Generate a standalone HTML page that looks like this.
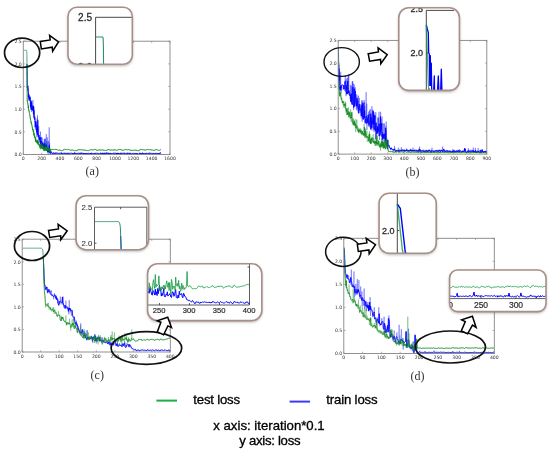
<!DOCTYPE html><html><head><meta charset="utf-8"><title>loss curves</title><style>html,body{margin:0;padding:0;background:#fff;width:550px;height:453px;overflow:hidden}svg{display:block}</style></head><body><svg width="550" height="453" viewBox="0 0 550 453"><defs><filter id="sh" x="-20%" y="-20%" width="140%" height="150%"><feDropShadow dx="0" dy="1.2" stdDeviation="1.7" flood-color="#000" flood-opacity="0.4"/></filter><clipPath id="clipa"><rect x="23.3" y="41.2" width="146.7" height="113.3"/></clipPath><clipPath id="clipb"><rect x="338.2" y="40.4" width="148.60000000000002" height="113.69999999999999"/></clipPath><clipPath id="clipc"><rect x="22.2" y="239.2" width="148.10000000000002" height="112.80000000000001"/></clipPath><clipPath id="clipd"><rect x="343.8" y="238.3" width="150.5" height="115.19999999999999"/></clipPath><clipPath id="ica"><rect x="68" y="7.3" width="64.3" height="57" rx="9"/></clipPath><clipPath id="icb"><rect x="398.8" y="7.7" width="60.6" height="82.7" rx="10"/></clipPath><clipPath id="icc"><rect x="76.1" y="195.7" width="72.4" height="54" rx="10"/></clipPath><clipPath id="icc2"><rect x="147.6" y="263.7" width="114.2" height="56.9" rx="10"/></clipPath><clipPath id="icd"><rect x="379.1" y="193.3" width="57.1" height="59.9" rx="10"/></clipPath><clipPath id="icd2"><rect x="449.6" y="270" width="96.4" height="41.6" rx="8"/></clipPath></defs><rect width="550" height="453" fill="#fff"/><g clip-path="url(#clipa)">
<polyline points="27,63.9 27.1,70.7 27.2,77.5 27.2,88 27.3,86.9 27.4,88.2 27.5,91.5 27.6,86.8 27.7,86.3 27.8,90.7 27.9,85.2 28,87.6 28.1,88.9 28.2,90.3 28.3,89.4 28.3,96.8 28.4,91.8 28.5,92.6 28.6,100.3 28.7,94.7 28.8,97.2 28.9,94.5 29,98.5 29.1,97.6 29.2,96.9 29.3,100.8 29.4,96.8 29.4,99.2 29.5,97.8 29.6,101.1 29.7,96.7 29.8,98.5 29.9,99.1 30,99.1 30.1,97.6 30.2,96.4 30.3,106.6 30.4,99.7 30.5,100.7 30.5,100.4 30.6,106.3 30.7,100 30.8,107.8 30.9,102.7 31,100.9 31.1,109.8 31.2,106.3 31.3,109.6 31.4,105.4 31.5,102 31.6,100.7 31.6,112.1 31.7,108.7 31.8,105.1 31.9,102.7 32,106.3 32.1,109.9 32.2,107 32.3,108.1 32.4,108.9 32.5,110.6 32.6,107.5 32.7,107.9 32.7,109.3 32.8,109.8 32.9,100 33,111 33.1,106.2 33.2,110.5 33.3,114.3 33.4,106.7 33.5,109.7 33.6,105.6 33.7,112.2 33.8,114.3 33.8,117.8 33.9,110.2 34,107.1 34.1,117.7 34.2,117.8 34.3,114.7 34.4,119.5 34.5,118.4 34.6,119.2 34.7,118.2 34.8,116.1 34.9,119.9 34.9,117.8 35,122.3 35.1,120.6 35.2,128.4 35.3,127 35.4,120.9 35.5,125.5 35.6,122.6 35.7,123.3 35.8,121.5 35.9,123.6 36,123.5 36,127.4 36.1,129.6 36.2,130.3 36.3,130.1 36.4,127.7 36.5,131.4 36.6,130.6 36.7,121.4 36.8,132.4 36.9,137.3 37,124.8 37.1,131.5 37.1,118.7 37.2,130.9 37.3,134.7 37.4,135.2 37.5,115.3 37.6,131.3 37.7,128.4 37.8,119.7 37.9,136.7 38,133.4 38.1,120.3 38.2,133.4 38.2,133.7 38.3,134.9 38.4,135.2 38.5,140.4 38.6,136.7 38.7,126.2 38.8,136.4 38.9,138.3 39,135.4 39.1,135 39.2,136.8 39.3,137 39.3,137.9 39.4,139.7 39.5,139 39.6,140.2 39.7,137.8 39.8,139.1 39.9,137.6 40,143.4 40.1,137.1 40.2,142.1 40.3,142.2 40.4,140.8 40.4,142.1 40.5,131.6 40.6,142.5 40.7,144.1 40.8,143.7 40.9,137.5 41,141.4 41.1,145.2 41.2,141.9 41.3,146.7 41.4,137 41.5,147 41.5,141.2 41.6,141.7 41.7,146 41.8,142.6 41.9,141.4 42,142.6 42.1,143.2 42.2,137.6 42.3,143.8 42.4,143.6 42.5,144.8 42.6,143.4 42.6,146.8 42.7,143.4 42.8,146.3 42.9,147.7 43,144.8 43.1,142.2 43.2,143.7 43.3,146.8 43.4,144.4 43.5,146.9 43.6,146.3 43.7,145.9 43.7,150.9 43.8,145.9 43.9,148.5 44,147.9 44.1,149.6 44.2,139.3 44.3,148.6 44.4,145.1 44.5,143.5 44.6,147 44.7,138.6 44.8,147.7 44.8,151.1 44.9,147 45,146.5 45.1,148.4 45.2,147 45.3,146.5 45.4,145.5 45.5,138.8 45.6,148.4 45.7,148.4 45.8,148.8 45.9,146.2 45.9,144.8 46,143.9 46.1,147 46.2,146.6 46.3,134.1 46.4,146.6 46.5,149.6 46.6,147.4 46.7,144.8 46.8,147.4 46.9,150.4 47,148 47,141.3 47.1,148.6 47.2,150.6 47.3,137.3 47.4,152.2 47.5,148.7 47.6,149.9 47.7,152.3 47.8,147.5 47.9,149.4 48,152.5 48.1,149 48.1,151.2 48.2,154.3 48.3,151.9 48.4,150 48.5,149.3 48.6,140.9 48.7,150.7 48.8,149.9 48.9,151.3 49,148.5 49.1,150.7 49.2,150.5 49.2,127.3 49.3,145.4 49.4,152.7 49.5,148.2 49.6,143.2 49.7,152 49.8,150.8 49.9,152.6 50,151.1 50.1,153.1 50.2,151.2 50.3,155.1 50.3,149.2 50.4,153 50.5,155.3 50.6,152.6 50.7,152.9 50.8,152.2 51,152.8 51.2,152.3 51.4,151.1 51.5,153.2 51.7,152.7 51.9,153 52.1,152.9 52.3,153.9 52.5,153.7 52.6,153.2 52.8,153.4 53,152.7 53.2,153.7 53.4,153.3 53.6,152.2 53.7,153.7 53.9,153.7 54.1,153.4 54.3,153.4 54.5,153 54.7,153.3 54.8,153.7 55,153.3 55.2,152.3 55.4,152.9 55.6,154.5 55.8,153.4 55.9,153.7 56.1,153.1 56.3,153.4 56.5,152.6 56.7,153 56.9,153 57,153.3 57.2,153.4 57.4,153.2 57.6,152.8 57.8,153.2 58,153.5 58.1,152.9 58.3,153.3 58.5,153.4 58.7,153.7 58.9,153.6 59.1,153.6 59.2,154.5 59.4,153 59.6,153.2 59.8,153.5 60,153 60.2,153.2 60.3,153.2 60.5,154.4 60.7,153.5 60.9,153.2 61.1,152.7 61.3,152.6 61.4,152.8 61.6,153.9 61.8,154.3 62,153.2 62.2,153.4 62.4,153 62.5,153.4 62.7,153.3 62.9,154 63.1,153.2 63.3,153.6 63.5,153.2 63.6,153.2 63.8,153.4 64,153.3 64.2,153.4 64.4,153.1 64.6,153.2 64.7,153.6 64.9,153.6 65.1,152.7 65.3,153.4 65.5,153 65.7,153.2 65.8,153.6 66,153.7 66.2,153.3 66.4,153.3 66.6,153.1 66.8,153.9 66.9,153.6 67.1,153.4 67.3,152.7 67.5,154.4 67.7,153.2 67.9,153.6 68,153.2 68.2,153.6 68.4,153.3 68.6,152.8 68.8,153.3 69,153.2 69.1,153.2 69.3,153.7 69.5,153.2 69.7,153.5 69.9,153.7 70.1,153.4 70.2,153.5 70.4,153.1 70.6,153.4 70.8,153.6 71,152.8 71.2,153 71.3,152.9 71.5,153.2 71.7,153.5 71.9,153.6 72.1,153.5 72.3,153 72.4,153.4 72.6,154 72.8,153.4 73,154 73.2,153.3 73.4,153.9 73.5,153.9 73.7,153.4 73.9,153.4 74.1,154.1 74.3,153.1 74.5,152.5 74.6,154 74.8,152.7 75,153.7 75.2,153.6 75.4,153.5 75.6,154 75.7,152.9 75.9,153.2 76.1,153.7 76.3,153.5 76.5,154 76.7,153.6 76.8,153 77,154.1 77.2,153.6 77.4,153.4 77.6,153 77.8,152.9 77.9,153.6 78.1,153.7 78.3,153.2 78.5,153.6 78.7,153.5 78.9,153 79,152.7 79.2,153.3 79.4,153.5 79.6,153.2 79.8,154.2 80,153.4 80.1,153.9 80.3,152.5 80.5,153.1 80.7,153.4 80.9,153.5 81.1,154.5 81.2,153.1 81.4,152.8 81.6,153.7 81.8,153.1 82,153.1 82.2,154.1 82.3,153 82.5,152.9 82.7,153.3 82.9,153.5 83.1,153.1 83.3,154.1 83.4,153.4 83.6,153 83.8,153.9 84,153 84.2,153.6 84.4,154.3 84.5,153.5 84.7,153.8 84.9,153.3 85.1,153.9 85.3,153 85.5,153.7 85.6,153.3 85.8,153.7 86,153.6 86.2,153 86.4,153.3 86.6,153.6 86.7,153.9 86.9,153 87.1,153.1 87.3,153.6 87.5,153.3 87.7,153.9 87.8,153.9 88,153.8 88.2,153.3 88.4,153.3 88.6,153.7 88.8,153.1 88.9,153.1 89.1,153.4 89.3,153 89.5,153.6 89.7,153.5 89.9,153.3 90,153.5 90.2,153.1 90.4,154 90.6,152.9 90.8,153.8 91,153.5 91.1,154 91.3,153.2 91.5,152.9 91.7,153 91.9,153.1 92.1,154.1 92.2,153.8 92.4,153.6 92.6,153.8 92.8,153 93,153.4 93.2,153.5 93.3,153.3 93.5,153.8 93.7,153.8 93.9,153.8 94.1,153.3 94.3,153.3 94.4,153.2 94.6,153 94.8,154 95,153.7 95.2,153.4 95.4,154 95.5,153.7 95.7,153 95.9,153 96.1,153 96.3,153.4 96.5,153.5 96.6,153 96.8,153.6 97,153.3 97.2,152.9 97.4,153.6 97.6,153.7 97.8,153.5 97.9,153.2 98.1,153.3 98.3,153.4 98.5,153.2 98.7,154.1 98.9,153.8 99,153.4 99.2,153.8 99.4,154 99.6,154 99.8,153.8 100,153.5 100.1,153.9 100.3,153.4 100.5,152.8 100.7,153.5 100.9,152.9 101.1,153.4 101.2,153.9 101.4,153.6 101.6,153.9 101.8,153.2 102,153.9 102.2,152.9 102.3,153.2 102.5,154.3 102.7,153.2 102.9,152.8 103.1,153.8 103.3,153.1 103.4,154.2 103.6,153.4 103.8,154.2 104,153.3 104.2,154.2 104.4,154.5 104.5,153.3 104.7,152.5 104.9,153.7 105.1,153.1 105.3,153.4 105.5,153.6 105.6,153.2 105.8,152.8 106,154 106.2,153.2 106.4,153.3 106.6,154.1 106.7,152.8 106.9,152.7 107.1,153.9 107.3,152.8 107.5,153.5 107.7,153.5 107.8,152.9 108,153.4 108.2,153.4 108.4,152.9 108.6,153 108.8,153.1 108.9,154.1 109.1,154.1 109.3,153 109.5,153.9 109.7,153.4 109.9,153.9 110,153.6 110.2,154 110.4,152.8 110.6,153.9 110.8,153.5 111,153.6 111.1,153 111.3,154.1 111.5,153.5 111.7,153.6 111.9,153.3 112.1,153.3 112.2,153.7 112.4,153.4 112.6,153.6 112.8,153.3 113,153.5 113.2,153.8 113.3,153.5 113.5,153.3 113.7,152.6 113.9,153.7 114.1,153.4 114.3,152.9 114.4,154.3 114.6,154.2 114.8,154 115,153.5 115.2,152.5 115.4,153.3 115.5,153 115.7,153.6 115.9,154.5 116.1,154.4 116.3,153.1 116.5,153.4 116.6,154 116.8,153 117,154.1 117.2,153 117.4,152.9 117.6,153.8 117.7,154 117.9,153.2 118.1,154 118.3,153.2 118.5,154 118.7,153.2 118.8,153.5 119,153.7 119.2,153.9 119.4,153.4 119.6,154.3 119.8,153.6 119.9,153.7 120.1,153.2 120.3,154 120.5,152.8 120.7,153.6 120.9,154 121,152.9 121.2,152.8 121.4,153.6 121.6,153.9 121.8,153.5 122,153.8 122.1,153.6 122.3,152.9 122.5,153.4 122.7,153.5 122.9,153.4 123.1,153.5 123.2,153.2 123.4,153.2 123.6,153.7 123.8,153.5 124,152.5 124.2,153.3 124.3,153.6 124.5,152.7 124.7,153.5 124.9,154 125.1,153.2 125.3,153.9 125.4,153.7 125.6,153.4 125.8,153.6 126,153.8 126.2,153.7 126.4,153.8 126.5,153 126.7,153.8 126.9,153.8 127.1,152.7 127.3,153.7 127.5,152.9 127.6,153 127.8,153.6 128,154.1 128.2,153.3 128.4,153.3 128.6,153.1 128.7,153.5 128.9,153 129.1,153 129.3,154 129.5,152.9 129.7,153.5 129.8,153.8 130,153.7 130.2,152.8 130.4,153.1 130.6,154.3 130.8,153.5 130.9,153.6 131.1,153.6 131.3,153.7 131.5,154.1 131.7,153.2 131.9,153.9 132,153.7 132.2,153.8 132.4,153.8 132.6,153.2 132.8,153.4 133,153.8 133.1,153.9 133.3,153.7 133.5,153.1 133.7,153.5 133.9,153.4 134.1,153.7 134.2,153.6 134.4,153.4 134.6,154.3 134.8,152.9 135,153.9 135.2,153.8 135.3,153 135.5,153.4 135.7,153.5 135.9,153.8 136.1,154.2 136.3,153.5 136.4,153.1 136.6,153.9 136.8,153 137,154 137.2,153.8 137.4,153.3 137.5,153.5 137.7,153.3 137.9,153.8 138.1,154 138.3,154.3 138.5,154 138.6,154 138.8,154.1 139,153.4 139.2,153.8 139.4,154.4 139.6,152.5 139.7,153.9 139.9,154.1 140.1,153 140.3,153.1 140.5,154 140.7,154.2 140.8,154 141,153.1 141.2,153.7 141.4,153.9 141.6,153.6 141.8,153.1 141.9,154.1 142.1,153.7 142.3,154.1 142.5,152.7 142.7,152.8 142.9,153.2 143,153.6 143.2,153.3 143.4,154.4 143.6,153.4 143.8,154.1 144,154.1 144.1,153.8 144.3,153.7 144.5,153.3 144.7,153.3 144.9,153.5 145.1,153.9 145.2,153.3 145.4,153.6 145.6,153.1 145.8,153.9 146,154.7 146.2,153.8 146.3,152.7 146.5,153.4 146.7,153.6 146.9,153.2 147.1,153.4 147.3,153.4 147.4,153.8 147.6,153.5 147.8,153.5 148,153.8 148.2,154 148.4,153.5 148.5,153.2 148.7,153.3 148.9,153.4 149.1,153.4 149.3,152.5 149.5,153.5 149.6,153.1 149.8,152.8 150,153.5 150.2,153.5 150.4,153.1 150.6,152.9 150.7,153.4 150.9,153.4 151.1,153.5 151.3,154.1 151.5,153.1 151.7,153.7 151.8,154.3 152,153.6 152.2,154.3 152.4,154 152.6,153.6 152.8,154 152.9,153.1 153.1,154.2 153.3,153.5 153.5,153.3 153.7,153 153.9,153.2 154,153.5 154.2,153.5 154.4,153.6 154.6,153.1 154.8,153.8 155,153.4 155.1,153.6 155.3,153.5 155.5,153.7 155.7,152.7 155.9,153.8 156.1,153.5 156.2,153.5 156.4,153.3 156.6,153.4 156.8,153.4 157,153.2 157.2,154.2 157.3,153.6 157.5,154.1 157.7,153.5 157.9,154.1 158.1,154 158.3,153.6 158.4,153 158.6,153.3 158.8,153.5 159,153 159.2,154 159.4,154.4 159.5,153.8 159.7,153.7 159.9,153.1 160.1,152.7 160.3,154.1 160.5,152.6 160.6,152.9 160.8,153.2" fill="none" stroke="#0000ff" stroke-width="0.6400000000000001" stroke-linejoin="round" stroke-opacity="0.5"/>
<polyline points="27,63.9 27.1,70.7 27.2,77.5 27.2,86.9 27.3,88 27.4,88.2 27.5,88.2 27.6,86.8 27.7,86.8 27.8,86.3 27.9,87.6 28,87.6 28.1,88.9 28.2,89.4 28.3,90.3 28.3,91.8 28.4,92.6 28.5,92.6 28.6,94.7 28.7,97.2 28.8,94.7 28.9,97.2 29,97.6 29.1,97.6 29.2,97.6 29.3,96.9 29.4,99.2 29.4,97.8 29.5,99.2 29.6,97.8 29.7,98.5 29.8,98.5 29.9,99.1 30,99.1 30.1,97.6 30.2,97.6 30.3,99.7 30.4,100.7 30.5,100.4 30.5,100.7 30.6,100.4 30.7,106.3 30.8,102.7 30.9,102.7 31,102.7 31.1,106.3 31.2,109.6 31.3,106.3 31.4,105.4 31.5,102 31.6,102 31.6,108.7 31.7,108.7 31.8,105.1 31.9,105.1 32,106.3 32.1,107 32.2,108.1 32.3,108.1 32.4,108.9 32.5,108.9 32.6,107.9 32.7,107.9 32.7,109.3 32.8,109.3 32.9,109.8 33,106.2 33.1,110.5 33.2,110.5 33.3,110.5 33.4,109.7 33.5,106.7 33.6,109.7 33.7,112.2 33.8,114.3 33.8,114.3 33.9,110.2 34,110.2 34.1,117.7 34.2,117.7 34.3,117.8 34.4,118.4 34.5,119.2 34.6,118.4 34.7,118.2 34.8,118.2 34.9,117.8 34.9,119.9 35,120.6 35.1,122.3 35.2,127 35.3,127 35.4,125.5 35.5,122.6 35.6,123.3 35.7,122.6 35.8,123.3 35.9,123.5 36,123.6 36,127.4 36.1,129.6 36.2,130.1 36.3,130.1 36.4,130.1 36.5,130.6 36.6,130.6 36.7,130.6 36.8,132.4 36.9,132.4 37,131.5 37.1,124.8 37.1,130.9 37.2,130.9 37.3,134.7 37.4,134.7 37.5,131.3 37.6,128.4 37.7,128.4 37.8,128.4 37.9,133.4 38,133.4 38.1,133.4 38.2,133.4 38.2,133.7 38.3,134.9 38.4,135.2 38.5,136.7 38.6,136.7 38.7,136.4 38.8,136.4 38.9,136.4 39,135.4 39.1,135.4 39.2,136.8 39.3,137 39.3,137.9 39.4,139 39.5,139.7 39.6,139 39.7,139.1 39.8,137.8 39.9,139.1 40,137.6 40.1,142.1 40.2,142.1 40.3,142.1 40.4,142.1 40.4,140.8 40.5,142.1 40.6,142.5 40.7,143.7 40.8,143.7 40.9,141.4 41,141.4 41.1,141.9 41.2,145.2 41.3,141.9 41.4,146.7 41.5,141.2 41.5,141.7 41.6,141.7 41.7,142.6 41.8,142.6 41.9,142.6 42,142.6 42.1,142.6 42.2,143.2 42.3,143.6 42.4,143.8 42.5,143.6 42.6,144.8 42.6,143.4 42.7,146.3 42.8,146.3 42.9,146.3 43,144.8 43.1,143.7 43.2,143.7 43.3,144.4 43.4,146.8 43.5,146.3 43.6,146.3 43.7,146.3 43.7,145.9 43.8,148.5 43.9,147.9 44,148.5 44.1,147.9 44.2,148.6 44.3,145.1 44.4,145.1 44.5,145.1 44.6,143.5 44.7,147 44.8,147.7 44.8,147.7 44.9,147 45,147 45.1,147 45.2,147 45.3,146.5 45.4,145.5 45.5,145.5 45.6,148.4 45.7,148.4 45.8,148.4 45.9,146.2 45.9,144.8 46,144.8 46.1,146.6 46.2,146.6 46.3,146.6 46.4,146.6 46.5,147.4 46.6,147.4 46.7,147.4 46.8,147.4 46.9,148 47,148 47,148 47.1,148.6 47.2,148.6 47.3,150.6 47.4,148.7 47.5,149.9 47.6,149.9 47.7,149.9 47.8,149.4 47.9,149.4 48,149.4 48.1,151.2 48.1,151.2 48.2,151.9 48.3,151.9 48.4,150 48.5,149.3 48.6,149.3 48.7,149.9 48.8,150.7 48.9,149.9 49,150.7 49.1,150.5 49.2,150.5 49.2,145.4 49.3,145.4 49.4,148.2 49.5,148.2 49.6,148.2 49.7,150.8 49.8,152 49.9,151.1 50,152.6 50.1,151.2 50.2,153.1 50.3,151.2 50.3,153 50.4,153 50.5,153 50.6,152.9 50.7,152.6 50.8,152.8 51,152.3 51.2,152.3 51.4,152.3 51.5,152.7 51.7,153 51.9,152.9 52.1,153 52.3,153.7 52.5,153.7 52.6,153.4 52.8,153.2 53,153.4 53.2,153.3 53.4,153.3 53.6,153.3 53.7,153.7 53.9,153.7 54.1,153.4 54.3,153.4 54.5,153.3 54.7,153.3 54.8,153.3 55,153.3 55.2,152.9 55.4,152.9 55.6,153.4 55.8,153.7 55.9,153.4 56.1,153.4 56.3,153.1 56.5,153 56.7,153 56.9,153 57,153.3 57.2,153.3 57.4,153.2 57.6,153.2 57.8,153.2 58,153.2 58.1,153.3 58.3,153.3 58.5,153.4 58.7,153.6 58.9,153.6 59.1,153.6 59.2,153.6 59.4,153.2 59.6,153.2 59.8,153.2 60,153.2 60.2,153.2 60.3,153.2 60.5,153.5 60.7,153.5 60.9,153.2 61.1,152.7 61.3,152.7 61.4,152.8 61.6,153.9 61.8,153.9 62,153.4 62.2,153.2 62.4,153.4 62.5,153.3 62.7,153.4 62.9,153.3 63.1,153.6 63.3,153.2 63.5,153.2 63.6,153.2 63.8,153.3 64,153.4 64.2,153.3 64.4,153.2 64.6,153.2 64.7,153.6 64.9,153.6 65.1,153.4 65.3,153 65.5,153.2 65.7,153.2 65.8,153.6 66,153.6 66.2,153.3 66.4,153.3 66.6,153.3 66.8,153.6 66.9,153.6 67.1,153.4 67.3,153.4 67.5,153.2 67.7,153.6 67.9,153.2 68,153.6 68.2,153.3 68.4,153.3 68.6,153.3 68.8,153.2 69,153.2 69.1,153.2 69.3,153.2 69.5,153.5 69.7,153.5 69.9,153.5 70.1,153.5 70.2,153.4 70.4,153.4 70.6,153.4 70.8,153.4 71,153 71.2,152.9 71.3,153 71.5,153.2 71.7,153.5 71.9,153.5 72.1,153.5 72.3,153.4 72.4,153.4 72.6,153.4 72.8,154 73,153.4 73.2,153.9 73.4,153.9 73.5,153.9 73.7,153.4 73.9,153.4 74.1,153.4 74.3,153.1 74.5,153.1 74.6,152.7 74.8,153.7 75,153.6 75.2,153.6 75.4,153.6 75.6,153.5 75.7,153.2 75.9,153.2 76.1,153.5 76.3,153.7 76.5,153.6 76.7,153.6 76.8,153.6 77,153.6 77.2,153.6 77.4,153.4 77.6,153 77.8,153 77.9,153.6 78.1,153.6 78.3,153.6 78.5,153.5 78.7,153.5 78.9,153 79,153 79.2,153.3 79.4,153.3 79.6,153.5 79.8,153.4 80,153.9 80.1,153.4 80.3,153.1 80.5,153.1 80.7,153.4 80.9,153.5 81.1,153.5 81.2,153.1 81.4,153.1 81.6,153.1 81.8,153.1 82,153.1 82.2,153.1 82.3,153 82.5,153 82.7,153.3 82.9,153.3 83.1,153.5 83.3,153.4 83.4,153.4 83.6,153.4 83.8,153 84,153.6 84.2,153.6 84.4,153.6 84.5,153.8 84.7,153.5 84.9,153.8 85.1,153.3 85.3,153.7 85.5,153.3 85.6,153.7 85.8,153.6 86,153.6 86.2,153.3 86.4,153.3 86.6,153.6 86.7,153.6 86.9,153.1 87.1,153.1 87.3,153.3 87.5,153.6 87.7,153.9 87.8,153.9 88,153.8 88.2,153.3 88.4,153.3 88.6,153.3 88.8,153.1 88.9,153.1 89.1,153.1 89.3,153.4 89.5,153.5 89.7,153.5 89.9,153.5 90,153.3 90.2,153.5 90.4,153.1 90.6,153.8 90.8,153.5 91,153.8 91.1,153.5 91.3,153.2 91.5,153 91.7,153 91.9,153.1 92.1,153.8 92.2,153.8 92.4,153.8 92.6,153.6 92.8,153.4 93,153.4 93.2,153.4 93.3,153.5 93.5,153.8 93.7,153.8 93.9,153.8 94.1,153.3 94.3,153.3 94.4,153.2 94.6,153.2 94.8,153.7 95,153.7 95.2,153.7 95.4,153.7 95.5,153.7 95.7,153 95.9,153 96.1,153 96.3,153.4 96.5,153.4 96.6,153.5 96.8,153.3 97,153.3 97.2,153.3 97.4,153.6 97.6,153.6 97.8,153.5 97.9,153.3 98.1,153.3 98.3,153.3 98.5,153.4 98.7,153.8 98.9,153.8 99,153.8 99.2,153.8 99.4,154 99.6,154 99.8,153.8 100,153.8 100.1,153.5 100.3,153.4 100.5,153.4 100.7,152.9 100.9,153.4 101.1,153.4 101.2,153.6 101.4,153.9 101.6,153.6 101.8,153.9 102,153.2 102.2,153.2 102.3,153.2 102.5,153.2 102.7,153.2 102.9,153.2 103.1,153.1 103.3,153.8 103.4,153.4 103.6,154.2 103.8,153.4 104,154.2 104.2,154.2 104.4,154.2 104.5,153.3 104.7,153.3 104.9,153.1 105.1,153.4 105.3,153.4 105.5,153.4 105.6,153.2 105.8,153.2 106,153.2 106.2,153.3 106.4,153.3 106.6,153.3 106.7,152.8 106.9,152.8 107.1,152.8 107.3,153.5 107.5,153.5 107.7,153.5 107.8,153.4 108,153.4 108.2,153.4 108.4,153 108.6,153 108.8,153.1 108.9,154.1 109.1,154.1 109.3,153.9 109.5,153.4 109.7,153.9 109.9,153.6 110,153.9 110.2,153.6 110.4,153.9 110.6,153.5 110.8,153.6 111,153.5 111.1,153.6 111.3,153.5 111.5,153.6 111.7,153.5 111.9,153.3 112.1,153.3 112.2,153.4 112.4,153.6 112.6,153.4 112.8,153.5 113,153.5 113.2,153.5 113.3,153.5 113.5,153.3 113.7,153.3 113.9,153.4 114.1,153.4 114.3,153.4 114.4,154.2 114.6,154.2 114.8,154 115,153.5 115.2,153.3 115.4,153 115.5,153.3 115.7,153.6 115.9,154.4 116.1,154.4 116.3,153.4 116.5,153.4 116.6,153.4 116.8,154 117,153 117.2,153 117.4,153 117.6,153.8 117.7,153.8 117.9,154 118.1,153.2 118.3,154 118.5,153.2 118.7,153.5 118.8,153.5 119,153.7 119.2,153.7 119.4,153.9 119.6,153.6 119.8,153.7 119.9,153.6 120.1,153.7 120.3,153.2 120.5,153.6 120.7,153.6 120.9,153.6 121,152.9 121.2,152.9 121.4,153.6 121.6,153.6 121.8,153.8 122,153.6 122.1,153.6 122.3,153.4 122.5,153.4 122.7,153.4 122.9,153.5 123.1,153.4 123.2,153.2 123.4,153.2 123.6,153.5 123.8,153.5 124,153.3 124.2,153.3 124.3,153.3 124.5,153.5 124.7,153.5 124.9,153.5 125.1,153.9 125.3,153.7 125.4,153.7 125.6,153.6 125.8,153.6 126,153.7 126.2,153.8 126.4,153.7 126.5,153.8 126.7,153.8 126.9,153.8 127.1,153.7 127.3,152.9 127.5,153 127.6,153 127.8,153.6 128,153.6 128.2,153.3 128.4,153.3 128.6,153.3 128.7,153.1 128.9,153 129.1,153 129.3,153 129.5,153.5 129.7,153.5 129.8,153.7 130,153.7 130.2,153.1 130.4,153.1 130.6,153.5 130.8,153.6 130.9,153.6 131.1,153.6 131.3,153.7 131.5,153.7 131.7,153.9 131.9,153.7 132,153.8 132.2,153.8 132.4,153.8 132.6,153.4 132.8,153.4 133,153.8 133.1,153.8 133.3,153.7 133.5,153.5 133.7,153.4 133.9,153.5 134.1,153.6 134.2,153.6 134.4,153.6 134.6,153.4 134.8,153.9 135,153.8 135.2,153.8 135.3,153.4 135.5,153.4 135.7,153.5 135.9,153.8 136.1,153.8 136.3,153.5 136.4,153.5 136.6,153.1 136.8,153.9 137,153.8 137.2,153.8 137.4,153.5 137.5,153.3 137.7,153.5 137.9,153.8 138.1,154 138.3,154 138.5,154 138.6,154 138.8,154 139,153.8 139.2,153.8 139.4,153.8 139.6,153.9 139.7,153.9 139.9,153.9 140.1,153.1 140.3,153.1 140.5,154 140.7,154 140.8,154 141,153.7 141.2,153.7 141.4,153.7 141.6,153.6 141.8,153.6 141.9,153.7 142.1,154.1 142.3,153.7 142.5,152.8 142.7,152.8 142.9,153.2 143,153.3 143.2,153.6 143.4,153.4 143.6,154.1 143.8,154.1 144,154.1 144.1,153.8 144.3,153.7 144.5,153.3 144.7,153.3 144.9,153.5 145.1,153.5 145.2,153.6 145.4,153.3 145.6,153.6 145.8,153.9 146,153.9 146.2,153.8 146.3,153.4 146.5,153.4 146.7,153.4 146.9,153.4 147.1,153.4 147.3,153.4 147.4,153.5 147.6,153.5 147.8,153.5 148,153.8 148.2,153.8 148.4,153.5 148.5,153.3 148.7,153.3 148.9,153.4 149.1,153.4 149.3,153.4 149.5,153.1 149.6,153.1 149.8,153.1 150,153.5 150.2,153.5 150.4,153.1 150.6,153.1 150.7,153.4 150.9,153.4 151.1,153.5 151.3,153.5 151.5,153.7 151.7,153.7 151.8,153.7 152,154.3 152.2,154 152.4,154 152.6,154 152.8,153.6 152.9,154 153.1,153.5 153.3,153.5 153.5,153.3 153.7,153.2 153.9,153.2 154,153.5 154.2,153.5 154.4,153.5 154.6,153.6 154.8,153.4 155,153.6 155.1,153.5 155.3,153.6 155.5,153.5 155.7,153.7 155.9,153.5 156.1,153.5 156.2,153.5 156.4,153.4 156.6,153.4 156.8,153.4 157,153.4 157.2,153.6 157.3,154.1 157.5,153.6 157.7,154.1 157.9,154 158.1,154 158.3,153.6 158.4,153.3 158.6,153.3 158.8,153.3 159,153.5 159.2,154 159.4,154 159.5,153.8 159.7,153.7 159.9,153.1 160.1,153.1 160.3,152.7 160.5,152.9 160.6,152.9 160.8,153.2" fill="none" stroke="#0000ff" stroke-width="0.8" stroke-linejoin="round" />
<polyline points="27,63.9 27.1,75.9 27.2,88 27.2,100 27.3,101.9 27.4,99.9 27.5,101.9 27.6,103.4 27.7,102.8 27.8,104.6 27.9,103.6 28,104.7 28.1,105.6 28.2,105 28.3,107.8 28.3,105.9 28.4,109.9 28.5,106.3 28.6,108.5 28.7,109.6 28.8,110.8 28.9,109.8 29,111.1 29.1,111.7 29.2,110.8 29.3,113 29.4,113.3 29.4,113.1 29.5,112.9 29.6,114.8 29.7,114.9 29.8,115.6 29.9,115.3 30,115 30.1,118.3 30.2,117.9 30.3,118.3 30.4,118.1 30.5,117.6 30.5,119.8 30.6,120.1 30.7,119.4 30.8,122.5 30.9,122.3 31,122.4 31.1,122.2 31.2,122.3 31.3,123.6 31.4,121.3 31.5,124.5 31.6,124.3 31.6,123.2 31.7,124 31.8,125.2 31.9,125.2 32,125 32.1,126.4 32.2,126 32.3,128.1 32.4,127.4 32.5,129.7 32.6,129.2 32.7,129.9 32.7,127.5 32.8,129.9 32.9,129.4 33,131.2 33.1,130.7 33.2,131.2 33.3,132.2 33.4,130.6 33.5,133.8 33.6,131.4 33.7,129.4 33.8,133.7 33.8,133.1 33.9,135.2 34,133.7 34.1,136 34.2,133.6 34.3,135.2 34.4,137.1 34.5,136.8 34.6,137.4 34.7,136.2 34.8,135.2 34.9,137 34.9,138.2 35,138.1 35.1,137.3 35.2,140.6 35.3,137.4 35.4,137.9 35.5,141.5 35.6,137.6 35.7,141.2 35.8,139.9 35.9,138.6 36,142 36,142.4 36.1,141.7 36.2,141.8 36.3,140.8 36.4,141.4 36.5,141.5 36.6,141.7 36.7,141.4 36.8,142.4 36.9,141.1 37,141.7 37.1,143 37.1,139.8 37.2,143.6 37.3,139.9 37.4,143.2 37.5,142.1 37.6,142.1 37.7,141.8 37.8,141.3 37.9,144.1 38,139.9 38.1,142.9 38.2,144.5 38.2,145.2 38.3,141.1 38.4,142 38.5,144.1 38.6,143.3 38.7,142.8 38.8,144.4 38.9,145.1 39,144.8 39.1,144 39.2,145 39.3,144.7 39.3,144.5 39.4,147.4 39.5,146.4 39.6,144.2 39.7,145.4 39.8,145.5 39.9,145.7 40,144.7 40.1,146.1 40.2,148.3 40.3,145.9 40.4,149.8 40.4,146.8 40.5,144.6 40.6,145.3 40.7,147.1 40.8,146.7 40.9,146.6 41,145.7 41.1,147.8 41.2,148 41.3,147.8 41.4,142.4 41.5,146.9 41.5,147.8 41.6,143 41.7,148.7 41.8,147.6 41.9,148.4 42,148.9 42.1,146.4 42.2,148.2 42.3,149.1 42.4,148 42.5,149.3 42.6,147.5 42.6,147.3 42.7,147.2 42.8,144.3 42.9,148.7 43,146.4 43.1,148.8 43.2,147.1 43.3,144.9 43.4,150.2 43.5,147.2 43.6,147.8 43.7,147.7 43.7,146.7 43.8,148.2 43.9,148.6 44,148.1 44.1,149.2 44.2,148.2 44.3,151.1 44.4,146.8 44.5,149.5 44.6,148.3 44.7,148.5 44.8,148.8 44.8,148.8 44.9,148.9 45,150.9 45.1,149.6 45.2,141.9 45.3,150.2 45.4,150.3 45.5,146.6 45.6,147.7 45.7,147.3 45.8,149.2 45.9,148.8 45.9,148.3 46,148.5 46.1,149.3 46.2,150.9 46.3,150.1 46.4,151 46.5,147.5 46.6,147.6 46.7,149.6 46.8,149 46.9,142.9 47,148.8 47,149.4 47.1,151.2 47.2,147.4 47.3,150.3 47.4,150 47.5,150.4 47.6,150.2 47.7,149.5 47.8,147.3 47.9,147.6 48,149.2 48.1,150.4 48.1,148.2 48.2,151 48.3,149.5 48.4,148.8 48.5,151.2 48.6,149.5 48.7,149.5 48.8,150.6 48.9,149.9 49,148.6 49.1,149.4 49.2,150.2 49.2,150 49.3,149.2 49.4,148.3 49.5,148.9 49.6,149 49.7,148 49.8,151.6 49.9,151.5 50,152.4 50.1,148.9 50.2,152.5 50.3,149.9 50.3,149 50.4,151.5 50.5,150.7 50.6,150.2 50.7,149.1 50.8,149.9 51,149.6 51.2,149.5 51.4,149.6 51.5,149.6 51.7,149.3 51.9,149.5 52.1,149.5 52.3,149.5 52.5,149.3 52.6,149.5 52.8,149.3 53,149.4 53.2,149.3 53.4,149.7 53.6,149.5 53.7,149.5 53.9,149.5 54.1,149.4 54.3,149.5 54.5,149.4 54.7,149.1 54.8,149.3 55,149.6 55.2,149.6 55.4,149.2 55.6,149.4 55.8,149.3 55.9,149.4 56.1,149.2 56.3,149.3 56.5,149.8 56.7,149.6 56.9,149.8 57,150 57.2,149.7 57.4,150 57.6,149.9 57.8,149.6 58,149.9 58.1,150 58.3,150.3 58.5,150.5 58.7,150 58.9,150.3 59.1,150.2 59.2,150.3 59.4,150.2 59.6,149.7 59.8,150.2 60,150.2 60.2,150.1 60.3,150.1 60.5,150.4 60.7,150.5 60.9,150.4 61.1,150.4 61.3,150.6 61.4,150.7 61.6,150.8 61.8,150.7 62,150.7 62.2,151 62.4,150.8 62.5,150.5 62.7,150.5 62.9,150.6 63.1,150.3 63.3,150 63.5,149.7 63.6,150 63.8,149.4 64,149.5 64.2,149.2 64.4,149.1 64.6,149.3 64.7,149.3 64.9,149.2 65.1,149 65.3,149.3 65.5,149.5 65.7,149.5 65.8,149.3 66,149.2 66.2,149.6 66.4,149.6 66.6,149.6 66.8,149.6 66.9,149.7 67.1,149.6 67.3,149.5 67.5,149.5 67.7,149.5 67.9,149.7 68,149.6 68.2,149.6 68.4,149.3 68.6,149.3 68.8,149.5 69,149.3 69.1,149.7 69.3,149.8 69.5,150 69.7,149.8 69.9,150.1 70.1,150.1 70.2,150.1 70.4,150.3 70.6,150.6 70.8,150.4 71,150.4 71.2,150.3 71.3,150.2 71.5,150.3 71.7,150.2 71.9,149.8 72.1,149.8 72.3,150 72.4,150.2 72.6,150.1 72.8,150 73,150 73.2,149.8 73.4,150.4 73.5,150.4 73.7,150.6 73.9,150.6 74.1,150.7 74.3,150.8 74.5,150.5 74.6,150.6 74.8,150.4 75,150.6 75.2,150.5 75.4,150.4 75.6,150.8 75.7,150.7 75.9,150.3 76.1,150.5 76.3,150.9 76.5,150.7 76.7,150.8 76.8,150.7 77,150.3 77.2,150.6 77.4,150 77.6,150.3 77.8,150.3 77.9,149.8 78.1,149.8 78.3,149.6 78.5,149.5 78.7,149.6 78.9,149.5 79,150.1 79.2,149.9 79.4,149.7 79.6,149.8 79.8,149.8 80,150 80.1,149.7 80.3,149.6 80.5,149.8 80.7,149.8 80.9,149.8 81.1,149.7 81.2,149.8 81.4,149.9 81.6,149.8 81.8,149.8 82,150.2 82.2,149.9 82.3,149.9 82.5,149.9 82.7,150.1 82.9,149.9 83.1,149.9 83.3,150.1 83.4,149.9 83.6,149.9 83.8,149.9 84,150.2 84.2,150.2 84.4,150 84.5,150.2 84.7,149.6 84.9,150.2 85.1,150.2 85.3,150 85.5,150.2 85.6,150.6 85.8,150.2 86,150.4 86.2,150.3 86.4,150.6 86.6,150.5 86.7,150.4 86.9,150.4 87.1,150.6 87.3,150.6 87.5,150.7 87.7,150.5 87.8,150.6 88,150.8 88.2,150.5 88.4,150.7 88.6,150.5 88.8,150.7 88.9,150.4 89.1,150.4 89.3,150.3 89.5,150.1 89.7,150 89.9,150 90,149.9 90.2,150 90.4,149.7 90.6,150.1 90.8,150.1 91,149.7 91.1,149.7 91.3,149.4 91.5,149.6 91.7,149.6 91.9,149.9 92.1,149.9 92.2,149.8 92.4,149.9 92.6,150 92.8,150 93,150.2 93.2,150.1 93.3,150.2 93.5,149.8 93.7,149.8 93.9,149.8 94.1,149.5 94.3,149.6 94.4,149.2 94.6,149.1 94.8,149.3 95,149.5 95.2,149.7 95.4,149.2 95.5,149.5 95.7,149.9 95.9,149.6 96.1,150.2 96.3,150.1 96.5,150.2 96.6,150.3 96.8,150.5 97,149.9 97.2,150.4 97.4,150.3 97.6,150.3 97.8,150.5 97.9,150.3 98.1,150.1 98.3,149.9 98.5,150.1 98.7,149.9 98.9,150 99,149.8 99.2,150.3 99.4,149.8 99.6,150 99.8,150 100,150.4 100.1,150.1 100.3,149.9 100.5,149.6 100.7,150.2 100.9,150.2 101.1,150 101.2,150 101.4,150.1 101.6,150.1 101.8,150.1 102,149.9 102.2,149.9 102.3,149.7 102.5,149.9 102.7,150 102.9,150.1 103.1,150 103.3,150.4 103.4,149.8 103.6,150.2 103.8,150 104,150.4 104.2,150.1 104.4,150.2 104.5,150.3 104.7,150.4 104.9,150.5 105.1,150 105.3,150.1 105.5,150.3 105.6,150.3 105.8,150.5 106,150.7 106.2,150.6 106.4,150.4 106.6,150.3 106.7,150.4 106.9,149.9 107.1,149.9 107.3,149.9 107.5,150.2 107.7,149.8 107.8,149.7 108,149.9 108.2,150 108.4,149.2 108.6,149.5 108.8,149.7 108.9,149.4 109.1,149.5 109.3,149.7 109.5,149.9 109.7,149.8 109.9,149.8 110,150 110.2,150.1 110.4,150 110.6,150.6 110.8,150.1 111,150.1 111.1,150 111.3,150 111.5,149.9 111.7,149.9 111.9,149.9 112.1,150 112.2,149.9 112.4,150.1 112.6,149.8 112.8,150.3 113,150 113.2,150 113.3,150.3 113.5,150.1 113.7,149.7 113.9,149.9 114.1,150 114.3,150.3 114.4,149.7 114.6,149.7 114.8,149.6 115,149.4 115.2,149.8 115.4,149.9 115.5,150.1 115.7,150.1 115.9,150.1 116.1,150.1 116.3,150.1 116.5,150.4 116.6,150.4 116.8,150 117,150.4 117.2,150.1 117.4,149.8 117.6,149.9 117.7,149.9 117.9,149.7 118.1,149.8 118.3,149.8 118.5,149.7 118.7,149.4 118.8,149.4 119,149.2 119.2,149.5 119.4,149.5 119.6,149.5 119.8,149.3 119.9,149.5 120.1,149.2 120.3,149.3 120.5,149.5 120.7,150 120.9,149.8 121,149.3 121.2,149.7 121.4,149.7 121.6,149.9 121.8,149.9 122,150.4 122.1,150.5 122.3,150.5 122.5,150.2 122.7,150.1 122.9,150.2 123.1,150.3 123.2,150.5 123.4,150.1 123.6,150.2 123.8,150.1 124,150 124.2,150 124.3,150 124.5,149.9 124.7,149.9 124.9,149.6 125.1,149.6 125.3,149.4 125.4,149.9 125.6,149.3 125.8,149.6 126,149.7 126.2,149.8 126.4,149.8 126.5,150 126.7,149.6 126.9,149.8 127.1,149.6 127.3,149.6 127.5,149.8 127.6,149.7 127.8,149.7 128,149.5 128.2,149.6 128.4,149.6 128.6,149.6 128.7,149.7 128.9,149.4 129.1,150 129.3,149.7 129.5,149.7 129.7,150.2 129.8,149.9 130,150.1 130.2,150 130.4,150.5 130.6,150.2 130.8,150.5 130.9,150.3 131.1,150 131.3,150.3 131.5,150.6 131.7,150.4 131.9,150.4 132,150 132.2,150.3 132.4,150.4 132.6,150 132.8,150.1 133,150.1 133.1,150.4 133.3,150 133.5,150.3 133.7,150.6 133.9,150.4 134.1,150.4 134.2,150.2 134.4,150 134.6,150.3 134.8,150.3 135,149.7 135.2,150.1 135.3,150.2 135.5,150.1 135.7,150.4 135.9,150.1 136.1,150 136.3,150.3 136.4,150 136.6,150.3 136.8,150.2 137,150.4 137.2,150.5 137.4,150.6 137.5,150.4 137.7,150.6 137.9,150.6 138.1,150.9 138.3,150.9 138.5,150.9 138.6,150.7 138.8,150.7 139,150.9 139.2,150.6 139.4,150.2 139.6,150.4 139.7,149.8 139.9,149.9 140.1,149.6 140.3,149.8 140.5,149.3 140.7,149.7 140.8,149.3 141,149.4 141.2,149.7 141.4,149.6 141.6,149.2 141.8,149.4 141.9,149.3 142.1,149.6 142.3,150.2 142.5,149.7 142.7,149.9 142.9,149.9 143,149.9 143.2,149.9 143.4,149.9 143.6,149.5 143.8,149.7 144,149.9 144.1,149.9 144.3,149.8 144.5,149.9 144.7,150 144.9,150.3 145.1,150.2 145.2,150.3 145.4,150.4 145.6,149.9 145.8,150.1 146,150.1 146.2,150.1 146.3,149.7 146.5,149.4 146.7,149.6 146.9,149.5 147.1,149.8 147.3,149.5 147.4,149.5 147.6,149.3 147.8,149.5 148,149.7 148.2,149.6 148.4,149.7 148.5,149.4 148.7,149.5 148.9,149.6 149.1,149.7 149.3,149.6 149.5,149.9 149.6,150 149.8,150.2 150,149.7 150.2,149.8 150.4,149.8 150.6,149.9 150.7,149.6 150.9,150.1 151.1,149.7 151.3,150 151.5,150 151.7,150.1 151.8,149.9 152,150 152.2,149.9 152.4,150.1 152.6,150.3 152.8,150 152.9,149.9 153.1,150.1 153.3,150.3 153.5,150.2 153.7,150.7 153.9,150.4 154,150.2 154.2,150.2 154.4,150.4 154.6,150.1 154.8,150.2 155,149.9 155.1,150.2 155.3,150 155.5,149.7 155.7,149.6 155.9,149.5 156.1,149.6 156.2,149.6 156.4,149.4 156.6,149.4 156.8,149.9 157,149.7 157.2,149.7 157.3,149.8 157.5,149.7 157.7,150.2 157.9,150 158.1,150.5 158.3,150.4 158.4,150.4 158.6,150.4 158.8,150.4 159,150.4 159.2,150.3 159.4,150.3 159.5,150.5 159.7,150.4 159.9,150.2 160.1,149.9 160.3,149.8 160.5,149.5 160.6,150 160.8,150.1" fill="none" stroke="#108c20" stroke-width="0.6400000000000001" stroke-linejoin="round" stroke-opacity="0.5"/>
<polyline points="27,63.9 27.1,75.9 27.2,88 27.2,100 27.3,100 27.4,101.9 27.5,101.9 27.6,102.8 27.7,103.4 27.8,103.6 27.9,104.6 28,104.7 28.1,105 28.2,105.6 28.3,105.9 28.3,107.8 28.4,106.3 28.5,108.5 28.6,108.5 28.7,109.6 28.8,109.8 28.9,110.8 29,111.1 29.1,111.1 29.2,111.7 29.3,113 29.4,113.1 29.4,113.1 29.5,113.1 29.6,114.8 29.7,114.9 29.8,115.3 29.9,115.3 30,115.3 30.1,117.9 30.2,118.3 30.3,118.1 30.4,118.1 30.5,118.1 30.5,119.8 30.6,119.8 30.7,120.1 30.8,122.3 30.9,122.4 31,122.3 31.1,122.3 31.2,122.3 31.3,122.3 31.4,123.6 31.5,124.3 31.6,124.3 31.6,124 31.7,124 31.8,125.2 31.9,125.2 32,125.2 32.1,126 32.2,126.4 32.3,127.4 32.4,128.1 32.5,129.2 32.6,129.7 32.7,129.2 32.7,129.9 32.8,129.4 32.9,129.9 33,130.7 33.1,131.2 33.2,131.2 33.3,131.2 33.4,132.2 33.5,131.4 33.6,131.4 33.7,131.4 33.8,133.1 33.8,133.7 33.9,133.7 34,135.2 34.1,133.7 34.2,135.2 34.3,135.2 34.4,136.8 34.5,137.1 34.6,136.8 34.7,136.2 34.8,136.2 34.9,137 34.9,138.1 35,138.1 35.1,138.1 35.2,137.4 35.3,137.9 35.4,137.9 35.5,137.9 35.6,141.2 35.7,139.9 35.8,139.9 35.9,139.9 36,142 36,142 36.1,141.8 36.2,141.7 36.3,141.4 36.4,141.4 36.5,141.5 36.6,141.5 36.7,141.7 36.8,141.4 36.9,141.7 37,141.7 37.1,141.7 37.1,143 37.2,139.9 37.3,143.2 37.4,142.1 37.5,142.1 37.6,142.1 37.7,141.8 37.8,141.8 37.9,141.3 38,142.9 38.1,142.9 38.2,144.5 38.2,144.5 38.3,142 38.4,142 38.5,143.3 38.6,143.3 38.7,143.3 38.8,144.4 38.9,144.8 39,144.8 39.1,144.8 39.2,144.7 39.3,144.7 39.3,144.7 39.4,146.4 39.5,146.4 39.6,145.4 39.7,145.4 39.8,145.5 39.9,145.5 40,145.7 40.1,146.1 40.2,146.1 40.3,148.3 40.4,146.8 40.4,146.8 40.5,145.3 40.6,145.3 40.7,146.7 40.8,146.7 40.9,146.6 41,146.6 41.1,147.8 41.2,147.8 41.3,147.8 41.4,146.9 41.5,146.9 41.5,146.9 41.6,147.8 41.7,147.6 41.8,148.4 41.9,148.4 42,148.4 42.1,148.2 42.2,148.2 42.3,148.2 42.4,149.1 42.5,148 42.6,147.5 42.6,147.3 42.7,147.2 42.8,147.2 42.9,146.4 43,148.7 43.1,147.1 43.2,147.1 43.3,147.1 43.4,147.2 43.5,147.8 43.6,147.7 43.7,147.7 43.7,147.7 43.8,148.2 43.9,148.2 44,148.6 44.1,148.2 44.2,149.2 44.3,148.2 44.4,149.5 44.5,148.3 44.6,148.5 44.7,148.5 44.8,148.8 44.8,148.8 44.9,148.9 45,149.6 45.1,149.6 45.2,149.6 45.3,150.2 45.4,150.2 45.5,147.7 45.6,147.3 45.7,147.7 45.8,148.8 45.9,148.8 45.9,148.5 46,148.5 46.1,149.3 46.2,150.1 46.3,150.9 46.4,150.1 46.5,147.6 46.6,147.6 46.7,149 46.8,149 46.9,148.8 47,148.8 47,149.4 47.1,149.4 47.2,150.3 47.3,150 47.4,150.3 47.5,150.2 47.6,150.2 47.7,149.5 47.8,147.6 47.9,147.6 48,149.2 48.1,149.2 48.1,150.4 48.2,149.5 48.3,149.5 48.4,149.5 48.5,149.5 48.6,149.5 48.7,149.5 48.8,149.9 48.9,149.9 49,149.4 49.1,149.4 49.2,150 49.2,150 49.3,149.2 49.4,148.9 49.5,148.9 49.6,148.9 49.7,149 49.8,151.5 49.9,151.6 50,151.5 50.1,152.4 50.2,149.9 50.3,149.9 50.3,149.9 50.4,150.7 50.5,150.7 50.6,150.2 50.7,149.9 50.8,149.6 51,149.6 51.2,149.6 51.4,149.6 51.5,149.6 51.7,149.5 51.9,149.5 52.1,149.5 52.3,149.5 52.5,149.5 52.6,149.3 52.8,149.4 53,149.3 53.2,149.4 53.4,149.5 53.6,149.5 53.7,149.5 53.9,149.5 54.1,149.5 54.3,149.4 54.5,149.4 54.7,149.3 54.8,149.3 55,149.6 55.2,149.6 55.4,149.4 55.6,149.3 55.8,149.4 55.9,149.3 56.1,149.3 56.3,149.3 56.5,149.6 56.7,149.8 56.9,149.8 57,149.8 57.2,150 57.4,149.9 57.6,149.9 57.8,149.9 58,149.9 58.1,150 58.3,150.3 58.5,150.3 58.7,150.3 58.9,150.2 59.1,150.3 59.2,150.2 59.4,150.2 59.6,150.2 59.8,150.2 60,150.2 60.2,150.1 60.3,150.1 60.5,150.4 60.7,150.4 60.9,150.4 61.1,150.4 61.3,150.6 61.4,150.7 61.6,150.7 61.8,150.7 62,150.7 62.2,150.8 62.4,150.8 62.5,150.5 62.7,150.5 62.9,150.5 63.1,150.3 63.3,150 63.5,150 63.6,149.7 63.8,149.5 64,149.4 64.2,149.2 64.4,149.2 64.6,149.3 64.7,149.3 64.9,149.2 65.1,149.2 65.3,149.3 65.5,149.5 65.7,149.5 65.8,149.3 66,149.3 66.2,149.6 66.4,149.6 66.6,149.6 66.8,149.6 66.9,149.6 67.1,149.6 67.3,149.5 67.5,149.5 67.7,149.5 67.9,149.6 68,149.6 68.2,149.6 68.4,149.3 68.6,149.3 68.8,149.3 69,149.5 69.1,149.7 69.3,149.8 69.5,149.8 69.7,150 69.9,150.1 70.1,150.1 70.2,150.1 70.4,150.3 70.6,150.4 70.8,150.4 71,150.4 71.2,150.3 71.3,150.3 71.5,150.2 71.7,150.2 71.9,149.8 72.1,149.8 72.3,150 72.4,150.1 72.6,150.1 72.8,150 73,150 73.2,150 73.4,150.4 73.5,150.4 73.7,150.6 73.9,150.6 74.1,150.7 74.3,150.7 74.5,150.6 74.6,150.5 74.8,150.6 75,150.5 75.2,150.5 75.4,150.5 75.6,150.7 75.7,150.7 75.9,150.5 76.1,150.5 76.3,150.7 76.5,150.8 76.7,150.7 76.8,150.7 77,150.6 77.2,150.3 77.4,150.3 77.6,150.3 77.8,150.3 77.9,149.8 78.1,149.8 78.3,149.6 78.5,149.6 78.7,149.5 78.9,149.6 79,149.9 79.2,149.9 79.4,149.8 79.6,149.8 79.8,149.8 80,149.8 80.1,149.7 80.3,149.7 80.5,149.8 80.7,149.8 80.9,149.8 81.1,149.8 81.2,149.8 81.4,149.8 81.6,149.8 81.8,149.8 82,149.9 82.2,149.9 82.3,149.9 82.5,149.9 82.7,149.9 82.9,149.9 83.1,149.9 83.3,149.9 83.4,149.9 83.6,149.9 83.8,149.9 84,150.2 84.2,150.2 84.4,150.2 84.5,150 84.7,150.2 84.9,150.2 85.1,150.2 85.3,150.2 85.5,150.2 85.6,150.2 85.8,150.4 86,150.3 86.2,150.4 86.4,150.5 86.6,150.5 86.7,150.4 86.9,150.4 87.1,150.6 87.3,150.6 87.5,150.6 87.7,150.6 87.8,150.6 88,150.6 88.2,150.7 88.4,150.5 88.6,150.7 88.8,150.5 88.9,150.4 89.1,150.4 89.3,150.3 89.5,150.1 89.7,150 89.9,150 90,150 90.2,149.9 90.4,150 90.6,150.1 90.8,150.1 91,149.7 91.1,149.7 91.3,149.6 91.5,149.6 91.7,149.6 91.9,149.9 92.1,149.9 92.2,149.9 92.4,149.9 92.6,150 92.8,150 93,150.1 93.2,150.2 93.3,150.1 93.5,149.8 93.7,149.8 93.9,149.8 94.1,149.6 94.3,149.5 94.4,149.2 94.6,149.2 94.8,149.3 95,149.5 95.2,149.5 95.4,149.5 95.5,149.5 95.7,149.6 95.9,149.9 96.1,150.1 96.3,150.2 96.5,150.2 96.6,150.3 96.8,150.3 97,150.4 97.2,150.3 97.4,150.3 97.6,150.3 97.8,150.3 97.9,150.3 98.1,150.1 98.3,150.1 98.5,149.9 98.7,150 98.9,149.9 99,150 99.2,149.8 99.4,150 99.6,150 99.8,150 100,150.1 100.1,150.1 100.3,149.9 100.5,149.9 100.7,150.2 100.9,150.2 101.1,150 101.2,150 101.4,150.1 101.6,150.1 101.8,150.1 102,149.9 102.2,149.9 102.3,149.9 102.5,149.9 102.7,150 102.9,150 103.1,150.1 103.3,150 103.4,150.2 103.6,150 103.8,150.2 104,150.1 104.2,150.2 104.4,150.2 104.5,150.3 104.7,150.4 104.9,150.4 105.1,150.1 105.3,150.1 105.5,150.3 105.6,150.3 105.8,150.5 106,150.6 106.2,150.6 106.4,150.4 106.6,150.4 106.7,150.3 106.9,149.9 107.1,149.9 107.3,149.9 107.5,149.9 107.7,149.8 107.8,149.8 108,149.9 108.2,149.9 108.4,149.5 108.6,149.5 108.8,149.5 108.9,149.5 109.1,149.5 109.3,149.7 109.5,149.8 109.7,149.8 109.9,149.8 110,150 110.2,150 110.4,150.1 110.6,150.1 110.8,150.1 111,150.1 111.1,150 111.3,150 111.5,149.9 111.7,149.9 111.9,149.9 112.1,149.9 112.2,150 112.4,149.9 112.6,150.1 112.8,150 113,150 113.2,150 113.3,150.1 113.5,150.1 113.7,149.9 113.9,149.9 114.1,150 114.3,150 114.4,149.7 114.6,149.7 114.8,149.6 115,149.6 115.2,149.8 115.4,149.9 115.5,150.1 115.7,150.1 115.9,150.1 116.1,150.1 116.3,150.1 116.5,150.4 116.6,150.4 116.8,150.4 117,150.1 117.2,150.1 117.4,149.9 117.6,149.9 117.7,149.9 117.9,149.8 118.1,149.8 118.3,149.8 118.5,149.7 118.7,149.4 118.8,149.4 119,149.4 119.2,149.5 119.4,149.5 119.6,149.5 119.8,149.5 119.9,149.3 120.1,149.3 120.3,149.3 120.5,149.5 120.7,149.8 120.9,149.8 121,149.7 121.2,149.7 121.4,149.7 121.6,149.9 121.8,149.9 122,150.4 122.1,150.5 122.3,150.5 122.5,150.2 122.7,150.2 122.9,150.2 123.1,150.3 123.2,150.3 123.4,150.2 123.6,150.1 123.8,150.1 124,150 124.2,150 124.3,150 124.5,149.9 124.7,149.9 124.9,149.6 125.1,149.6 125.3,149.6 125.4,149.4 125.6,149.6 125.8,149.6 126,149.7 126.2,149.8 126.4,149.8 126.5,149.8 126.7,149.8 126.9,149.6 127.1,149.6 127.3,149.6 127.5,149.7 127.6,149.7 127.8,149.7 128,149.6 128.2,149.6 128.4,149.6 128.6,149.6 128.7,149.6 128.9,149.7 129.1,149.7 129.3,149.7 129.5,149.7 129.7,149.9 129.8,150.1 130,150 130.2,150.1 130.4,150.2 130.6,150.5 130.8,150.3 130.9,150.3 131.1,150.3 131.3,150.3 131.5,150.4 131.7,150.4 131.9,150.4 132,150.3 132.2,150.3 132.4,150.3 132.6,150.1 132.8,150.1 133,150.1 133.1,150.1 133.3,150.3 133.5,150.3 133.7,150.4 133.9,150.4 134.1,150.4 134.2,150.2 134.4,150.2 134.6,150.3 134.8,150.3 135,150.1 135.2,150.1 135.3,150.1 135.5,150.2 135.7,150.1 135.9,150.1 136.1,150.1 136.3,150 136.4,150.3 136.6,150.2 136.8,150.3 137,150.4 137.2,150.5 137.4,150.5 137.5,150.6 137.7,150.6 137.9,150.6 138.1,150.9 138.3,150.9 138.5,150.9 138.6,150.7 138.8,150.7 139,150.7 139.2,150.6 139.4,150.4 139.6,150.2 139.7,149.9 139.9,149.8 140.1,149.8 140.3,149.6 140.5,149.7 140.7,149.3 140.8,149.4 141,149.4 141.2,149.6 141.4,149.6 141.6,149.4 141.8,149.3 141.9,149.4 142.1,149.6 142.3,149.7 142.5,149.9 142.7,149.9 142.9,149.9 143,149.9 143.2,149.9 143.4,149.9 143.6,149.7 143.8,149.7 144,149.9 144.1,149.9 144.3,149.9 144.5,149.9 144.7,150 144.9,150.2 145.1,150.3 145.2,150.3 145.4,150.3 145.6,150.1 145.8,150.1 146,150.1 146.2,150.1 146.3,149.7 146.5,149.6 146.7,149.5 146.9,149.6 147.1,149.5 147.3,149.5 147.4,149.5 147.6,149.5 147.8,149.5 148,149.6 148.2,149.7 148.4,149.6 148.5,149.5 148.7,149.5 148.9,149.6 149.1,149.6 149.3,149.7 149.5,149.9 149.6,150 149.8,150 150,149.8 150.2,149.8 150.4,149.8 150.6,149.8 150.7,149.9 150.9,149.7 151.1,150 151.3,150 151.5,150 151.7,150 151.8,150 152,149.9 152.2,150 152.4,150.1 152.6,150.1 152.8,150 152.9,150 153.1,150.1 153.3,150.2 153.5,150.3 153.7,150.4 153.9,150.4 154,150.2 154.2,150.2 154.4,150.2 154.6,150.2 154.8,150.1 155,150.2 155.1,150 155.3,150 155.5,149.7 155.7,149.6 155.9,149.6 156.1,149.6 156.2,149.6 156.4,149.4 156.6,149.4 156.8,149.7 157,149.7 157.2,149.7 157.3,149.7 157.5,149.8 157.7,150 157.9,150.2 158.1,150.4 158.3,150.4 158.4,150.4 158.6,150.4 158.8,150.4 159,150.4 159.2,150.3 159.4,150.3 159.5,150.4 159.7,150.4 159.9,150.2 160.1,149.9 160.3,149.8 160.5,149.8 160.6,150 160.8,150.1" fill="none" stroke="#108c20" stroke-width="0.8" stroke-linejoin="round" stroke-opacity="0.85"/>
<polyline points="23.3,50.3 23.4,50.3 23.5,50.3 23.6,50.3 23.7,50.3 23.8,50.3 23.9,50.3 23.9,50.3 24,50.3 24.1,50.3 24.2,50.3 24.3,50.3 24.4,50.3 24.5,50.3 24.6,50.3 24.7,50.3 24.8,50.3 24.9,50.3 25,50.3 25,50.3 25.1,50.3 25.2,50.3 25.3,50.3 25.4,50.3 25.5,50.3 25.6,50.3 25.7,50.3 25.8,50.3 25.9,50.3 26,50.3 26.1,50.3 26.1,50.3 26.2,50.3 26.3,50.3 26.4,50.3 26.5,50.3 26.6,50.3 26.7,50.7 26.8,51.2 26.9,54.8 27,63.9" fill="none" stroke="#2f8f6a" stroke-width="0.8" stroke-linejoin="round" />
</g>
<rect x="23.3" y="41.2" width="146.7" height="113.3" fill="none" stroke="#858585" stroke-width="0.9"/>
<path d="M23.3 154.5h1.8M170 154.5h-1.8M23.3 131.8h1.8M170 131.8h-1.8M23.3 109.2h1.8M170 109.2h-1.8M23.3 86.5h1.8M170 86.5h-1.8M23.3 63.9h1.8M170 63.9h-1.8M23.3 41.2h1.8M170 41.2h-1.8M23.3 154.5v-1.8M23.3 41.2v1.8M41.6 154.5v-1.8M41.6 41.2v1.8M60 154.5v-1.8M60 41.2v1.8M78.3 154.5v-1.8M78.3 41.2v1.8M96.6 154.5v-1.8M96.6 41.2v1.8M115 154.5v-1.8M115 41.2v1.8M133.3 154.5v-1.8M133.3 41.2v1.8M151.7 154.5v-1.8M151.7 41.2v1.8M170 154.5v-1.8M170 41.2v1.8" stroke="#858585" stroke-width="0.6" fill="none"/>
<g font-family="DejaVu Sans, sans-serif" font-size="4.6" fill="#333">
<text x="21.8" y="156.2" text-anchor="end">0.0</text>
<text x="21.8" y="133.5" text-anchor="end">0.5</text>
<text x="21.8" y="110.9" text-anchor="end">1.0</text>
<text x="21.8" y="88.2" text-anchor="end">1.5</text>
<text x="21.8" y="65.6" text-anchor="end">2.0</text>
<text x="21.8" y="42.9" text-anchor="end">2.5</text>
<text x="23.3" y="160.1" text-anchor="middle">0</text>
<text x="41.6" y="160.1" text-anchor="middle">200</text>
<text x="60" y="160.1" text-anchor="middle">400</text>
<text x="78.3" y="160.1" text-anchor="middle">600</text>
<text x="96.6" y="160.1" text-anchor="middle">800</text>
<text x="115" y="160.1" text-anchor="middle">1000</text>
<text x="133.3" y="160.1" text-anchor="middle">1200</text>
<text x="151.7" y="160.1" text-anchor="middle">1400</text>
<text x="170" y="160.1" text-anchor="middle">1600</text>
</g>
<g clip-path="url(#clipb)">
<polyline points="338.2,48.1 338.3,49 338.4,50.4 338.4,51.3 338.5,52.2 338.6,63.1 338.7,63.6 338.8,80.4 338.9,64.5 338.9,80.4 339,68.6 339.1,85.9 339.2,88.2 339.4,88.2 339.5,75.4 339.6,89.5 339.7,90.4 339.9,88.2 340,85.9 340.2,75.4 340.3,88.2 340.5,90.4 340.7,71.8 340.8,90.4 341,85.9 341.2,88.2 341.3,92.7 341.5,85.5 341.7,85 341.8,85 342,85 342.2,85 342.3,85 342.5,85 342.7,85 342.8,85 343,85.2 343.2,89.8 343.3,85 343.5,85.3 343.6,86.6 343.8,89.3 344,87.3 344.1,88.9 344.3,85 344.5,85.5 344.6,90.9 344.8,82.3 345,84.3 345.1,80.9 345.3,74.9 345.5,92.1 345.6,87.9 345.8,88.1 346,96.2 346.1,89.7 346.3,78.7 346.5,85.6 346.6,94.1 346.8,84.4 347,94.3 347.1,91.6 347.3,93.8 347.4,77.8 347.6,85.3 347.8,81 347.9,89.1 348.1,88.6 348.3,76.4 348.4,94.7 348.6,92.9 348.8,73.9 348.9,90.5 349.1,92.6 349.3,93.2 349.4,91.1 349.6,95.7 349.8,95.3 349.9,94.1 350.1,95 350.3,99.1 350.4,84.9 350.6,101.4 350.7,101.4 350.9,102.1 351.1,93.7 351.2,99.2 351.4,85.7 351.6,102.9 351.7,97.2 351.9,103.3 352.1,104.5 352.2,81.3 352.4,104.9 352.6,88.3 352.7,81 352.9,100.5 353.1,87.3 353.2,83.3 353.4,95.9 353.6,107.6 353.7,110 353.9,103.9 354.1,104.6 354.2,84.4 354.4,88.8 354.5,98.9 354.7,106.8 354.9,106.2 355,103.8 355.2,87.2 355.4,91.1 355.5,97.6 355.7,103.3 355.9,94 356,98.8 356.2,104.3 356.4,109.5 356.5,102.5 356.7,106.2 356.9,94.6 357,97.8 357.2,110.6 357.4,98.9 357.5,103 357.7,108.6 357.8,105.9 358,100.5 358.2,112.7 358.3,107.4 358.5,95.7 358.7,113.2 358.8,113.4 359,109.8 359.2,104 359.3,97.9 359.5,108 359.7,108.3 359.8,110.3 360,106.5 360.2,110.3 360.3,110.5 360.5,104.3 360.7,110.7 360.8,112.9 361,108.4 361.2,117.7 361.3,115.8 361.5,111.7 361.6,100.3 361.8,105.4 362,115.8 362.1,121.8 362.3,103.4 362.5,100.6 362.6,119.4 362.8,111.8 363,117.1 363.1,116.2 363.3,119.2 363.5,119.7 363.6,104 363.8,104.4 364,102.5 364.1,99.9 364.3,118.4 364.5,110.5 364.6,117.9 364.8,105.8 364.9,116.7 365.1,122.8 365.3,123.8 365.4,119.1 365.6,119.6 365.8,122.3 365.9,116.3 366.1,92.2 366.3,116.7 366.4,124.2 366.6,117.1 366.8,103.6 366.9,130.1 367.1,123.2 367.3,116.9 367.4,118.9 367.6,122.1 367.8,122.7 367.9,122.2 368.1,115 368.3,113.9 368.4,124.5 368.6,119.8 368.7,111.5 368.9,126.8 369.1,125.4 369.2,123.2 369.4,121.7 369.6,110.5 369.7,122.4 369.9,127.4 370.1,122.3 370.2,108.9 370.4,113.8 370.6,124.8 370.7,130.1 370.9,129.1 371.1,117.5 371.2,127.3 371.4,113.6 371.6,128.1 371.7,121.7 371.9,106.2 372,130.4 372.2,124.1 372.4,123.8 372.5,110.1 372.7,128 372.9,120.6 373,109.7 373.2,124.6 373.4,111.4 373.5,123.9 373.7,114.8 373.9,129 374,132.2 374.2,112.5 374.4,129.6 374.5,118.8 374.7,114.9 374.9,125 375,115.5 375.2,131 375.4,126 375.5,139.1 375.7,130.5 375.8,112.1 376,140.4 376.2,122.7 376.3,127.3 376.5,132.5 376.7,135.9 376.8,133.2 377,133.9 377.2,129.2 377.3,126.5 377.5,133.3 377.7,117.4 377.8,132.6 378,127.4 378.2,131.3 378.3,130.3 378.5,117.8 378.7,130.3 378.8,135.9 379,111.9 379.1,123.9 379.3,135.8 379.5,139.9 379.6,123.5 379.8,135.2 380,135.3 380.1,135.4 380.3,116.7 380.5,133.3 380.6,111.7 380.8,131.2 381,129.8 381.1,119 381.3,136.6 381.5,126.7 381.6,123.3 381.8,137 382,116.4 382.1,131.7 382.3,139.4 382.4,143.3 382.6,132 382.8,136.7 382.9,134.2 383.1,139.7 383.3,123.4 383.4,134.6 383.6,138.2 383.8,139.2 383.9,137.6 384.1,134.3 384.3,139.4 384.4,123.4 384.6,133.8 384.8,139 384.9,138.7 385.1,138.8 385.3,144.6 385.4,128 385.6,141.2 385.8,126.1 385.9,130.7 386.1,142.9 386.2,121.6 386.4,144.3 386.6,145.4 386.7,145.6 386.9,142 387.1,140.1 387.2,145.6 387.4,149.5 387.6,139.9 387.7,148.4 387.9,140 388.1,145 388.2,145.7 388.4,145.8 388.6,145.3 388.7,145.3 388.9,146.2 389.1,145.7 389.2,145.2 389.4,146.8 389.5,147.7 389.7,147.8 389.9,148.2 390,148 390.2,148.2 390.4,148.8 390.5,147.9 390.7,150.1 390.9,149.3 391,147.3 391.2,148 391.4,148.5 391.5,148.6 391.7,147.8 391.9,148.7 392,149.1 392.2,150 392.4,149.4 392.5,149.9 392.7,150 392.9,150.1 393,149.7 393.2,150 393.3,149.3 393.5,150.8 393.7,150.2 393.8,149 394,150.3 394.2,149.6 394.3,149.7 394.5,145.9 394.7,150 394.8,148.8 395,150.6 395.2,150.7 395.3,151.5 395.5,150.8 395.7,151.3 395.8,151.5 396,150.4 396.2,150.5 396.3,150.9 396.5,151.1 396.6,150.1 396.8,150.7 397,150.8 397.1,150.5 397.3,150.8 397.5,150.3 397.6,150.2 397.8,150.3 398,150.9 398.1,150.9 398.3,147.7 398.5,150.6 398.6,150.6 398.8,152.1 399,152.2 399.1,150.3 399.3,150.3 399.5,149.6 399.6,150.1 399.8,150.4 400,150.5 400.1,151.5 400.3,150 400.4,150.9 400.6,150.2 400.8,150.4 400.9,150.4 401.1,150 401.3,147.2 401.4,150.8 401.6,151.1 401.8,150.8 401.9,149.5 402.1,150.8 402.3,149.8 402.4,150.1 402.6,150.1 402.8,150.1 402.9,151.2 403.1,150.4 403.3,149.6 403.4,151 403.6,150.6 403.7,151 403.9,150.4 404.1,151.3 404.2,149.6 404.4,150.9 404.6,151.6 404.7,149.5 404.9,150 405.1,150.3 405.2,150.3 405.4,150.9 405.6,150.8 405.7,150.2 405.9,150 406.1,150 406.2,150.5 406.4,150.9 406.6,148.5 406.7,149.9 406.9,149.7 407.1,150.9 407.2,151 407.4,149.9 407.5,150.2 407.7,150.2 407.9,151.5 408,150.9 408.2,151 408.4,150.5 408.5,151.7 408.7,149.9 408.9,150.5 409,150.4 409.2,151.4 409.4,150.7 409.5,149.8 409.7,151.7 409.9,150.5 410,150.2 410.2,151.1 410.4,148.8 410.5,150.9 410.7,149.9 410.8,150.4 411,150.6 411.2,149.4 411.3,150.2 411.5,149.9 411.7,151.5 411.8,151.1 412,150.2 412.2,150.1 412.3,150.8 412.5,150.2 412.7,151.4 412.8,150.6 413,147.6 413.2,150.5 413.3,151.1 413.5,151.2 413.7,150.7 413.8,149.6 414,151.4 414.2,151.1 414.3,150.1 414.5,151 414.6,149.6 414.8,150.6 415,150.7 415.1,150.5 415.3,149.7 415.5,150.4 415.6,150.4 415.8,150.6 416,151.8 416.1,151.3 416.3,149.8 416.5,150.3 416.6,150.5 416.8,150.4 417,151.1 417.1,150.6 417.3,151.4 417.5,150.6 417.6,151.3 417.8,150.9 417.9,150.5 418.1,151 418.3,150.4 418.4,150.5 418.6,148.7 418.8,150 418.9,151.8 419.1,151.8 419.3,150.4 419.4,150.2 419.6,146.5 419.8,150.4 419.9,149 420.1,151.4 420.3,150.4 420.4,150.4 420.6,151.5 420.8,151.4 420.9,150.9 421.1,150.7 421.3,152.7 421.4,150.8 421.6,150.7 421.7,151 421.9,150.7 422.1,150.6 422.2,151.5 422.4,150.6 422.6,150.8 422.7,151.5 422.9,150.7 423.1,149.9 423.2,151.8 423.4,151.9 423.6,151.9 423.7,149.6 423.9,151.1 424.1,150.9 424.2,151.4 424.4,151.5 424.6,152.2 424.7,150.8 424.9,150.7 425,152.2 425.2,151.6 425.4,151.4 425.5,150.9 425.7,150.8 425.9,150.2 426,150.1 426.2,150.3 426.4,150.1 426.5,151.7 426.7,151.3 426.9,150.2 427,150.8 427.2,150.9 427.4,152.2 427.5,152.1 427.7,150.5 427.9,150.7 428,151.1 428.2,151.2 428.4,152.1 428.5,150.7 428.7,150.3 428.8,149.9 429,150.9 429.2,151.1 429.3,149.6 429.5,150.2 429.7,149.9 429.8,151.4 430,150.8 430.2,150.9 430.3,151.4 430.5,152.6 430.7,151.2 430.8,150.6 431,151.9 431.2,151.5 431.3,153.1 431.5,150.2 431.7,150.7 431.8,151 432,147.7 432.1,151.4 432.3,151.1 432.5,151.2 432.6,151.2 432.8,151.1 433,151 433.1,150 433.3,152 433.5,150.9 433.6,151.4 433.8,151.8 434,152.6 434.1,150.7 434.3,151.7 434.5,151.5 434.6,150.8 434.8,151.8 435,151.1 435.1,151.1 435.3,150.6 435.5,150.4 435.6,151.6 435.8,150.5 435.9,151.1 436.1,151 436.3,150.7 436.4,150.6 436.6,151.9 436.8,150.9 436.9,150.3 437.1,151.3 437.3,149.8 437.4,151.4 437.6,151 437.8,151.4 437.9,151.5 438.1,151.8 438.3,151.5 438.4,151.2 438.6,151.6 438.8,149.8 438.9,150.2 439.1,152.1 439.2,150.6 439.4,151 439.6,151 439.7,149.6 439.9,150.4 440.1,150.9 440.2,151 440.4,152.5 440.6,150.7 440.7,151.6 440.9,151 441.1,149.9 441.2,150.5 441.4,149.9 441.6,150.5 441.7,150.4 441.9,151.3 442.1,150.9 442.2,150.7 442.4,152.1 442.6,146.6 442.7,151.6 442.9,152 443,150.1 443.2,149.8 443.4,149.6 443.5,149.9 443.7,149.2 443.9,148.6 444,152.5 444.2,151.6 444.4,149.9 444.5,150.8 444.7,150.7 444.9,150.4 445,150.8 445.2,151.4 445.4,152.2 445.5,150.9 445.7,151.9 445.9,151.3 446,150.1 446.2,150.9 446.3,151.2 446.5,151.2 446.7,150.8 446.8,150.6 447,152.1 447.2,151.1 447.3,150.2 447.5,150.8 447.7,151.7 447.8,151.7 448,152.6 448.2,151.8 448.3,150.2 448.5,151.3 448.7,151.8 448.8,151.6 449,151.3 449.2,151.3 449.3,151.5 449.5,151.8 449.6,150.9 449.8,150.3 450,151.6 450.1,151.6 450.3,150.5 450.5,152.2 450.6,151.7 450.8,151.5 451,151.2 451.1,151.5 451.3,151.9 451.5,151.1 451.6,152.1 451.8,152.4 452,152.6 452.1,150.8 452.3,152.4 452.5,151 452.6,150.9 452.8,150.8 453,148.9 453.1,151.7 453.3,151.3 453.4,151.7 453.6,152.2 453.8,150.5 453.9,151.9 454.1,150.2 454.3,151 454.4,151.6 454.6,151.1 454.8,150.6 454.9,152.2 455.1,151.9 455.3,152 455.4,151.3 455.6,151.1 455.8,150.9 455.9,151.8 456.1,151.7 456.3,150.6 456.4,150.7 456.6,151.3 456.7,152.2 456.9,151 457.1,151.2 457.2,151.2 457.4,150.3 457.6,150.9 457.7,152 457.9,152 458.1,150.5 458.2,151.3 458.4,150.8 458.6,150.7 458.7,152 458.9,151.2 459.1,150.4 459.2,149.1 459.4,152.1 459.6,151.6 459.7,151.7 459.9,151.3 460.1,150.7 460.2,150.1 460.4,151.2 460.5,151.7 460.7,151.3 460.9,151.4 461,151.7 461.2,151.4 461.4,151.4 461.5,152.1 461.7,151 461.9,151.6 462,152 462.2,151.1 462.4,151.7 462.5,150.3 462.7,151.1 462.9,151.4 463,151.9 463.2,151.7 463.4,150.9 463.5,151.9 463.7,150.9 463.8,151.4 464,151.3 464.2,150.9 464.3,151.2 464.5,148.4 464.7,148.2 464.8,152 465,149.2 465.2,151.4 465.3,148.4 465.5,151.2 465.7,151.6 465.8,151.3 466,151.2 466.2,152.3 466.3,153.3 466.5,152.1 466.7,152.4 466.8,151.9 467,152.3 467.2,152 467.3,151.2 467.5,151.4 467.6,151.5 467.8,150.4 468,151.3 468.1,151.7 468.3,148.3 468.5,152.2 468.6,152.5 468.8,150.7 469,149.8 469.1,151.1 469.3,151.1 469.5,150.9 469.6,151.8 469.8,151.6 470,152.2 470.1,151.4 470.3,151.4 470.5,151.8 470.6,151.1 470.8,149.6 470.9,152.3 471.1,151 471.3,150.9 471.4,150.8 471.6,152 471.8,150.8 471.9,151.1 472.1,151.6 472.3,151.7 472.4,151.4 472.6,150.9 472.8,151 472.9,150.1 473.1,151.8 473.3,147.6 473.4,151.8 473.6,151 473.8,151.5 473.9,151.9 474.1,152.4 474.3,152 474.4,151.4 474.6,150.6 474.7,151.1 474.9,152.3 475.1,151.9 475.2,151.5 475.4,147.9 475.6,151.5 475.7,150.4 475.9,151.5 476.1,152.1 476.2,152.8 476.4,151.8 476.6,152.7 476.7,151.7 476.9,151.4 477.1,152.5 477.2,151.8 477.4,151.9 477.6,150.5 477.7,151.4 477.9,152.9 478,151.4 478.2,148.1 478.4,151.9 478.5,152 478.7,151.4 478.9,151.3 479,151.5 479.2,152.4 479.4,151.9 479.5,152.8 479.7,152.7 479.9,152.1 480,152.4 480.2,149.9 480.4,150.2 480.5,151.5 480.7,152.4 480.9,153.2 481,152.3 481.2,152.7 481.4,153.2 481.5,149.3 481.7,152.1 481.8,151.6 482,149.9 482.2,151.7 482.3,150 482.5,149.4 482.7,152 482.8,152.4 483,152 483.2,151.1 483.3,152 483.5,152.7 483.7,151.4 483.8,152.5 484,151.9 484.2,151.6 484.3,151.6 484.5,151.1 484.7,152 484.8,151.3 485,151.6 485.1,151.4 485.3,153 485.5,151.1 485.6,150.7 485.8,152.6 486,151.3 486.1,152.1 486.3,150.7 486.5,151.7 486.6,152.5 486.8,151.7" fill="none" stroke="#0000ff" stroke-width="0.6400000000000001" stroke-linejoin="round" stroke-opacity="0.5"/>
<polyline points="338.2,48.1 338.3,49 338.4,50.4 338.4,51.3 338.5,52.2 338.6,63.1 338.7,63.6 338.8,64.5 338.9,80.4 338.9,68.6 339,80.4 339.1,85.9 339.2,88.2 339.4,88.2 339.5,88.2 339.6,89.5 339.7,89.5 339.9,88.2 340,85.9 340.2,85.9 340.3,88.2 340.5,88.2 340.7,90.4 340.8,85.9 341,88.2 341.2,88.2 341.3,88.2 341.5,85.5 341.7,85 341.8,85 342,85 342.2,85 342.3,85 342.5,85 342.7,85 342.8,85 343,85.2 343.2,85.2 343.3,85.3 343.5,85.3 343.6,86.6 343.8,87.3 344,88.9 344.1,87.3 344.3,85.5 344.5,85.5 344.6,85.5 344.8,84.3 345,82.3 345.1,80.9 345.3,80.9 345.5,87.9 345.6,88.1 345.8,88.1 346,89.7 346.1,89.7 346.3,85.6 346.5,85.6 346.6,85.6 346.8,94.1 347,91.6 347.1,93.8 347.3,91.6 347.4,85.3 347.6,81 347.8,85.3 347.9,88.6 348.1,88.6 348.3,88.6 348.4,92.9 348.6,92.9 348.8,90.5 348.9,90.5 349.1,92.6 349.3,92.6 349.4,93.2 349.6,95.3 349.8,95.3 349.9,95 350.1,95 350.3,95 350.4,99.1 350.6,101.4 350.7,101.4 350.9,101.4 351.1,99.2 351.2,93.7 351.4,99.2 351.6,97.2 351.7,102.9 351.9,103.3 352.1,103.3 352.2,104.5 352.4,88.3 352.6,88.3 352.7,88.3 352.9,87.3 353.1,87.3 353.2,87.3 353.4,95.9 353.6,107.6 353.7,107.6 353.9,104.6 354.1,103.9 354.2,88.8 354.4,88.8 354.5,98.9 354.7,106.2 354.9,106.2 355,103.8 355.2,91.1 355.4,91.1 355.5,97.6 355.7,97.6 355.9,98.8 356,98.8 356.2,104.3 356.4,104.3 356.5,106.2 356.7,102.5 356.9,97.8 357,97.8 357.2,98.9 357.4,103 357.5,103 357.7,105.9 357.8,105.9 358,105.9 358.2,107.4 358.3,107.4 358.5,107.4 358.7,113.2 358.8,113.2 359,109.8 359.2,104 359.3,104 359.5,108 359.7,108.3 359.8,108.3 360,110.3 360.2,110.3 360.3,110.3 360.5,110.5 360.7,110.7 360.8,110.7 361,112.9 361.2,115.8 361.3,115.8 361.5,111.7 361.6,105.4 361.8,105.4 362,115.8 362.1,115.8 362.3,103.4 362.5,103.4 362.6,111.8 362.8,117.1 363,116.2 363.1,117.1 363.3,119.2 363.5,119.2 363.6,104.4 363.8,104 364,102.5 364.1,102.5 364.3,110.5 364.5,117.9 364.6,110.5 364.8,116.7 364.9,116.7 365.1,122.8 365.3,122.8 365.4,119.6 365.6,119.6 365.8,119.6 365.9,116.3 366.1,116.3 366.3,116.7 366.4,117.1 366.6,117.1 366.8,117.1 366.9,123.2 367.1,123.2 367.3,118.9 367.4,118.9 367.6,122.1 367.8,122.2 367.9,122.2 368.1,115 368.3,115 368.4,119.8 368.6,119.8 368.7,119.8 368.9,125.4 369.1,125.4 369.2,123.2 369.4,121.7 369.6,121.7 369.7,122.4 369.9,122.4 370.1,122.3 370.2,113.8 370.4,113.8 370.6,124.8 370.7,129.1 370.9,129.1 371.1,127.3 371.2,117.5 371.4,127.3 371.6,121.7 371.7,121.7 371.9,121.7 372,124.1 372.2,124.1 372.4,123.8 372.5,123.8 372.7,120.6 372.9,120.6 373,120.6 373.2,111.4 373.4,123.9 373.5,114.8 373.7,123.9 373.9,129 374,129 374.2,129.6 374.4,118.8 374.5,118.8 374.7,118.8 374.9,115.5 375,125 375.2,126 375.4,131 375.5,130.5 375.7,130.5 375.8,130.5 376,122.7 376.2,127.3 376.3,127.3 376.5,132.5 376.7,133.2 376.8,133.9 377,133.2 377.2,129.2 377.3,129.2 377.5,126.5 377.7,132.6 377.8,127.4 378,131.3 378.2,130.3 378.3,130.3 378.5,130.3 378.7,130.3 378.8,130.3 379,123.9 379.1,123.9 379.3,135.8 379.5,135.8 379.6,135.2 379.8,135.2 380,135.3 380.1,135.3 380.3,133.3 380.5,116.7 380.6,131.2 380.8,129.8 381,129.8 381.1,129.8 381.3,126.7 381.5,126.7 381.6,126.7 381.8,123.3 382,131.7 382.1,131.7 382.3,139.4 382.4,139.4 382.6,136.7 382.8,134.2 382.9,136.7 383.1,134.2 383.3,134.6 383.4,134.6 383.6,138.2 383.8,138.2 383.9,137.6 384.1,137.6 384.3,134.3 384.4,133.8 384.6,133.8 384.8,138.7 384.9,138.8 385.1,138.8 385.3,138.8 385.4,141.2 385.6,128 385.8,130.7 385.9,130.7 386.1,130.7 386.2,142.9 386.4,144.3 386.6,145.4 386.7,145.4 386.9,142 387.1,142 387.2,145.6 387.4,145.6 387.6,148.4 387.7,140 387.9,145 388.1,145 388.2,145.7 388.4,145.7 388.6,145.3 388.7,145.3 388.9,145.7 389.1,145.7 389.2,145.7 389.4,146.8 389.5,147.7 389.7,147.8 389.9,148 390,148.2 390.2,148.2 390.4,148.2 390.5,148.8 390.7,149.3 390.9,149.3 391,148 391.2,148 391.4,148.5 391.5,148.5 391.7,148.6 391.9,148.7 392,149.1 392.2,149.4 392.4,149.9 392.5,149.9 392.7,150 392.9,150 393,150 393.2,149.7 393.3,150 393.5,150.2 393.7,150.2 393.8,150.2 394,149.6 394.2,149.7 394.3,149.6 394.5,149.7 394.7,148.8 394.8,150 395,150.6 395.2,150.7 395.3,150.8 395.5,151.3 395.7,151.3 395.8,151.3 396,150.5 396.2,150.5 396.3,150.9 396.5,150.9 396.6,150.7 396.8,150.7 397,150.7 397.1,150.8 397.3,150.5 397.5,150.3 397.6,150.3 397.8,150.3 398,150.9 398.1,150.9 398.3,150.6 398.5,150.6 398.6,150.6 398.8,152.1 399,152.1 399.1,150.3 399.3,150.3 399.5,150.1 399.6,150.1 399.8,150.4 400,150.5 400.1,150.5 400.3,150.9 400.4,150.2 400.6,150.4 400.8,150.4 400.9,150.4 401.1,150 401.3,150 401.4,150.8 401.6,150.8 401.8,150.8 401.9,150.8 402.1,149.8 402.3,150.1 402.4,150.1 402.6,150.1 402.8,150.1 402.9,150.4 403.1,150.4 403.3,150.4 403.4,150.6 403.6,151 403.7,150.6 403.9,151 404.1,150.4 404.2,150.9 404.4,150.9 404.6,150.9 404.7,150 404.9,150 405.1,150.3 405.2,150.3 405.4,150.8 405.6,150.8 405.7,150.2 405.9,150 406.1,150 406.2,150.5 406.4,150.5 406.6,149.9 406.7,149.7 406.9,149.9 407.1,150.9 407.2,150.9 407.4,150.2 407.5,150.2 407.7,150.2 407.9,150.9 408,151 408.2,150.9 408.4,151 408.5,150.5 408.7,150.5 408.9,150.4 409,150.5 409.2,150.7 409.4,150.7 409.5,150.7 409.7,150.5 409.9,150.5 410,150.5 410.2,150.2 410.4,150.9 410.5,149.9 410.7,150.4 410.8,150.4 411,150.4 411.2,150.2 411.3,149.9 411.5,150.2 411.7,151.1 411.8,151.1 412,150.2 412.2,150.2 412.3,150.2 412.5,150.8 412.7,150.6 412.8,150.6 413,150.5 413.2,150.5 413.3,151.1 413.5,151.1 413.7,150.7 413.8,150.7 414,151.1 414.2,151.1 414.3,151 414.5,150.1 414.6,150.6 414.8,150.6 415,150.6 415.1,150.5 415.3,150.4 415.5,150.4 415.6,150.4 415.8,150.6 416,151.3 416.1,151.3 416.3,150.3 416.5,150.3 416.6,150.4 416.8,150.5 417,150.6 417.1,151.1 417.3,150.6 417.5,151.3 417.6,150.9 417.8,150.9 417.9,150.9 418.1,150.5 418.3,150.5 418.4,150.4 418.6,150 418.8,150 418.9,151.8 419.1,151.8 419.3,150.4 419.4,150.2 419.6,150.2 419.8,149 419.9,150.4 420.1,150.4 420.3,150.4 420.4,150.4 420.6,151.4 420.8,151.4 420.9,150.9 421.1,150.9 421.3,150.8 421.4,150.8 421.6,150.8 421.7,150.7 421.9,150.7 422.1,150.7 422.2,150.6 422.4,150.8 422.6,150.8 422.7,150.8 422.9,150.7 423.1,150.7 423.2,151.8 423.4,151.9 423.6,151.9 423.7,151.1 423.9,150.9 424.1,151.1 424.2,151.4 424.4,151.5 424.6,151.5 424.7,150.8 424.9,150.8 425,151.6 425.2,151.6 425.4,151.4 425.5,150.9 425.7,150.8 425.9,150.2 426,150.2 426.2,150.1 426.4,150.3 426.5,151.3 426.7,151.3 426.9,150.8 427,150.8 427.2,150.9 427.4,152.1 427.5,152.1 427.7,150.7 427.9,150.7 428,151.1 428.2,151.2 428.4,151.2 428.5,150.7 428.7,150.3 428.8,150.3 429,150.9 429.2,150.9 429.3,150.2 429.5,149.9 429.7,150.2 429.8,150.8 430,150.9 430.2,150.9 430.3,151.4 430.5,151.4 430.7,151.2 430.8,151.2 431,151.5 431.2,151.9 431.3,151.5 431.5,150.7 431.7,150.7 431.8,150.7 432,151 432.1,151.1 432.3,151.2 432.5,151.2 432.6,151.2 432.8,151.1 433,151 433.1,151 433.3,150.9 433.5,151.4 433.6,151.4 433.8,151.8 434,151.8 434.1,151.7 434.3,151.5 434.5,151.5 434.6,151.5 434.8,151.1 435,151.1 435.1,151.1 435.3,150.6 435.5,150.6 435.6,150.5 435.8,151.1 435.9,151 436.1,151 436.3,150.7 436.4,150.7 436.6,150.9 436.8,150.9 436.9,150.9 437.1,150.3 437.3,151.3 437.4,151 437.6,151.4 437.8,151.4 437.9,151.5 438.1,151.5 438.3,151.5 438.4,151.5 438.6,151.2 438.8,150.2 438.9,150.2 439.1,150.6 439.2,151 439.4,151 439.6,151 439.7,150.4 439.9,150.4 440.1,150.9 440.2,151 440.4,151 440.6,151.6 440.7,151 440.9,151 441.1,150.5 441.2,149.9 441.4,150.5 441.6,150.4 441.7,150.5 441.9,150.9 442.1,150.9 442.2,150.9 442.4,150.7 442.6,151.6 442.7,151.6 442.9,151.6 443,150.1 443.2,149.8 443.4,149.8 443.5,149.6 443.7,149.2 443.9,149.2 444,151.6 444.2,151.6 444.4,150.8 444.5,150.7 444.7,150.7 444.9,150.7 445,150.8 445.2,151.4 445.4,151.4 445.5,151.9 445.7,151.3 445.9,151.3 446,150.9 446.2,150.9 446.3,151.2 446.5,151.2 446.7,150.8 446.8,150.8 447,151.1 447.2,151.1 447.3,150.8 447.5,150.8 447.7,151.7 447.8,151.7 448,151.8 448.2,151.8 448.3,151.3 448.5,151.3 448.7,151.6 448.8,151.6 449,151.3 449.2,151.3 449.3,151.5 449.5,151.5 449.6,150.9 449.8,150.9 450,151.6 450.1,151.6 450.3,151.6 450.5,151.7 450.6,151.7 450.8,151.5 451,151.5 451.1,151.5 451.3,151.5 451.5,151.9 451.6,152.1 451.8,152.4 452,152.4 452.1,152.4 452.3,151 452.5,151 452.6,150.9 452.8,150.8 453,150.8 453.1,151.3 453.3,151.7 453.4,151.7 453.6,151.7 453.8,151.9 453.9,150.5 454.1,151 454.3,151 454.4,151.1 454.6,151.1 454.8,151.1 454.9,151.9 455.1,152 455.3,151.9 455.4,151.3 455.6,151.1 455.8,151.1 455.9,151.7 456.1,151.7 456.3,150.7 456.4,150.7 456.6,151.3 456.7,151.3 456.9,151.2 457.1,151.2 457.2,151.2 457.4,150.9 457.6,150.9 457.7,152 457.9,152 458.1,151.3 458.2,150.8 458.4,150.8 458.6,150.8 458.7,151.2 458.9,151.2 459.1,150.4 459.2,150.4 459.4,151.6 459.6,151.7 459.7,151.6 459.9,151.3 460.1,150.7 460.2,150.7 460.4,151.2 460.5,151.3 460.7,151.4 460.9,151.4 461,151.4 461.2,151.4 461.4,151.4 461.5,151.4 461.7,151.6 461.9,151.6 462,151.6 462.2,151.7 462.4,151.1 462.5,151.1 462.7,151.1 462.9,151.4 463,151.7 463.2,151.7 463.4,151.7 463.5,150.9 463.7,151.4 463.8,151.3 464,151.3 464.2,151.2 464.3,150.9 464.5,148.4 464.7,148.4 464.8,149.2 465,151.4 465.2,149.2 465.3,151.2 465.5,151.2 465.7,151.3 465.8,151.3 466,151.3 466.2,152.3 466.3,152.3 466.5,152.4 466.7,152.1 466.8,152.3 467,152 467.2,152 467.3,151.4 467.5,151.4 467.6,151.4 467.8,151.3 468,151.3 468.1,151.3 468.3,151.7 468.5,152.2 468.6,152.2 468.8,150.7 469,150.7 469.1,151.1 469.3,151.1 469.5,151.1 469.6,151.6 469.8,151.8 470,151.6 470.1,151.4 470.3,151.4 470.5,151.4 470.6,151.1 470.8,151.1 470.9,151 471.1,151 471.3,150.9 471.4,150.9 471.6,150.8 471.8,151.1 471.9,151.1 472.1,151.6 472.3,151.6 472.4,151.4 472.6,151 472.8,150.9 472.9,151 473.1,150.1 473.3,151.8 473.4,151 473.6,151.5 473.8,151.5 473.9,151.9 474.1,152 474.3,152 474.4,151.4 474.6,151.1 474.7,151.1 474.9,151.9 475.1,151.9 475.2,151.5 475.4,151.5 475.6,150.4 475.7,151.5 475.9,151.5 476.1,152.1 476.2,152.1 476.4,152.7 476.6,151.8 476.7,151.7 476.9,151.7 477.1,151.8 477.2,151.9 477.4,151.8 477.6,151.4 477.7,151.4 477.9,151.4 478,151.4 478.2,151.4 478.4,151.9 478.5,151.9 478.7,151.4 478.9,151.4 479,151.5 479.2,151.9 479.4,152.4 479.5,152.7 479.7,152.7 479.9,152.4 480,152.1 480.2,150.2 480.4,150.2 480.5,151.5 480.7,152.4 480.9,152.4 481,152.7 481.2,152.7 481.4,152.7 481.5,152.1 481.7,151.6 481.8,151.6 482,151.6 482.2,150 482.3,150 482.5,150 482.7,152 482.8,152 483,152 483.2,152 483.3,152 483.5,152 483.7,152.5 483.8,151.9 484,151.9 484.2,151.6 484.3,151.6 484.5,151.6 484.7,151.3 484.8,151.6 485,151.4 485.1,151.6 485.3,151.4 485.5,151.1 485.6,151.1 485.8,151.3 486,152.1 486.1,151.3 486.3,151.7 486.5,151.7 486.6,151.7 486.8,151.7" fill="none" stroke="#0000ff" stroke-width="0.8" stroke-linejoin="round" />
<polyline points="338.2,48.1 338.3,55.9 338.4,63.6 338.4,71.4 338.5,79.1 338.6,82.6 338.7,82.1 338.8,88.6 338.9,84 338.9,87.7 339,89.5 339.1,87.4 339.2,91.1 339.4,90.4 339.5,95.5 339.6,92.6 339.7,93.1 339.9,96.1 340,96.8 340.2,91.9 340.3,91.6 340.5,94.6 340.7,92.7 340.8,93.7 341,98.1 341.2,98.4 341.3,99.8 341.5,98 341.7,97.5 341.8,100.8 342,101.3 342.2,101.1 342.3,102.8 342.5,100.9 342.7,103.4 342.8,100.8 343,103 343.2,101.6 343.3,104.3 343.5,107.4 343.6,105.2 343.8,105 344,104 344.1,104.4 344.3,104.5 344.5,104.6 344.6,105.7 344.8,103.6 345,107.7 345.1,101.3 345.3,108.3 345.5,108.6 345.6,108.5 345.8,102.7 346,112.7 346.1,111.1 346.3,111 346.5,110 346.6,111.3 346.8,108.2 347,115 347.1,108.4 347.3,114.9 347.4,114.1 347.6,111.8 347.8,113 347.9,113.5 348.1,113.6 348.3,113.2 348.4,111.5 348.6,107.4 348.8,117.4 348.9,116.6 349.1,112.5 349.3,111.7 349.4,114 349.6,114 349.8,115.8 349.9,112.5 350.1,118.1 350.3,117.9 350.4,119.1 350.6,109.3 350.7,117.1 350.9,117.3 351.1,113.5 351.2,121.9 351.4,117.1 351.6,117.9 351.7,112.4 351.9,111.8 352.1,119.1 352.2,121.3 352.4,123 352.6,121.8 352.7,118.6 352.9,121.9 353.1,124.6 353.2,122.7 353.4,124.5 353.6,118.4 353.7,123.3 353.9,124.9 354.1,126.2 354.2,120.8 354.4,120.7 354.5,124.2 354.7,121.7 354.9,126 355,125.4 355.2,123 355.4,125.3 355.5,124.5 355.7,132.1 355.9,118.9 356,127.9 356.2,127.6 356.4,127 356.5,129.5 356.7,127 356.9,119.9 357,125.6 357.2,127.3 357.4,127 357.5,128.6 357.7,130 357.8,130.9 358,130.7 358.2,132 358.3,131.7 358.5,127.8 358.7,129.8 358.8,133.2 359,132.4 359.2,129.9 359.3,128.9 359.5,130.6 359.7,131.5 359.8,130.6 360,129.5 360.2,128.2 360.3,133.4 360.5,132.2 360.7,131.5 360.8,130.6 361,133.3 361.2,129.7 361.3,130.6 361.5,134 361.6,133.7 361.8,135.3 362,133.7 362.1,133.1 362.3,130.9 362.5,131.1 362.6,133.7 362.8,135 363,132.9 363.1,133.6 363.3,135.5 363.5,133.2 363.6,135.1 363.8,134.3 364,136.1 364.1,123.8 364.3,132.9 364.5,127 364.6,137.3 364.8,134.5 364.9,131.3 365.1,138.2 365.3,135.8 365.4,130.4 365.6,128.3 365.8,137.1 365.9,135.2 366.1,132.8 366.3,137.6 366.4,137.7 366.6,137.4 366.8,136.9 366.9,130.9 367.1,136.6 367.3,141.9 367.4,136.6 367.6,136.8 367.8,136.4 367.9,137.3 368.1,138.2 368.3,137 368.4,139.6 368.6,141.8 368.7,139.1 368.9,140.8 369.1,134.5 369.2,139.1 369.4,131.3 369.6,141.8 369.7,133.8 369.9,138.5 370.1,143 370.2,140.9 370.4,143.7 370.6,139 370.7,143.5 370.9,140.4 371.1,143.8 371.2,136.6 371.4,138.3 371.6,140.3 371.7,142.7 371.9,137.9 372,138.9 372.2,139.4 372.4,138.5 372.5,137.3 372.7,140.8 372.9,141.9 373,142.8 373.2,134.1 373.4,142.1 373.5,142.8 373.7,141.2 373.9,137.9 374,143.7 374.2,143.1 374.4,143 374.5,144.4 374.7,140.3 374.9,142.9 375,141.4 375.2,146 375.4,141.7 375.5,143.2 375.7,146 375.8,140.9 376,141.3 376.2,142.9 376.3,142.5 376.5,145.5 376.7,135.3 376.8,144.2 377,135.8 377.2,142.7 377.3,143 377.5,145.6 377.7,143.7 377.8,144 378,142 378.2,146 378.3,142.6 378.5,139.9 378.7,144.7 378.8,141 379,143.3 379.1,146.2 379.3,144.6 379.5,146.8 379.6,147.8 379.8,146.5 380,146.6 380.1,142.2 380.3,144.1 380.5,150.7 380.6,146.1 380.8,147.2 381,143.1 381.1,145.5 381.3,145.8 381.5,137.8 381.6,147.5 381.8,141.4 382,146.2 382.1,141.9 382.3,146.2 382.4,145 382.6,148 382.8,143.8 382.9,145.5 383.1,142.2 383.3,145.4 383.4,140.2 383.6,148.7 383.8,144.4 383.9,148.3 384.1,144.6 384.3,142.8 384.4,147.7 384.6,147.8 384.8,138.7 384.9,143.9 385.1,140.2 385.3,143.2 385.4,149.3 385.6,148.9 385.8,148.8 385.9,145.6 386.1,148.1 386.2,140.1 386.4,140.4 386.6,145.2 386.7,146.8 386.9,146 387.1,145.4 387.2,147.5 387.4,145.5 387.6,138.7 387.7,147.9 387.9,145.6 388.1,149.9 388.2,150.2 388.4,150.9 388.6,150.9 388.7,151.6 388.9,151.9 389.1,151.9 389.2,151.7 389.4,151.5 389.5,151.8 389.7,151.6 389.9,152 390,151.8 390.2,151.7 390.4,151.8 390.5,151.7 390.7,151.6 390.9,151.8 391,151.6 391.2,152 391.4,151.7 391.5,152 391.7,151.9 391.9,151.7 392,151.5 392.2,151.9 392.4,151.8 392.5,151.5 392.7,152.1 392.9,151.6 393,152.2 393.2,152.4 393.3,151.8 393.5,151.9 393.7,152 393.8,152.5 394,151.8 394.2,152 394.3,152.2 394.5,151.9 394.7,152.2 394.8,152.1 395,152.1 395.2,151.6 395.3,151.9 395.5,151.5 395.7,152.1 395.8,152.2 396,151.4 396.2,152.3 396.3,151.6 396.5,152.2 396.6,151.7 396.8,152.1 397,151.5 397.1,151.4 397.3,151.6 397.5,151.8 397.6,152 397.8,151.7 398,151.3 398.1,152 398.3,152.2 398.5,151.4 398.6,152 398.8,151.7 399,151.8 399.1,151.8 399.3,152 399.5,151.9 399.6,152.4 399.8,152.1 400,152.1 400.1,151.6 400.3,152 400.4,151.9 400.6,152.4 400.8,151.9 400.9,151.5 401.1,151.9 401.3,151.7 401.4,152 401.6,152.1 401.8,151.7 401.9,152 402.1,152.2 402.3,152 402.4,152 402.6,151.6 402.8,151.7 402.9,152.3 403.1,151.8 403.3,152.3 403.4,151.9 403.6,151.8 403.7,152.1 403.9,152.1 404.1,151.7 404.2,152 404.4,152.3 404.6,151.5 404.7,151.7 404.9,151.8 405.1,151.9 405.2,151.7 405.4,151.9 405.6,151.7 405.7,151.9 405.9,152.1 406.1,151.7 406.2,151.9 406.4,152.2 406.6,152.1 406.7,152.6 406.9,152.4 407.1,152.4 407.2,151.8 407.4,151.8 407.5,151.7 407.7,151.9 407.9,151.5 408,152.1 408.2,152.2 408.4,152.2 408.5,151.9 408.7,152.2 408.9,152.2 409,152.1 409.2,152 409.4,152.4 409.5,152 409.7,152 409.9,151.6 410,152 410.2,152.4 410.4,151.9 410.5,152 410.7,152.4 410.8,152.9 411,151.8 411.2,152.1 411.3,152.2 411.5,152.1 411.7,151.7 411.8,151.6 412,152.2 412.2,151.6 412.3,152.1 412.5,152 412.7,152.1 412.8,152.1 413,152.1 413.2,152.2 413.3,152 413.5,152.3 413.7,151.9 413.8,152.2 414,151.9 414.2,152.1 414.3,152.5 414.5,151.7 414.6,152 414.8,152.1 415,152.2 415.1,151.6 415.3,152.1 415.5,151.8 415.6,152 415.8,152.4 416,151.9 416.1,152.5 416.3,152 416.5,152 416.6,152 416.8,152.3 417,151.7 417.1,151.6 417.3,152.3 417.5,152.2 417.6,151.6 417.8,152.2 417.9,151.8 418.1,152.4 418.3,152.3 418.4,152 418.6,152 418.8,152.5 418.9,152.4 419.1,152 419.3,151.8 419.4,152 419.6,152 419.8,152 419.9,152.4 420.1,152 420.3,151.9 420.4,152 420.6,152.4 420.8,152.4 420.9,151.8 421.1,152.5 421.3,152.4 421.4,151.7 421.6,152.4 421.7,152.3 421.9,152 422.1,151.9 422.2,152.2 422.4,152.5 422.6,152.3 422.7,152.1 422.9,152.4 423.1,152.4 423.2,151.8 423.4,152 423.6,151.9 423.7,151.9 423.9,152.4 424.1,152 424.2,151.8 424.4,152 424.6,152.5 424.7,152.6 424.9,152.4 425,152 425.2,152.2 425.4,152.1 425.5,152.5 425.7,151.9 425.9,152.4 426,151.9 426.2,152.2 426.4,153 426.5,152.2 426.7,152.4 426.9,152.4 427,152.2 427.2,151.9 427.4,152 427.5,151.8 427.7,152.2 427.9,152.7 428,152.3 428.2,152.4 428.4,152.4 428.5,151.5 428.7,152 428.8,152.5 429,151.9 429.2,152.3 429.3,152.6 429.5,151.9 429.7,152.3 429.8,152.2 430,151.6 430.2,152.5 430.3,151.9 430.5,152.3 430.7,152.5 430.8,152.3 431,152.2 431.2,152.2 431.3,152.6 431.5,152 431.7,152.5 431.8,152.1 432,152.2 432.1,152.4 432.3,152.1 432.5,152.4 432.6,152.5 432.8,152.6 433,152.7 433.1,152.4 433.3,152.8 433.5,152.3 433.6,152.4 433.8,151.8 434,152.6 434.1,151.9 434.3,152.2 434.5,152.2 434.6,152.4 434.8,152.5 435,152.3 435.1,152.3 435.3,152.1 435.5,152.4 435.6,151.8 435.8,151.8 435.9,152.9 436.1,152.2 436.3,152.3 436.4,152.5 436.6,153 436.8,152.7 436.9,152.3 437.1,152.1 437.3,152.2 437.4,152.1 437.6,152.3 437.8,152 437.9,152.2 438.1,152 438.3,152.3 438.4,152.5 438.6,152.7 438.8,151.9 438.9,152.5 439.1,152.6 439.2,152.9 439.4,152.1 439.6,152.7 439.7,152.3 439.9,152.2 440.1,151.9 440.2,152.5 440.4,152.8 440.6,152.1 440.7,152.2 440.9,152.5 441.1,152.3 441.2,151.8 441.4,152.3 441.6,152.5 441.7,152.3 441.9,152.2 442.1,152.2 442.2,152.2 442.4,152.2 442.6,152.6 442.7,152.2 442.9,152 443,152.1 443.2,152.3 443.4,152.4 443.5,152.3 443.7,152.3 443.9,152.8 444,152.4 444.2,152 444.4,152.4 444.5,152.5 444.7,152.2 444.9,152.3 445,152.5 445.2,152.3 445.4,151.9 445.5,151.8 445.7,152.3 445.9,152.4 446,152 446.2,152.2 446.3,152.2 446.5,152.4 446.7,152.7 446.8,152.8 447,152.4 447.2,152.7 447.3,152.1 447.5,152.1 447.7,152 447.8,152.3 448,151.8 448.2,152 448.3,152.3 448.5,152.2 448.7,152.5 448.8,153.2 449,152.1 449.2,152.2 449.3,151.9 449.5,152.2 449.6,152.4 449.8,152.5 450,152.5 450.1,152.3 450.3,152.9 450.5,152.7 450.6,152.2 450.8,152.9 451,152.8 451.1,152.6 451.3,152.5 451.5,152.4 451.6,152.2 451.8,152.3 452,152.2 452.1,152.6 452.3,152.4 452.5,152.6 452.6,152.4 452.8,152.3 453,152.3 453.1,152.9 453.3,152.7 453.4,151.9 453.6,153 453.8,152.4 453.9,152.7 454.1,152.5 454.3,152.6 454.4,152.4 454.6,152.7 454.8,152.1 454.9,151.8 455.1,153.1 455.3,152.7 455.4,152.9 455.6,152.4 455.8,152.1 455.9,152.1 456.1,152.1 456.3,152.4 456.4,152.6 456.6,152.1 456.7,152.6 456.9,152.7 457.1,152.4 457.2,152.8 457.4,152.5 457.6,152.7 457.7,152.4 457.9,152.2 458.1,152.6 458.2,152.3 458.4,152.2 458.6,152.7 458.7,152.5 458.9,152.6 459.1,152 459.2,152.6 459.4,152.4 459.6,152.9 459.7,152.7 459.9,152.3 460.1,152.6 460.2,152.3 460.4,152.5 460.5,151.8 460.7,152.6 460.9,152.2 461,152.7 461.2,152.6 461.4,152.9 461.5,151.8 461.7,153.1 461.9,152.5 462,152.6 462.2,152.3 462.4,152.6 462.5,152 462.7,152.2 462.9,152.4 463,152.4 463.2,152.2 463.4,152.4 463.5,152.1 463.7,152.3 463.8,152.5 464,152.4 464.2,152.4 464.3,152.2 464.5,152.6 464.7,152.5 464.8,152.9 465,152.3 465.2,152.4 465.3,152.7 465.5,152 465.7,152.5 465.8,152.8 466,152.2 466.2,152.6 466.3,153.4 466.5,152.4 466.7,152.5 466.8,152.5 467,152.6 467.2,152.7 467.3,152.5 467.5,153 467.6,152.6 467.8,152.3 468,152.3 468.1,152.7 468.3,152 468.5,152.5 468.6,152.7 468.8,152.5 469,152.7 469.1,152.3 469.3,152.8 469.5,152.7 469.6,152.9 469.8,152.8 470,152.6 470.1,152 470.3,152.5 470.5,152.2 470.6,152.5 470.8,152.3 470.9,152.8 471.1,152.9 471.3,152.1 471.4,152.5 471.6,153 471.8,152.4 471.9,152.6 472.1,152.6 472.3,152.4 472.4,152.9 472.6,152.2 472.8,152.5 472.9,152.7 473.1,153 473.3,152.1 473.4,152.7 473.6,153 473.8,152.6 473.9,152.5 474.1,152.4 474.3,152.2 474.4,152.4 474.6,152.6 474.7,152 474.9,152.1 475.1,152.9 475.2,152.3 475.4,152.8 475.6,152.2 475.7,152.9 475.9,152.5 476.1,152.2 476.2,152.5 476.4,152.3 476.6,152.8 476.7,153 476.9,152.9 477.1,152.5 477.2,152.8 477.4,152.2 477.6,152.7 477.7,152.3 477.9,152.5 478,152.9 478.2,152.6 478.4,152.5 478.5,152.5 478.7,152.7 478.9,152.3 479,152.4 479.2,152.4 479.4,152.9 479.5,153.2 479.7,152.5 479.9,152.9 480,152.8 480.2,152.7 480.4,152.6 480.5,153.1 480.7,152.7 480.9,152.3 481,153.1 481.2,152.7 481.4,152.3 481.5,152.4 481.7,152.5 481.8,152.6 482,153.1 482.2,152.6 482.3,152.9 482.5,152.6 482.7,152.9 482.8,153 483,152.7 483.2,152.4 483.3,152.8 483.5,152.6 483.7,152.5 483.8,152.5 484,153 484.2,152.8 484.3,152.6 484.5,152.7 484.7,152.2 484.8,152.5 485,152.9 485.1,152.5 485.3,152.4 485.5,152.5 485.6,152.6 485.8,153.1 486,152.7 486.1,152.5 486.3,152.8 486.5,152.8 486.6,152.6 486.8,152.9" fill="none" stroke="#108c20" stroke-width="0.6400000000000001" stroke-linejoin="round" stroke-opacity="0.5"/>
<polyline points="338.2,48.1 338.3,55.9 338.4,63.6 338.4,71.4 338.5,79.1 338.6,82.1 338.7,82.6 338.8,84 338.9,87.7 338.9,87.7 339,87.7 339.1,89.5 339.2,90.4 339.4,91.1 339.5,92.6 339.6,93.1 339.7,93.1 339.9,96.1 340,96.1 340.2,91.9 340.3,91.9 340.5,92.7 340.7,93.7 340.8,93.7 341,98.1 341.2,98.4 341.3,98.4 341.5,98 341.7,98 341.8,100.8 342,101.1 342.2,101.3 342.3,101.1 342.5,102.8 342.7,100.9 342.8,103 343,101.6 343.2,103 343.3,104.3 343.5,105.2 343.6,105.2 343.8,105 344,104.4 344.1,104.4 344.3,104.5 344.5,104.6 344.6,104.6 344.8,105.7 345,103.6 345.1,107.7 345.3,108.3 345.5,108.5 345.6,108.5 345.8,108.5 346,111.1 346.1,111.1 346.3,111 346.5,111 346.6,110 346.8,111.3 347,108.4 347.1,114.9 347.3,114.1 347.4,114.1 347.6,113 347.8,113 347.9,113.5 348.1,113.5 348.3,113.2 348.4,111.5 348.6,111.5 348.8,116.6 348.9,116.6 349.1,112.5 349.3,112.5 349.4,114 349.6,114 349.8,114 349.9,115.8 350.1,117.9 350.3,118.1 350.4,117.9 350.6,117.1 350.7,117.1 350.9,117.1 351.1,117.3 351.2,117.1 351.4,117.9 351.6,117.1 351.7,112.4 351.9,112.4 352.1,119.1 352.2,121.3 352.4,121.8 352.6,121.8 352.7,121.8 352.9,121.9 353.1,122.7 353.2,124.5 353.4,122.7 353.6,123.3 353.7,123.3 353.9,124.9 354.1,124.9 354.2,120.8 354.4,120.8 354.5,121.7 354.7,124.2 354.9,125.4 355,125.4 355.2,125.3 355.4,124.5 355.5,125.3 355.7,124.5 355.9,127.9 356,127.6 356.2,127.6 356.4,127.6 356.5,127 356.7,127 356.9,125.6 357,125.6 357.2,127 357.4,127.3 357.5,128.6 357.7,130 357.8,130.7 358,130.9 358.2,131.7 358.3,131.7 358.5,129.8 358.7,129.8 358.8,132.4 359,132.4 359.2,129.9 359.3,129.9 359.5,130.6 359.7,130.6 359.8,130.6 360,129.5 360.2,129.5 360.3,132.2 360.5,132.2 360.7,131.5 360.8,131.5 361,130.6 361.2,130.6 361.3,130.6 361.5,133.7 361.6,134 361.8,133.7 362,133.7 362.1,133.1 362.3,131.1 362.5,131.1 362.6,133.7 362.8,133.7 363,133.6 363.1,133.6 363.3,133.6 363.5,135.1 363.6,134.3 363.8,135.1 364,134.3 364.1,132.9 364.3,127 364.5,132.9 364.6,134.5 364.8,134.5 364.9,134.5 365.1,135.8 365.3,135.8 365.4,130.4 365.6,130.4 365.8,135.2 365.9,135.2 366.1,135.2 366.3,137.6 366.4,137.6 366.6,137.4 366.8,136.9 366.9,136.6 367.1,136.6 367.3,136.6 367.4,136.8 367.6,136.6 367.8,136.8 367.9,137.3 368.1,137.3 368.3,138.2 368.4,139.6 368.6,139.6 368.7,140.8 368.9,139.1 369.1,139.1 369.2,134.5 369.4,139.1 369.6,133.8 369.7,138.5 369.9,138.5 370.1,140.9 370.2,143 370.4,140.9 370.6,143.5 370.7,140.4 370.9,143.5 371.1,140.4 371.2,138.3 371.4,138.3 371.6,140.3 371.7,140.3 371.9,138.9 372,138.9 372.2,138.9 372.4,138.5 372.5,138.5 372.7,140.8 372.9,141.9 373,141.9 373.2,142.1 373.4,142.1 373.5,142.1 373.7,141.2 373.9,141.2 374,143.1 374.2,143.1 374.4,143.1 374.5,143 374.7,142.9 374.9,141.4 375,142.9 375.2,141.7 375.4,143.2 375.5,143.2 375.7,143.2 375.8,141.3 376,141.3 376.2,142.5 376.3,142.9 376.5,142.5 376.7,144.2 376.8,135.8 377,142.7 377.2,142.7 377.3,143 377.5,143.7 377.7,144 377.8,143.7 378,144 378.2,142.6 378.3,142.6 378.5,142.6 378.7,141 378.8,143.3 379,143.3 379.1,144.6 379.3,146.2 379.5,146.8 379.6,146.8 379.8,146.6 380,146.5 380.1,144.1 380.3,144.1 380.5,146.1 380.6,147.2 380.8,146.1 381,145.5 381.1,145.5 381.3,145.5 381.5,145.8 381.6,141.4 381.8,146.2 382,141.9 382.1,146.2 382.3,145 382.4,146.2 382.6,145 382.8,145.5 382.9,143.8 383.1,145.4 383.3,142.2 383.4,145.4 383.6,144.4 383.8,148.3 383.9,144.6 384.1,144.6 384.3,144.6 384.4,147.7 384.6,147.7 384.8,143.9 384.9,140.2 385.1,143.2 385.3,143.2 385.4,148.9 385.6,148.9 385.8,148.8 385.9,148.1 386.1,145.6 386.2,140.4 386.4,140.4 386.6,145.2 386.7,146 386.9,146 387.1,146 387.2,145.5 387.4,145.5 387.6,145.5 387.7,145.6 387.9,147.9 388.1,149.9 388.2,150.2 388.4,150.9 388.6,150.9 388.7,151.6 388.9,151.9 389.1,151.9 389.2,151.7 389.4,151.7 389.5,151.6 389.7,151.8 389.9,151.8 390,151.8 390.2,151.8 390.4,151.7 390.5,151.7 390.7,151.7 390.9,151.6 391,151.8 391.2,151.7 391.4,152 391.5,151.9 391.7,151.9 391.9,151.7 392,151.7 392.2,151.8 392.4,151.8 392.5,151.8 392.7,151.6 392.9,152.1 393,152.2 393.2,152.2 393.3,151.9 393.5,151.9 393.7,152 393.8,152 394,152 394.2,152 394.3,152 394.5,152.2 394.7,152.1 394.8,152.1 395,152.1 395.2,151.9 395.3,151.6 395.5,151.9 395.7,152.1 395.8,152.1 396,152.2 396.2,151.6 396.3,152.2 396.5,151.7 396.6,152.1 396.8,151.7 397,151.5 397.1,151.5 397.3,151.6 397.5,151.8 397.6,151.8 397.8,151.7 398,151.7 398.1,152 398.3,152 398.5,152 398.6,151.7 398.8,151.8 399,151.8 399.1,151.8 399.3,151.9 399.5,152 399.6,152.1 399.8,152.1 400,152.1 400.1,152 400.3,151.9 400.4,152 400.6,151.9 400.8,151.9 400.9,151.9 401.1,151.7 401.3,151.9 401.4,152 401.6,152 401.8,152 401.9,152 402.1,152 402.3,152 402.4,152 402.6,151.7 402.8,151.7 402.9,151.8 403.1,152.3 403.3,151.9 403.4,151.9 403.6,151.9 403.7,152.1 403.9,152.1 404.1,152 404.2,152 404.4,152 404.6,151.7 404.7,151.7 404.9,151.8 405.1,151.8 405.2,151.9 405.4,151.7 405.6,151.9 405.7,151.9 405.9,151.9 406.1,151.9 406.2,151.9 406.4,152.1 406.6,152.2 406.7,152.4 406.9,152.4 407.1,152.4 407.2,151.8 407.4,151.8 407.5,151.8 407.7,151.7 407.9,151.9 408,152.1 408.2,152.2 408.4,152.2 408.5,152.2 408.7,152.2 408.9,152.2 409,152.1 409.2,152.1 409.4,152 409.5,152 409.7,152 409.9,152 410,152 410.2,152 410.4,152 410.5,152 410.7,152.4 410.8,152.4 411,152.1 411.2,152.1 411.3,152.1 411.5,152.1 411.7,151.7 411.8,151.7 412,151.6 412.2,152.1 412.3,152 412.5,152.1 412.7,152.1 412.8,152.1 413,152.1 413.2,152.1 413.3,152.2 413.5,152 413.7,152.2 413.8,151.9 414,152.1 414.2,152.1 414.3,152.1 414.5,152 414.6,152 414.8,152.1 415,152.1 415.1,152.1 415.3,151.8 415.5,152 415.6,152 415.8,152 416,152.4 416.1,152 416.3,152 416.5,152 416.6,152 416.8,152 417,151.7 417.1,151.7 417.3,152.2 417.5,152.2 417.6,152.2 417.8,151.8 417.9,152.2 418.1,152.3 418.3,152.3 418.4,152 418.6,152 418.8,152.4 418.9,152.4 419.1,152 419.3,152 419.4,152 419.6,152 419.8,152 419.9,152 420.1,152 420.3,152 420.4,152 420.6,152.4 420.8,152.4 420.9,152.4 421.1,152.4 421.3,152.4 421.4,152.4 421.6,152.3 421.7,152.3 421.9,152 422.1,152 422.2,152.2 422.4,152.3 422.6,152.3 422.7,152.3 422.9,152.4 423.1,152.4 423.2,152 423.4,151.9 423.6,151.9 423.7,151.9 423.9,152 424.1,152 424.2,152 424.4,152 424.6,152.5 424.7,152.5 424.9,152.4 425,152.2 425.2,152.1 425.4,152.2 425.5,152.1 425.7,152.4 425.9,151.9 426,152.2 426.2,152.2 426.4,152.2 426.5,152.4 426.7,152.4 426.9,152.4 427,152.2 427.2,152 427.4,151.9 427.5,152 427.7,152.2 427.9,152.3 428,152.4 428.2,152.4 428.4,152.4 428.5,152 428.7,152 428.8,152 429,152.3 429.2,152.3 429.3,152.3 429.5,152.3 429.7,152.2 429.8,152.2 430,152.2 430.2,151.9 430.3,152.3 430.5,152.3 430.7,152.3 430.8,152.3 431,152.2 431.2,152.2 431.3,152.2 431.5,152.5 431.7,152.1 431.8,152.2 432,152.2 432.1,152.2 432.3,152.4 432.5,152.4 432.6,152.5 432.8,152.6 433,152.6 433.1,152.7 433.3,152.4 433.5,152.4 433.6,152.3 433.8,152.4 434,151.9 434.1,152.2 434.3,152.2 434.5,152.2 434.6,152.4 434.8,152.4 435,152.3 435.1,152.3 435.3,152.3 435.5,152.1 435.6,151.8 435.8,151.8 435.9,152.2 436.1,152.3 436.3,152.3 436.4,152.5 436.6,152.7 436.8,152.7 436.9,152.3 437.1,152.2 437.3,152.1 437.4,152.2 437.6,152.1 437.8,152.2 437.9,152 438.1,152.2 438.3,152.3 438.4,152.5 438.6,152.5 438.8,152.5 438.9,152.5 439.1,152.6 439.2,152.6 439.4,152.7 439.6,152.3 439.7,152.3 439.9,152.2 440.1,152.2 440.2,152.5 440.4,152.5 440.6,152.2 440.7,152.2 440.9,152.3 441.1,152.3 441.2,152.3 441.4,152.3 441.6,152.3 441.7,152.3 441.9,152.2 442.1,152.2 442.2,152.2 442.4,152.2 442.6,152.2 442.7,152.2 442.9,152.1 443,152.1 443.2,152.3 443.4,152.3 443.5,152.3 443.7,152.3 443.9,152.4 444,152.4 444.2,152.4 444.4,152.4 444.5,152.4 444.7,152.3 444.9,152.3 445,152.3 445.2,152.3 445.4,151.9 445.5,151.9 445.7,152.3 445.9,152.3 446,152.2 446.2,152.2 446.3,152.2 446.5,152.4 446.7,152.7 446.8,152.7 447,152.7 447.2,152.4 447.3,152.1 447.5,152.1 447.7,152.1 447.8,152 448,152 448.2,152 448.3,152.2 448.5,152.3 448.7,152.5 448.8,152.5 449,152.2 449.2,152.1 449.3,152.2 449.5,152.2 449.6,152.4 449.8,152.5 450,152.5 450.1,152.5 450.3,152.7 450.5,152.7 450.6,152.7 450.8,152.8 451,152.8 451.1,152.6 451.3,152.5 451.5,152.4 451.6,152.3 451.8,152.2 452,152.3 452.1,152.4 452.3,152.6 452.5,152.4 452.6,152.4 452.8,152.3 453,152.3 453.1,152.7 453.3,152.7 453.4,152.7 453.6,152.4 453.8,152.7 453.9,152.5 454.1,152.6 454.3,152.5 454.4,152.6 454.6,152.4 454.8,152.1 454.9,152.1 455.1,152.7 455.3,152.9 455.4,152.7 455.6,152.4 455.8,152.1 455.9,152.1 456.1,152.1 456.3,152.4 456.4,152.4 456.6,152.6 456.7,152.6 456.9,152.6 457.1,152.7 457.2,152.5 457.4,152.7 457.6,152.5 457.7,152.4 457.9,152.4 458.1,152.3 458.2,152.3 458.4,152.3 458.6,152.5 458.7,152.6 458.9,152.5 459.1,152.6 459.2,152.4 459.4,152.6 459.6,152.7 459.7,152.7 459.9,152.6 460.1,152.3 460.2,152.5 460.4,152.3 460.5,152.5 460.7,152.2 460.9,152.6 461,152.6 461.2,152.7 461.4,152.6 461.5,152.9 461.7,152.5 461.9,152.6 462,152.5 462.2,152.6 462.4,152.3 462.5,152.2 462.7,152.2 462.9,152.4 463,152.4 463.2,152.4 463.4,152.2 463.5,152.3 463.7,152.3 463.8,152.4 464,152.4 464.2,152.4 464.3,152.4 464.5,152.5 464.7,152.6 464.8,152.5 465,152.4 465.2,152.4 465.3,152.4 465.5,152.5 465.7,152.5 465.8,152.5 466,152.6 466.2,152.6 466.3,152.6 466.5,152.5 466.7,152.5 466.8,152.5 467,152.6 467.2,152.6 467.3,152.7 467.5,152.6 467.6,152.6 467.8,152.3 468,152.3 468.1,152.3 468.3,152.5 468.5,152.5 468.6,152.5 468.8,152.7 469,152.5 469.1,152.7 469.3,152.7 469.5,152.8 469.6,152.8 469.8,152.8 470,152.6 470.1,152.5 470.3,152.2 470.5,152.5 470.6,152.3 470.8,152.5 470.9,152.8 471.1,152.8 471.3,152.5 471.4,152.5 471.6,152.5 471.8,152.6 471.9,152.6 472.1,152.6 472.3,152.6 472.4,152.4 472.6,152.5 472.8,152.5 472.9,152.7 473.1,152.7 473.3,152.7 473.4,152.7 473.6,152.7 473.8,152.6 473.9,152.5 474.1,152.4 474.3,152.4 474.4,152.4 474.6,152.4 474.7,152.1 474.9,152.1 475.1,152.3 475.2,152.8 475.4,152.3 475.6,152.8 475.7,152.5 475.9,152.5 476.1,152.5 476.2,152.3 476.4,152.5 476.6,152.8 476.7,152.9 476.9,152.9 477.1,152.8 477.2,152.5 477.4,152.7 477.6,152.3 477.7,152.5 477.9,152.5 478,152.6 478.2,152.6 478.4,152.5 478.5,152.5 478.7,152.5 478.9,152.4 479,152.4 479.2,152.4 479.4,152.9 479.5,152.9 479.7,152.9 479.9,152.8 480,152.8 480.2,152.7 480.4,152.7 480.5,152.7 480.7,152.7 480.9,152.7 481,152.7 481.2,152.7 481.4,152.4 481.5,152.4 481.7,152.5 481.8,152.6 482,152.6 482.2,152.9 482.3,152.6 482.5,152.9 482.7,152.9 482.8,152.9 483,152.7 483.2,152.7 483.3,152.6 483.5,152.6 483.7,152.5 483.8,152.5 484,152.8 484.2,152.8 484.3,152.7 484.5,152.6 484.7,152.5 484.8,152.5 485,152.5 485.1,152.5 485.3,152.5 485.5,152.5 485.6,152.6 485.8,152.7 486,152.7 486.1,152.7 486.3,152.8 486.5,152.8 486.6,152.8 486.8,152.9" fill="none" stroke="#108c20" stroke-width="0.8" stroke-linejoin="round" stroke-opacity="0.85"/>
</g>
<rect x="338.2" y="40.4" width="148.6" height="113.7" fill="none" stroke="#858585" stroke-width="0.9"/>
<path d="M338.2 154.1h1.8M486.8 154.1h-1.8M338.2 131.4h1.8M486.8 131.4h-1.8M338.2 108.6h1.8M486.8 108.6h-1.8M338.2 85.9h1.8M486.8 85.9h-1.8M338.2 63.1h1.8M486.8 63.1h-1.8M338.2 40.4h1.8M486.8 40.4h-1.8M338.2 154.1v-1.8M338.2 40.4v1.8M354.7 154.1v-1.8M354.7 40.4v1.8M371.2 154.1v-1.8M371.2 40.4v1.8M387.7 154.1v-1.8M387.7 40.4v1.8M404.2 154.1v-1.8M404.2 40.4v1.8M420.8 154.1v-1.8M420.8 40.4v1.8M437.3 154.1v-1.8M437.3 40.4v1.8M453.8 154.1v-1.8M453.8 40.4v1.8M470.3 154.1v-1.8M470.3 40.4v1.8M486.8 154.1v-1.8M486.8 40.4v1.8" stroke="#858585" stroke-width="0.6" fill="none"/>
<g font-family="DejaVu Sans, sans-serif" font-size="4.6" fill="#333">
<text x="336.7" y="155.8" text-anchor="end">0.0</text>
<text x="336.7" y="133.1" text-anchor="end">0.5</text>
<text x="336.7" y="110.3" text-anchor="end">1.0</text>
<text x="336.7" y="87.6" text-anchor="end">1.5</text>
<text x="336.7" y="64.8" text-anchor="end">2.0</text>
<text x="336.7" y="42.1" text-anchor="end">2.5</text>
<text x="338.2" y="159.7" text-anchor="middle">0</text>
<text x="354.7" y="159.7" text-anchor="middle">100</text>
<text x="371.2" y="159.7" text-anchor="middle">200</text>
<text x="387.7" y="159.7" text-anchor="middle">300</text>
<text x="404.2" y="159.7" text-anchor="middle">400</text>
<text x="420.8" y="159.7" text-anchor="middle">500</text>
<text x="437.3" y="159.7" text-anchor="middle">600</text>
<text x="453.8" y="159.7" text-anchor="middle">700</text>
<text x="470.3" y="159.7" text-anchor="middle">800</text>
<text x="486.8" y="159.7" text-anchor="middle">900</text>
</g>
<g clip-path="url(#clipc)">
<polyline points="43.3,257.2 43.7,266.3 44,275.3 44.4,283.8 44.8,286.4 45.2,285.3 45.5,290 45.9,289.4 46.3,289.3 46.6,287 47,286.7 47.4,293.3 47.7,292.3 48.1,289.1 48.5,289.6 48.9,292.6 49.2,292.1 49.6,289.1 50,290.9 50.3,293.8 50.7,294.3 51.1,294.4 51.4,290.4 51.8,295.6 52.2,295.6 52.6,294.4 52.9,296 53.3,296.5 53.7,299.2 54,296.8 54.4,293.4 54.8,294.7 55.2,296.3 55.5,298.4 55.9,295.1 56.3,299.8 56.6,296.6 57,299.5 57.4,298.4 57.7,303.3 58.1,299.6 58.5,304.9 58.9,306.1 59.2,301.1 59.6,303.8 60,301.5 60.3,296.6 60.7,301.3 61.1,304.4 61.4,302.6 61.8,302.2 62.2,297.1 62.6,304.5 62.9,296.3 63.3,303.3 63.7,307.5 64,305.4 64.4,305.4 64.8,308.4 65.1,305.5 65.5,308.6 65.9,300.7 66.3,306.6 66.6,307.1 67,309.1 67.4,308.2 67.7,306.4 68.1,311.3 68.5,307.9 68.9,314.4 69.2,300.2 69.6,309.9 70,308.2 70.3,312.4 70.7,308.7 71.1,310.6 71.4,315.8 71.8,309.9 72.2,310.4 72.6,315.2 72.9,316.7 73.3,317.4 73.7,320.5 74,316.3 74.4,317.3 74.8,321.2 75.1,324.1 75.5,324.6 75.9,322.3 76.3,320.6 76.6,326.6 77,324.8 77.4,323.7 77.7,329.3 78.1,326.1 78.5,330.2 78.8,328.7 79.2,330.5 79.6,330.6 80,333.8 80.3,332.8 80.7,323.4 81.1,333.2 81.4,334.6 81.8,331.5 82.2,329.3 82.6,329.8 82.9,334.1 83.3,335.5 83.7,338.7 84,330.8 84.4,335.2 84.8,335.3 85.1,337.8 85.5,332.8 85.9,338.1 86.3,337.5 86.6,339.6 87,340.4 87.4,330.2 87.7,338.8 88.1,337 88.5,337.9 88.8,339 89.2,339.3 89.6,336.6 90,339 90.3,338.8 90.7,338.5 91.1,335.7 91.4,337.1 91.8,336.6 92.2,340.4 92.5,342.5 92.9,336.9 93.3,337 93.7,339.8 94,338.2 94.4,336.3 94.8,334 95.1,335.6 95.5,341.2 95.9,336.4 96.3,343.4 96.6,338.5 97,339.4 97.4,338.7 97.7,336.6 98.1,337.6 98.5,339.7 98.8,337.4 99.2,336.7 99.6,340.8 100,341.5 100.3,339.7 100.7,339.9 101.1,337.1 101.4,341.4 101.8,342 102.2,341.7 102.5,337.6 102.9,340.6 103.3,340.2 103.7,342.5 104,341.9 104.4,339.5 104.8,342.1 105.1,343 105.5,342.7 105.9,341.5 106.2,342.4 106.6,341.8 107,342.2 107.4,343.9 107.7,342.7 108.1,343.8 108.5,344 108.8,340.4 109.2,342 109.6,343.2 109.9,345.1 110.3,345.3 110.7,342.1 111.1,342.8 111.4,343.8 111.8,345.4 112.2,341.3 112.5,345 112.9,343.1 113.3,345.7 113.7,340.9 114,344.3 114.4,341.5 114.8,338.7 115.1,342.4 115.5,341.4 115.9,346 116.2,344.1 116.6,345.6 117,343.7 117.4,340.9 117.7,346.3 118.1,346.3 118.5,346.4 118.8,344.7 119.2,345.3 119.6,343.1 119.9,346 120.3,345.6 120.7,345.3 121.1,344.4 121.4,345.2 121.8,346.6 122.2,347 122.5,344.1 122.9,343.1 123.3,343.9 123.6,346.2 124,345.5 124.4,343.2 124.8,341.5 125.1,346.9 125.5,347.4 125.9,347.4 126.2,345.2 126.6,347.1 127,342.8 127.4,345.1 127.7,344.9 128.1,344.2 128.5,344.5 128.8,346.8 129.2,347.2 129.6,344.1 129.9,344.7 130.3,346.1 130.7,346.2 131.1,346.8 131.4,348.1 131.8,348.1 132.2,348.8 132.5,348.6 132.9,349.2 133.3,348.9 133.6,349.3 134,349.6 134.4,349.9 134.8,349.8 135.1,349 135.5,349.4 135.9,350 136.2,350.7 136.6,351.2 137,350.6 137.3,349.7 137.7,350 138.1,350.2 138.5,350 138.8,350 139.2,350.8 139.6,350.8 139.9,350.8 140.3,350 140.7,350.3 141.1,350.1 141.4,350 141.8,350.2 142.2,350.1 142.5,349.9 142.9,349.8 143.3,350.2 143.6,350.2 144,350.2 144.4,350.6 144.8,350.1 145.1,350.2 145.5,350.1 145.9,350.7 146.2,350.6 146.6,350 147,350.7 147.3,349.9 147.7,349.4 148.1,350 148.5,350.4 148.8,350.2 149.2,350.6 149.6,350.3 149.9,350.4 150.3,350.2 150.7,349.9 151,350.2 151.4,350.7 151.8,350.3 152.2,349.9 152.5,349.7 152.9,350.3 153.3,350.3 153.6,350.1 154,350.5 154.4,350.8 154.7,350.6 155.1,350.4 155.5,350.1 155.9,349.7 156.2,349.9 156.6,350 157,350.6 157.3,350.2 157.7,350.9 158.1,350.5 158.5,349.8 158.8,350 159.2,350.3 159.6,351 159.9,350.9 160.3,350.8 160.7,350.1 161,349.4 161.4,349.9 161.8,350.3 162.2,350.3 162.5,349.9 162.9,350.1 163.3,350.7 163.6,350.4 164,350.8 164.4,350.2 164.7,350 165.1,349.9 165.5,350.3 165.9,349.9 166.2,350.3 166.6,350.6 167,350.6 167.3,350.9 167.7,350.8 168.1,350 168.4,350 168.8,350 169.2,350 169.6,351 169.9,351 170.3,350.6" fill="none" stroke="#0000ff" stroke-width="0.6400000000000001" stroke-linejoin="round" stroke-opacity="0.5"/>
<polyline points="43.3,257.2 43.7,266.3 44,275.3 44.4,283.8 44.8,285.3 45.2,286.4 45.5,289.4 45.9,289.4 46.3,289.3 46.6,287 47,287 47.4,292.3 47.7,292.3 48.1,289.6 48.5,289.6 48.9,292.1 49.2,292.1 49.6,290.9 50,290.9 50.3,293.8 50.7,294.3 51.1,294.3 51.4,294.4 51.8,295.6 52.2,295.6 52.6,295.6 52.9,296 53.3,296.5 53.7,296.8 54,296.8 54.4,294.7 54.8,294.7 55.2,296.3 55.5,296.3 55.9,298.4 56.3,296.6 56.6,299.5 57,298.4 57.4,299.5 57.7,299.6 58.1,303.3 58.5,304.9 58.9,304.9 59.2,303.8 59.6,301.5 60,301.5 60.3,301.3 60.7,301.3 61.1,302.6 61.4,302.6 61.8,302.2 62.2,302.2 62.6,297.1 62.9,303.3 63.3,303.3 63.7,305.4 64,305.4 64.4,305.4 64.8,305.5 65.1,308.4 65.5,305.5 65.9,306.6 66.3,306.6 66.6,307.1 67,308.2 67.4,308.2 67.7,308.2 68.1,307.9 68.5,311.3 68.9,307.9 69.2,309.9 69.6,308.2 70,309.9 70.3,308.7 70.7,310.6 71.1,310.6 71.4,310.6 71.8,310.4 72.2,310.4 72.6,315.2 72.9,316.7 73.3,317.4 73.7,317.4 74,317.3 74.4,317.3 74.8,321.2 75.1,324.1 75.5,324.1 75.9,322.3 76.3,322.3 76.6,324.8 77,324.8 77.4,324.8 77.7,326.1 78.1,329.3 78.5,328.7 78.8,330.2 79.2,330.5 79.6,330.6 80,332.8 80.3,332.8 80.7,332.8 81.1,333.2 81.4,333.2 81.8,331.5 82.2,329.8 82.6,329.8 82.9,334.1 83.3,335.5 83.7,335.5 84,335.2 84.4,335.2 84.8,335.3 85.1,335.3 85.5,337.8 85.9,337.5 86.3,338.1 86.6,339.6 87,339.6 87.4,338.8 87.7,337 88.1,337.9 88.5,337.9 88.8,339 89.2,339 89.6,339 90,338.8 90.3,338.8 90.7,338.5 91.1,337.1 91.4,336.6 91.8,337.1 92.2,340.4 92.5,340.4 92.9,337 93.3,337 93.7,338.2 94,338.2 94.4,336.3 94.8,335.6 95.1,335.6 95.5,336.4 95.9,341.2 96.3,338.5 96.6,339.4 97,338.7 97.4,338.7 97.7,337.6 98.1,337.6 98.5,337.6 98.8,337.4 99.2,337.4 99.6,340.8 100,340.8 100.3,339.9 100.7,339.7 101.1,339.9 101.4,341.4 101.8,341.7 102.2,341.7 102.5,340.6 102.9,340.2 103.3,340.6 103.7,341.9 104,341.9 104.4,341.9 104.8,342.1 105.1,342.7 105.5,342.7 105.9,342.4 106.2,341.8 106.6,342.2 107,342.2 107.4,342.7 107.7,343.8 108.1,343.8 108.5,343.8 108.8,342 109.2,342 109.6,343.2 109.9,345.1 110.3,345.1 110.7,342.8 111.1,342.8 111.4,343.8 111.8,343.8 112.2,345 112.5,343.1 112.9,345 113.3,343.1 113.7,344.3 114,341.5 114.4,341.5 114.8,341.5 115.1,341.4 115.5,342.4 115.9,344.1 116.2,345.6 116.6,344.1 117,343.7 117.4,343.7 117.7,346.3 118.1,346.3 118.5,346.3 118.8,345.3 119.2,344.7 119.6,345.3 119.9,345.6 120.3,345.6 120.7,345.3 121.1,345.2 121.4,345.2 121.8,346.6 122.2,346.6 122.5,344.1 122.9,343.9 123.3,343.9 123.6,345.5 124,345.5 124.4,343.2 124.8,343.2 125.1,346.9 125.5,347.4 125.9,347.4 126.2,347.1 126.6,345.2 127,345.1 127.4,344.9 127.7,344.9 128.1,344.5 128.5,344.5 128.8,346.8 129.2,346.8 129.6,344.7 129.9,344.7 130.3,346.1 130.7,346.2 131.1,346.8 131.4,348.1 131.8,348.1 132.2,348.6 132.5,348.8 132.9,348.9 133.3,349.2 133.6,349.3 134,349.6 134.4,349.8 134.8,349.8 135.1,349.4 135.5,349.4 135.9,350 136.2,350.7 136.6,350.7 137,350.6 137.3,350 137.7,350 138.1,350 138.5,350 138.8,350 139.2,350.8 139.6,350.8 139.9,350.8 140.3,350.3 140.7,350.1 141.1,350.1 141.4,350.1 141.8,350.1 142.2,350.1 142.5,349.9 142.9,349.9 143.3,350.2 143.6,350.2 144,350.2 144.4,350.2 144.8,350.2 145.1,350.1 145.5,350.2 145.9,350.6 146.2,350.6 146.6,350.6 147,350 147.3,349.9 147.7,349.9 148.1,350 148.5,350.2 148.8,350.4 149.2,350.3 149.6,350.4 149.9,350.3 150.3,350.2 150.7,350.2 151,350.2 151.4,350.3 151.8,350.3 152.2,349.9 152.5,349.9 152.9,350.3 153.3,350.3 153.6,350.3 154,350.5 154.4,350.6 154.7,350.6 155.1,350.4 155.5,350.1 155.9,349.9 156.2,349.9 156.6,350 157,350.2 157.3,350.6 157.7,350.5 158.1,350.5 158.5,350 158.8,350 159.2,350.3 159.6,350.9 159.9,350.9 160.3,350.8 160.7,350.1 161,349.9 161.4,349.9 161.8,350.3 162.2,350.3 162.5,350.1 162.9,350.1 163.3,350.4 163.6,350.7 164,350.4 164.4,350.2 164.7,350 165.1,350 165.5,349.9 165.9,350.3 166.2,350.3 166.6,350.6 167,350.6 167.3,350.8 167.7,350.8 168.1,350 168.4,350 168.8,350 169.2,350 169.6,351 169.9,351 170.3,350.6" fill="none" stroke="#0000ff" stroke-width="0.8" stroke-linejoin="round" />
<polyline points="43.3,257.2 43.7,268.1 44,280.7 44.4,291.7 44.8,294.7 45.2,299.3 45.5,307.4 45.9,304.9 46.3,304.9 46.6,306.2 47,304.5 47.4,303.1 47.7,306.6 48.1,305.8 48.5,302.8 48.9,307.7 49.2,309.5 49.6,307.3 50,307.1 50.3,309.8 50.7,307.5 51.1,309.8 51.4,311.4 51.8,309.8 52.2,309.1 52.6,307.8 52.9,310.7 53.3,311.9 53.7,307 54,313.8 54.4,310.4 54.8,309.3 55.2,313.9 55.5,312.8 55.9,312.8 56.3,312.4 56.6,314.4 57,316.3 57.4,316.5 57.7,314.9 58.1,315.1 58.5,311.2 58.9,316 59.2,315.1 59.6,314.6 60,317.3 60.3,320.3 60.7,320.3 61.1,321 61.4,315.9 61.8,320.6 62.2,317.1 62.6,318.6 62.9,316.8 63.3,318.4 63.7,320.7 64,321.1 64.4,320.9 64.8,321 65.1,322.6 65.5,322 65.9,315.4 66.3,325.6 66.6,322.3 67,324.7 67.4,323 67.7,322.2 68.1,324.1 68.5,322.9 68.9,324.4 69.2,322.8 69.6,318.7 70,324.3 70.3,325.4 70.7,330.7 71.1,327.6 71.4,326.1 71.8,324 72.2,319.3 72.6,326.9 72.9,323.4 73.3,325.3 73.7,318.9 74,328.3 74.4,329.1 74.8,325.3 75.1,327.6 75.5,322.6 75.9,328.4 76.3,327.7 76.6,329.3 77,332.3 77.4,328.4 77.7,333.3 78.1,331.7 78.5,331.1 78.8,330.2 79.2,331.3 79.6,331.7 80,334 80.3,335.2 80.7,325.7 81.1,334.7 81.4,336 81.8,336.2 82.2,335.1 82.6,337.8 82.9,337.2 83.3,337.9 83.7,334.9 84,329.1 84.4,332.2 84.8,338.8 85.1,337.5 85.5,334.9 85.9,337.2 86.3,330.4 86.6,334.1 87,337.9 87.4,337.2 87.7,339.8 88.1,336.9 88.5,332.4 88.8,340.2 89.2,339.6 89.6,336.9 90,336.9 90.3,339.2 90.7,337 91.1,337.2 91.4,336.6 91.8,339 92.2,337.7 92.5,339.6 92.9,342.5 93.3,339.3 93.7,337.5 94,336.1 94.4,343 94.8,334.4 95.1,341.2 95.5,337.5 95.9,337.1 96.3,337.7 96.6,338.7 97,341.7 97.4,338.6 97.7,341.1 98.1,344.4 98.5,334.8 98.8,338.8 99.2,336.8 99.6,341.8 100,337.6 100.3,335.1 100.7,337.7 101.1,340.6 101.4,342.8 101.8,341 102.2,344.7 102.5,343.7 102.9,340.4 103.3,342.3 103.7,340.8 104,340.7 104.4,336.9 104.8,338 105.1,340.4 105.5,338.1 105.9,341.7 106.2,340.8 106.6,338.5 107,342.4 107.4,340.6 107.7,342.4 108.1,339.8 108.5,337 108.8,341.3 109.2,339.5 109.6,341.5 109.9,341 110.3,342 110.7,337.1 111.1,334.9 111.4,338.8 111.8,340.9 112.2,331.4 112.5,340.1 112.9,338 113.3,338.9 113.7,338.9 114,338.3 114.4,332.4 114.8,340.1 115.1,342.5 115.5,340.2 115.9,342 116.2,339.7 116.6,341.2 117,339.3 117.4,338.6 117.7,342 118.1,338.8 118.5,341.2 118.8,338.1 119.2,335.7 119.6,338 119.9,340.2 120.3,336.9 120.7,342.3 121.1,336.8 121.4,340.7 121.8,344.6 122.2,334.8 122.5,336.7 122.9,341.5 123.3,339.3 123.6,340 124,339.4 124.4,342.3 124.8,333.2 125.1,338.8 125.5,339.3 125.9,337.5 126.2,339.5 126.6,335.5 127,341 127.4,339.2 127.7,342.8 128.1,342 128.5,337.3 128.8,341.5 129.2,338.8 129.6,339.9 129.9,341.7 130.3,340.4 130.7,340.7 131.1,340.7 131.4,338.5 131.8,329.4 132.2,339.4 132.5,339.6 132.9,339.7 133.3,339 133.6,339 134,339.4 134.4,340.3 134.8,340.8 135.1,341 135.5,341.1 135.9,341 136.2,340.9 136.6,340.8 137,341 137.3,340.9 137.7,340.9 138.1,340.3 138.5,340 138.8,339.2 139.2,339.4 139.6,339.5 139.9,339.8 140.3,339.5 140.7,339.4 141.1,339.2 141.4,339.3 141.8,340.5 142.2,340.4 142.5,340.3 142.9,340.3 143.3,339.9 143.6,339.6 144,339.9 144.4,339.8 144.8,340.1 145.1,340.2 145.5,340.2 145.9,340.1 146.2,339.9 146.6,339.6 147,339.6 147.3,338.9 147.7,339.1 148.1,339.5 148.5,340.1 148.8,340.3 149.2,340.1 149.6,339.9 149.9,340 150.3,339.5 150.7,339.1 151,340 151.4,339.3 151.8,339.4 152.2,339.6 152.5,339.3 152.9,339.6 153.3,339.3 153.6,339.5 154,340.4 154.4,340.6 154.7,340.2 155.1,340 155.5,339.5 155.9,340 156.2,339.4 156.6,339.5 157,339.1 157.3,339.2 157.7,339.5 158.1,339 158.5,339.6 158.8,340 159.2,339.9 159.6,340.4 159.9,340 160.3,339.2 160.7,339.1 161,338.7 161.4,339 161.8,339.6 162.2,340 162.5,340 162.9,340 163.3,339.9 163.6,339.7 164,339.8 164.4,340 164.7,339.4 165.1,339.5 165.5,339.5 165.9,339.2 166.2,339 166.6,339.2 167,339.2 167.3,339 167.7,338.6 168.1,338.7 168.4,338.5 168.8,337.9 169.2,338.2 169.6,338.2 169.9,338.2 170.3,338.4" fill="none" stroke="#108c20" stroke-width="0.6400000000000001" stroke-linejoin="round" stroke-opacity="0.5"/>
<polyline points="43.3,257.2 43.7,268.1 44,280.7 44.4,291.7 44.8,294.7 45.2,299.3 45.5,304.9 45.9,304.9 46.3,304.9 46.6,304.9 47,304.5 47.4,304.5 47.7,305.8 48.1,305.8 48.5,305.8 48.9,307.7 49.2,307.7 49.6,307.3 50,307.3 50.3,307.5 50.7,309.8 51.1,309.8 51.4,309.8 51.8,309.8 52.2,309.1 52.6,309.1 52.9,310.7 53.3,310.7 53.7,311.9 54,310.4 54.4,310.4 54.8,310.4 55.2,312.8 55.5,312.8 55.9,312.8 56.3,312.8 56.6,314.4 57,316.3 57.4,316.3 57.7,315.1 58.1,314.9 58.5,315.1 58.9,315.1 59.2,315.1 59.6,315.1 60,317.3 60.3,320.3 60.7,320.3 61.1,320.3 61.4,320.6 61.8,317.1 62.2,318.6 62.6,317.1 62.9,318.4 63.3,318.4 63.7,320.7 64,320.9 64.4,321 64.8,321 65.1,322 65.5,322 65.9,322 66.3,322.3 66.6,324.7 67,323 67.4,323 67.7,323 68.1,322.9 68.5,324.1 68.9,322.9 69.2,322.8 69.6,322.8 70,324.3 70.3,325.4 70.7,327.6 71.1,327.6 71.4,326.1 71.8,324 72.2,324 72.6,323.4 72.9,325.3 73.3,323.4 73.7,325.3 74,328.3 74.4,328.3 74.8,327.6 75.1,325.3 75.5,327.6 75.9,327.7 76.3,328.4 76.6,329.3 77,329.3 77.4,332.3 77.7,331.7 78.1,331.7 78.5,331.1 78.8,331.1 79.2,331.3 79.6,331.7 80,334 80.3,334 80.7,334.7 81.1,334.7 81.4,336 81.8,336 82.2,336.2 82.6,337.2 82.9,337.8 83.3,337.2 83.7,334.9 84,332.2 84.4,332.2 84.8,337.5 85.1,337.5 85.5,337.2 85.9,334.9 86.3,334.1 86.6,334.1 87,337.2 87.4,337.9 87.7,337.2 88.1,336.9 88.5,336.9 88.8,339.6 89.2,339.6 89.6,336.9 90,336.9 90.3,337 90.7,337.2 91.1,337 91.4,337.2 91.8,337.7 92.2,339 92.5,339.6 92.9,339.6 93.3,339.3 93.7,337.5 94,337.5 94.4,336.1 94.8,341.2 95.1,337.5 95.5,337.5 95.9,337.5 96.3,337.7 96.6,338.7 97,338.7 97.4,341.1 97.7,341.1 98.1,341.1 98.5,338.8 98.8,336.8 99.2,338.8 99.6,337.6 100,337.6 100.3,337.6 100.7,337.7 101.1,340.6 101.4,341 101.8,342.8 102.2,343.7 102.5,343.7 102.9,342.3 103.3,340.8 103.7,340.8 104,340.7 104.4,338 104.8,338 105.1,338.1 105.5,340.4 105.9,340.8 106.2,340.8 106.6,340.8 107,340.6 107.4,342.4 107.7,340.6 108.1,339.8 108.5,339.8 108.8,339.5 109.2,341.3 109.6,341 109.9,341.5 110.3,341 110.7,337.1 111.1,337.1 111.4,338.8 111.8,338.8 112.2,340.1 112.5,338 112.9,338.9 113.3,338.9 113.7,338.9 114,338.3 114.4,338.3 114.8,340.1 115.1,340.2 115.5,342 115.9,340.2 116.2,341.2 116.6,339.7 117,339.3 117.4,339.3 117.7,338.8 118.1,341.2 118.5,338.8 118.8,338.1 119.2,338 119.6,338 119.9,338 120.3,340.2 120.7,336.9 121.1,340.7 121.4,340.7 121.8,340.7 122.2,336.7 122.5,336.7 122.9,339.3 123.3,340 123.6,339.4 124,340 124.4,339.4 124.8,338.8 125.1,338.8 125.5,338.8 125.9,339.3 126.2,337.5 126.6,339.5 127,339.2 127.4,341 127.7,342 128.1,342 128.5,341.5 128.8,338.8 129.2,339.9 129.6,339.9 129.9,340.4 130.3,340.7 130.7,340.7 131.1,340.7 131.4,338.5 131.8,338.5 132.2,339.4 132.5,339.6 132.9,339.6 133.3,339 133.6,339 134,339.4 134.4,340.3 134.8,340.8 135.1,341 135.5,341 135.9,341 136.2,340.9 136.6,340.9 137,340.9 137.3,340.9 137.7,340.9 138.1,340.3 138.5,340 138.8,339.4 139.2,339.4 139.6,339.5 139.9,339.5 140.3,339.5 140.7,339.4 141.1,339.3 141.4,339.3 141.8,340.4 142.2,340.4 142.5,340.3 142.9,340.3 143.3,339.9 143.6,339.9 144,339.8 144.4,339.9 144.8,340.1 145.1,340.2 145.5,340.2 145.9,340.1 146.2,339.9 146.6,339.6 147,339.6 147.3,339.1 147.7,339.1 148.1,339.5 148.5,340.1 148.8,340.1 149.2,340.1 149.6,340 149.9,339.9 150.3,339.5 150.7,339.5 151,339.3 151.4,339.4 151.8,339.4 152.2,339.4 152.5,339.6 152.9,339.3 153.3,339.5 153.6,339.5 154,340.4 154.4,340.4 154.7,340.2 155.1,340 155.5,340 155.9,339.5 156.2,339.5 156.6,339.4 157,339.2 157.3,339.2 157.7,339.2 158.1,339.5 158.5,339.6 158.8,339.9 159.2,340 159.6,340 159.9,340 160.3,339.2 160.7,339.1 161,339 161.4,339 161.8,339.6 162.2,340 162.5,340 162.9,340 163.3,339.9 163.6,339.8 164,339.8 164.4,339.8 164.7,339.5 165.1,339.5 165.5,339.5 165.9,339.2 166.2,339.2 166.6,339.2 167,339.2 167.3,339 167.7,338.7 168.1,338.6 168.4,338.5 168.8,338.2 169.2,338.2 169.6,338.2 169.9,338.2 170.3,338.4" fill="none" stroke="#108c20" stroke-width="0.8" stroke-linejoin="round" stroke-opacity="0.85"/>
<polyline points="22.2,248.2 22.6,248.2 22.9,248.2 23.3,248.2 23.7,248.2 24.1,248.2 24.4,248.2 24.8,248.2 25.2,248.2 25.5,248.2 25.9,248.2 26.3,248.2 26.6,248.2 27,248.2 27.4,248.2 27.8,248.2 28.1,248.2 28.5,248.2 28.9,248.2 29.2,248.2 29.6,248.2 30,248.2 30.3,248.2 30.7,248.2 31.1,248.2 31.5,248.2 31.8,248.2 32.2,248.2 32.6,248.2 32.9,248.2 33.3,248.2 33.7,248.2 34,248.2 34.4,248.2 34.8,248.2 35.2,248.2 35.5,248.2 35.9,248.2 36.3,248.2 36.6,248.2 37,248.2 37.4,248.2 37.8,248.2 38.1,248.2 38.5,248.2 38.9,248.2 39.2,248.2 39.6,248.2 40,248.2 40.3,248.2 40.7,248.2 41.1,248.2 41.5,248.2 41.8,248.4 42.2,248.7 42.6,249.6 42.9,251.4 43.3,257.2" fill="none" stroke="#2f8f6a" stroke-width="0.8" stroke-linejoin="round" />
</g>
<rect x="22.2" y="239.2" width="148.1" height="112.8" fill="none" stroke="#858585" stroke-width="0.9"/>
<path d="M22.2 352h1.8M170.3 352h-1.8M22.2 329.4h1.8M170.3 329.4h-1.8M22.2 306.9h1.8M170.3 306.9h-1.8M22.2 284.3h1.8M170.3 284.3h-1.8M22.2 261.8h1.8M170.3 261.8h-1.8M22.2 239.2h1.8M170.3 239.2h-1.8M22.2 352v-1.8M22.2 239.2v1.8M40.7 352v-1.8M40.7 239.2v1.8M59.2 352v-1.8M59.2 239.2v1.8M77.7 352v-1.8M77.7 239.2v1.8M96.3 352v-1.8M96.3 239.2v1.8M114.8 352v-1.8M114.8 239.2v1.8M133.3 352v-1.8M133.3 239.2v1.8M151.8 352v-1.8M151.8 239.2v1.8M170.3 352v-1.8M170.3 239.2v1.8" stroke="#858585" stroke-width="0.6" fill="none"/>
<g font-family="DejaVu Sans, sans-serif" font-size="4.6" fill="#333">
<text x="20.7" y="353.7" text-anchor="end">0.0</text>
<text x="20.7" y="331.1" text-anchor="end">0.5</text>
<text x="20.7" y="308.6" text-anchor="end">1.0</text>
<text x="20.7" y="286" text-anchor="end">1.5</text>
<text x="20.7" y="263.5" text-anchor="end">2.0</text>
<text x="20.7" y="240.9" text-anchor="end">2.5</text>
<text x="22.2" y="357.6" text-anchor="middle">0</text>
<text x="40.7" y="357.6" text-anchor="middle">50</text>
<text x="59.2" y="357.6" text-anchor="middle">100</text>
<text x="77.7" y="357.6" text-anchor="middle">150</text>
<text x="96.3" y="357.6" text-anchor="middle">200</text>
<text x="114.8" y="357.6" text-anchor="middle">250</text>
<text x="133.3" y="357.6" text-anchor="middle">300</text>
<text x="151.8" y="357.6" text-anchor="middle">350</text>
<text x="170.3" y="357.6" text-anchor="middle">400</text>
</g>
<g clip-path="url(#clipd)">
<polyline points="343.8,247.5 344,248.3 344.2,249.1 344.4,249.8 344.6,254.4 344.7,259 344.9,263.6 345.1,268.3 345.3,272.9 345.5,273.3 345.7,273.7 345.9,274.2 346.1,275.4 346.2,276.9 346.4,278.5 346.6,276.9 346.8,274.7 347.2,277.6 347.6,274.8 347.9,279.1 348.3,279.2 348.7,275.4 349.1,279.2 349.4,283.1 349.8,282.7 350.2,281.1 350.6,277.5 350.9,284.7 351.3,269.6 351.7,282 352.1,286.7 352.5,287 352.8,284.1 353.2,285.5 353.6,287.6 354,271.4 354.3,297.5 354.7,286.4 355.1,292.8 355.5,295.4 355.8,284 356.2,289.3 356.6,293.2 357,294.9 357.3,279.1 357.7,293.5 358.1,289.6 358.5,292.1 358.9,280.1 359.2,291.9 359.6,296.4 360,299 360.4,295 360.7,286.5 361.1,298.3 361.5,300.5 361.9,291.4 362.2,306.6 362.6,297.6 363,298.7 363.4,305.6 363.7,301 364.1,288.5 364.5,300 364.9,308.8 365.2,306 365.6,301.6 366,300.8 366.4,311.2 366.8,306.8 367.1,304.8 367.5,308.1 367.9,302 368.3,310.9 368.6,305.5 369,311.5 369.4,302.2 369.8,309.6 370.1,297.1 370.5,315.9 370.9,306.3 371.3,309.7 371.6,310.3 372,309.7 372.4,312.7 372.8,316.2 373.1,317.3 373.5,315.4 373.9,312 374.3,307.2 374.7,319.1 375,318.9 375.4,317.9 375.8,317.4 376.2,322.3 376.5,325.5 376.9,320.7 377.3,317.5 377.7,319.2 378,321.2 378.4,323.2 378.8,307.2 379.2,323.8 379.5,313.7 379.9,326.2 380.3,323.8 380.7,324.9 381,323.4 381.4,324.7 381.8,318.1 382.2,321.7 382.6,322 382.9,320.9 383.3,328.3 383.7,329.5 384.1,316.6 384.4,335.3 384.8,323.3 385.2,326 385.6,332.7 385.9,327.4 386.3,332.7 386.7,330.5 387.1,329.1 387.4,325.3 387.8,332.4 388.2,318.4 388.6,332.1 388.9,315.5 389.3,320.4 389.7,329.6 390.1,337.3 390.5,335 390.8,337.2 391.2,330.6 391.6,333.5 392,336.8 392.3,337.6 392.7,335.2 393.1,339.1 393.5,340.2 393.8,336.2 394.2,330.5 394.6,338.8 395,340 395.3,342 395.7,342.8 396.1,337.4 396.5,336.7 396.9,332.4 397.2,338.7 397.6,339.6 398,339.7 398.4,344.9 398.7,342 399.1,324.8 399.5,343.4 399.9,342.7 400.2,344 400.6,339.2 401,339.4 401.4,329.2 401.7,342.9 402.1,340.2 402.5,341 402.9,338.1 403.2,349.6 403.6,341 404,342.3 404.4,343.7 404.8,341.8 405.1,341.3 405.5,341.6 405.9,331.2 406.3,331.7 406.6,346.3 407,346.1 407.4,343.5 407.8,347.8 408.1,339.9 408.5,328.7 408.9,340.3 409.3,347.1 409.6,348.4 410,347 410.4,345.5 410.8,349.7 411.1,347.1 411.5,348.5 411.9,343.8 412.3,350.9 412.7,346 413,341.6 413.4,352.5 413.8,351.9 414.2,353.6 414.5,349.8 414.9,334.7 415.3,335.1 415.7,349.1 416,346.3 416.4,343.7 416.8,351.1 417.2,352.7 417.5,353 417.9,352.2 418.3,352.8 418.7,352.2 419.1,352.4 419.4,352.1 419.8,350.6 420.2,352.5 420.6,352.3 420.9,352.5 421.3,352.4 421.7,352.3 422.1,352.4 422.4,352.4 422.8,352.6 423.2,352.4 423.6,352.9 423.9,352.4 424.3,352.6 424.7,352.1 425.1,351 425.4,352.8 425.8,352.3 426.2,352.4 426.6,352.6 427,352.3 427.3,352.5 427.7,352.5 428.1,352.4 428.5,352.4 428.8,352.4 429.2,352.7 429.6,352.2 430,352.2 430.3,352.6 430.7,352.5 431.1,352.4 431.5,352.5 431.8,352 432.2,352.3 432.6,352.6 433,352.6 433.3,352.4 433.7,351.9 434.1,350.5 434.5,352.4 434.9,352.3 435.2,352.4 435.6,351.9 436,352.5 436.4,352.2 436.7,352.4 437.1,352.3 437.5,352.7 437.9,352 438.2,352.4 438.6,352.4 439,352.6 439.4,352.6 439.7,352.3 440.1,352.2 440.5,352.2 440.9,352.1 441.2,352.3 441.6,352.4 442,352.2 442.4,352.3 442.8,352.4 443.1,352.3 443.5,352.1 443.9,352.4 444.3,352.5 444.6,352.3 445,352 445.4,352.5 445.8,352.5 446.1,352.5 446.5,352.2 446.9,352.9 447.3,352.4 447.6,352.2 448,352.6 448.4,352.1 448.8,352.3 449.1,352.6 449.5,352.4 449.9,352.8 450.3,352.6 450.7,352 451,352.7 451.4,352 451.8,352.5 452.2,352.2 452.5,352.4 452.9,351 453.3,352.6 453.7,352.4 454,352.7 454.4,352.8 454.8,352.4 455.2,352.6 455.5,352.9 455.9,352.6 456.3,352.3 456.7,352.6 457.1,352.3 457.4,352.1 457.8,352.5 458.2,352.7 458.6,352.8 458.9,352.5 459.3,350.9 459.7,352.4 460.1,352.3 460.4,352.6 460.8,352.4 461.2,352.6 461.6,352.6 461.9,352.8 462.3,352.8 462.7,352.6 463.1,352.7 463.4,352.7 463.8,352.3 464.2,352.5 464.6,351.8 465,352.3 465.3,352.6 465.7,352.3 466.1,352.4 466.5,352.7 466.8,352.2 467.2,352.7 467.6,353.2 468,352.3 468.3,352.6 468.7,352.2 469.1,352.7 469.5,352.8 469.8,352.1 470.2,352.8 470.6,352.5 471,352.2 471.3,352.5 471.7,352.5 472.1,352.5 472.5,352.3 472.9,352.7 473.2,352.4 473.6,352.4 474,352 474.4,351.5 474.7,352.7 475.1,352.4 475.5,352.6 475.9,352.5 476.2,352.5 476.6,352.3 477,352.7 477.4,352.5 477.7,353.1 478.1,352.7 478.5,352.2 478.9,352.7 479.2,352.7 479.6,352.8 480,352.4 480.4,352.5 480.8,352.8 481.1,352.4 481.5,352.5 481.9,352.4 482.3,352.7 482.6,352.1 483,352.4 483.4,352.6 483.8,352.7 484.1,352.6 484.5,352.4 484.9,352.6 485.3,352.3 485.6,352.4 486,352.2 486.4,352.4 486.8,352.6 487.2,353 487.5,352.5 487.9,352.4 488.3,352.5 488.7,352.4 489,352.7 489.4,352.7 489.8,352.8 490.2,352.3 490.5,352.5 490.9,352.7 491.3,352.9 491.7,352.6 492,352.2 492.4,352.5 492.8,352.7 493.2,352.2 493.5,352.2 493.9,352.4 494.3,352.4" fill="none" stroke="#0000ff" stroke-width="0.6400000000000001" stroke-linejoin="round" stroke-opacity="0.5"/>
<polyline points="343.8,247.5 344,248.3 344.2,249.1 344.4,249.8 344.6,254.4 344.7,259 344.9,263.6 345.1,268.3 345.3,272.9 345.5,273.3 345.7,273.7 345.9,274.2 346.1,275.4 346.2,276.9 346.4,276.9 346.6,276.9 346.8,276.9 347.2,274.8 347.6,277.6 347.9,279.1 348.3,279.1 348.7,279.2 349.1,279.2 349.4,282.7 349.8,282.7 350.2,281.1 350.6,281.1 350.9,277.5 351.3,282 351.7,282 352.1,286.7 352.5,286.7 352.8,285.5 353.2,285.5 353.6,285.5 354,287.6 354.3,286.4 354.7,292.8 355.1,292.8 355.5,292.8 355.8,289.3 356.2,289.3 356.6,293.2 357,293.2 357.3,293.5 357.7,289.6 358.1,292.1 358.5,289.6 358.9,291.9 359.2,291.9 359.6,296.4 360,296.4 360.4,295 360.7,295 361.1,298.3 361.5,298.3 361.9,300.5 362.2,297.6 362.6,298.7 363,298.7 363.4,301 363.7,301 364.1,300 364.5,300 364.9,306 365.2,306 365.6,301.6 366,301.6 366.4,306.8 366.8,306.8 367.1,306.8 367.5,304.8 367.9,308.1 368.3,305.5 368.6,310.9 369,305.5 369.4,309.6 369.8,302.2 370.1,309.6 370.5,306.3 370.9,309.7 371.3,309.7 371.6,309.7 372,310.3 372.4,312.7 372.8,316.2 373.1,316.2 373.5,315.4 373.9,312 374.3,312 374.7,318.9 375,318.9 375.4,317.9 375.8,317.9 376.2,322.3 376.5,322.3 376.9,320.7 377.3,319.2 377.7,319.2 378,321.2 378.4,321.2 378.8,323.2 379.2,313.7 379.5,323.8 379.9,323.8 380.3,324.9 380.7,323.8 381,324.7 381.4,323.4 381.8,321.7 382.2,321.7 382.6,321.7 382.9,322 383.3,328.3 383.7,328.3 384.1,329.5 384.4,323.3 384.8,326 385.2,326 385.6,327.4 385.9,332.7 386.3,330.5 386.7,330.5 387.1,329.1 387.4,329.1 387.8,325.3 388.2,332.1 388.6,318.4 388.9,320.4 389.3,320.4 389.7,329.6 390.1,335 390.5,337.2 390.8,335 391.2,333.5 391.6,333.5 392,336.8 392.3,336.8 392.7,337.6 393.1,339.1 393.5,339.1 393.8,336.2 394.2,336.2 394.6,338.8 395,340 395.3,342 395.7,342 396.1,337.4 396.5,336.7 396.9,336.7 397.2,338.7 397.6,339.6 398,339.7 398.4,342 398.7,342 399.1,342 399.5,342.7 399.9,343.4 400.2,342.7 400.6,339.4 401,339.2 401.4,339.4 401.7,340.2 402.1,341 402.5,340.2 402.9,341 403.2,341 403.6,342.3 404,342.3 404.4,342.3 404.8,341.8 405.1,341.6 405.5,341.3 405.9,331.7 406.3,331.7 406.6,346.1 407,346.1 407.4,346.1 407.8,343.5 408.1,339.9 408.5,339.9 408.9,340.3 409.3,347.1 409.6,347.1 410,347 410.4,347 410.8,347.1 411.1,348.5 411.5,347.1 411.9,348.5 412.3,346 412.7,346 413,346 413.4,351.9 413.8,352.5 414.2,351.9 414.5,349.8 414.9,335.1 415.3,335.1 415.7,346.3 416,346.3 416.4,346.3 416.8,351.1 417.2,352.7 417.5,352.7 417.9,352.8 418.3,352.2 418.7,352.4 419.1,352.2 419.4,352.1 419.8,352.1 420.2,352.3 420.6,352.5 420.9,352.4 421.3,352.4 421.7,352.4 422.1,352.4 422.4,352.4 422.8,352.4 423.2,352.6 423.6,352.4 423.9,352.6 424.3,352.4 424.7,352.1 425.1,352.1 425.4,352.3 425.8,352.4 426.2,352.4 426.6,352.4 427,352.5 427.3,352.5 427.7,352.5 428.1,352.4 428.5,352.4 428.8,352.4 429.2,352.4 429.6,352.2 430,352.2 430.3,352.5 430.7,352.5 431.1,352.5 431.5,352.4 431.8,352.3 432.2,352.3 432.6,352.6 433,352.6 433.3,352.4 433.7,351.9 434.1,351.9 434.5,352.3 434.9,352.4 435.2,352.3 435.6,352.4 436,352.2 436.4,352.4 436.7,352.3 437.1,352.4 437.5,352.3 437.9,352.4 438.2,352.4 438.6,352.4 439,352.6 439.4,352.6 439.7,352.3 440.1,352.2 440.5,352.2 440.9,352.2 441.2,352.3 441.6,352.3 442,352.3 442.4,352.3 442.8,352.3 443.1,352.3 443.5,352.3 443.9,352.4 444.3,352.4 444.6,352.3 445,352.3 445.4,352.5 445.8,352.5 446.1,352.5 446.5,352.5 446.9,352.4 447.3,352.4 447.6,352.4 448,352.2 448.4,352.3 448.8,352.3 449.1,352.4 449.5,352.6 449.9,352.6 450.3,352.6 450.7,352.6 451,352 451.4,352.5 451.8,352.2 452.2,352.4 452.5,352.2 452.9,352.4 453.3,352.4 453.7,352.6 454,352.7 454.4,352.7 454.8,352.6 455.2,352.6 455.5,352.6 455.9,352.6 456.3,352.6 456.7,352.3 457.1,352.3 457.4,352.3 457.8,352.5 458.2,352.7 458.6,352.7 458.9,352.5 459.3,352.4 459.7,352.3 460.1,352.4 460.4,352.4 460.8,352.6 461.2,352.6 461.6,352.6 461.9,352.8 462.3,352.8 462.7,352.7 463.1,352.7 463.4,352.7 463.8,352.5 464.2,352.3 464.6,352.3 465,352.3 465.3,352.3 465.7,352.4 466.1,352.4 466.5,352.4 466.8,352.7 467.2,352.7 467.6,352.7 468,352.6 468.3,352.3 468.7,352.6 469.1,352.7 469.5,352.7 469.8,352.8 470.2,352.5 470.6,352.5 471,352.5 471.3,352.5 471.7,352.5 472.1,352.5 472.5,352.5 472.9,352.4 473.2,352.4 473.6,352.4 474,352 474.4,352 474.7,352.4 475.1,352.6 475.5,352.5 475.9,352.5 476.2,352.5 476.6,352.5 477,352.5 477.4,352.7 477.7,352.7 478.1,352.7 478.5,352.7 478.9,352.7 479.2,352.7 479.6,352.7 480,352.5 480.4,352.5 480.8,352.5 481.1,352.5 481.5,352.4 481.9,352.5 482.3,352.4 482.6,352.4 483,352.4 483.4,352.6 483.8,352.6 484.1,352.6 484.5,352.6 484.9,352.4 485.3,352.4 485.6,352.3 486,352.4 486.4,352.4 486.8,352.6 487.2,352.6 487.5,352.5 487.9,352.5 488.3,352.4 488.7,352.5 489,352.7 489.4,352.7 489.8,352.7 490.2,352.5 490.5,352.5 490.9,352.7 491.3,352.7 491.7,352.6 492,352.5 492.4,352.5 492.8,352.5 493.2,352.2 493.5,352.2 493.9,352.4 494.3,352.4" fill="none" stroke="#0000ff" stroke-width="0.8" stroke-linejoin="round" />
<polyline points="343.8,247.5 344,252.2 344.2,256.9 344.4,261.6 344.6,266.3 344.7,271 344.9,274.2 345.1,276.5 345.3,278.9 345.5,281.2 345.7,283.5 345.9,285.8 346.1,287.9 346.2,279.9 346.4,280.9 346.6,288.3 346.8,287.1 347.2,291.1 347.6,289.1 347.9,291.3 348.3,294 348.7,293.8 349.1,284.4 349.4,292.8 349.8,297.2 350.2,296.3 350.6,297.1 350.9,299.8 351.3,300.3 351.7,300.3 352.1,299.6 352.5,299.3 352.8,303.3 353.2,288.6 353.6,302.1 354,303.2 354.3,297.6 354.7,300.2 355.1,300.4 355.5,302.9 355.8,305.7 356.2,304 356.6,306.9 357,303.8 357.3,305.9 357.7,308.5 358.1,305.4 358.5,299.7 358.9,309.2 359.2,307 359.6,313.1 360,311.9 360.4,309.9 360.7,305.7 361.1,311.8 361.5,311.7 361.9,313.7 362.2,313.5 362.6,307.2 363,317.2 363.4,312.6 363.7,316.7 364.1,316.8 364.5,306.6 364.9,314.9 365.2,317.9 365.6,318.3 366,308.8 366.4,320 366.8,318 367.1,315.5 367.5,319.6 367.9,319 368.3,319.6 368.6,318.2 369,319.2 369.4,324.9 369.8,321.1 370.1,317.7 370.5,325.8 370.9,317.6 371.3,325.5 371.6,325.4 372,323.6 372.4,326.9 372.8,327.7 373.1,326.2 373.5,325.2 373.9,326.8 374.3,322.9 374.7,325.6 375,328.7 375.4,325.7 375.8,327.6 376.2,319.2 376.5,327.7 376.9,330.4 377.3,320.5 377.7,329.7 378,332.3 378.4,331.1 378.8,330.4 379.2,333.3 379.5,330.6 379.9,330.9 380.3,330.8 380.7,334 381,332.6 381.4,331 381.8,332.3 382.2,335.1 382.6,333.8 382.9,331.3 383.3,334.8 383.7,334.4 384.1,331.1 384.4,328.9 384.8,335.9 385.2,337.6 385.6,337.2 385.9,334 386.3,331.8 386.7,338.8 387.1,334 387.4,337.3 387.8,336.3 388.2,339 388.6,336.9 388.9,339 389.3,337.9 389.7,337.9 390.1,335.2 390.5,330.2 390.8,334.2 391.2,329 391.6,337.2 392,334 392.3,329.5 392.7,335.1 393.1,340.9 393.5,341.3 393.8,341 394.2,342.5 394.6,341.9 395,341 395.3,341.4 395.7,343.7 396.1,342.7 396.5,345.7 396.9,341.1 397.2,343.5 397.6,342.4 398,344.7 398.4,343.3 398.7,342.6 399.1,341.1 399.5,345.8 399.9,335.5 400.2,344.2 400.6,339.7 401,343.5 401.4,342.7 401.7,342.9 402.1,345.9 402.5,341.1 402.9,338.1 403.2,345.5 403.6,342.8 404,346.3 404.4,345 404.8,343.8 405.1,346 405.5,343.9 405.9,346.2 406.3,348.1 406.6,345.4 407,348 407.4,345.9 407.8,316.6 408.1,339.7 408.5,346.9 408.9,333.1 409.3,346.5 409.6,346.5 410,344.3 410.4,347.2 410.8,347.3 411.1,345 411.5,343.6 411.9,345.1 412.3,349.2 412.7,349.2 413,346.7 413.4,341.3 413.8,349.7 414.2,347.4 414.5,349.7 414.9,342.8 415.3,350.4 415.7,349.4 416,347.4 416.4,339.3 416.8,338.3 417.2,346.6 417.5,348.2 417.9,348.1 418.3,348.1 418.7,347.8 419.1,348 419.4,348 419.8,348.1 420.2,348.1 420.6,348 420.9,348.3 421.3,348.5 421.7,348.6 422.1,348.5 422.4,348.1 422.8,347.9 423.2,348 423.6,348.2 423.9,348.4 424.3,348.3 424.7,348.3 425.1,348.5 425.4,348.1 425.8,348.2 426.2,348 426.6,348.3 427,348.2 427.3,347.9 427.7,348.2 428.1,348 428.5,348.1 428.8,348.2 429.2,348.4 429.6,348.2 430,348.1 430.3,348.2 430.7,348.2 431.1,348.3 431.5,348 431.8,348.2 432.2,348.2 432.6,348.5 433,348.1 433.3,348.2 433.7,347.8 434.1,347.9 434.5,348.4 434.9,348.4 435.2,348.3 435.6,348.2 436,348.1 436.4,348.4 436.7,348.6 437.1,348.7 437.5,348.3 437.9,347.9 438.2,347.9 438.6,347.9 439,348.2 439.4,348.1 439.7,348.3 440.1,348.4 440.5,348.3 440.9,348 441.2,348.1 441.6,347.7 442,348 442.4,348.2 442.8,348.2 443.1,348.2 443.5,348.8 443.9,348.5 444.3,348.4 444.6,348.2 445,348.3 445.4,348.4 445.8,348.2 446.1,348.2 446.5,348 446.9,348.1 447.3,347.9 447.6,348.3 448,348.3 448.4,348.3 448.8,348.2 449.1,348.2 449.5,348.2 449.9,348.1 450.3,348.4 450.7,348.4 451,348 451.4,348.1 451.8,348 452.2,347.7 452.5,347.7 452.9,348.2 453.3,347.9 453.7,347.8 454,347.9 454.4,348.2 454.8,347.9 455.2,348.1 455.5,348 455.9,347.9 456.3,348 456.7,348 457.1,348.1 457.4,348.3 457.8,348.1 458.2,348.3 458.6,348.2 458.9,347.9 459.3,348.2 459.7,348.1 460.1,348.3 460.4,348.1 460.8,347.9 461.2,347.7 461.6,347.9 461.9,348 462.3,347.9 462.7,347.7 463.1,347.8 463.4,348 463.8,348.2 464.2,348.5 464.6,348.5 465,347.9 465.3,347.7 465.7,347.6 466.1,347.5 466.5,347.8 466.8,348.1 467.2,347.9 467.6,348 468,347.6 468.3,348.1 468.7,348.2 469.1,348.1 469.5,348 469.8,348.1 470.2,347.9 470.6,348.2 471,348.3 471.3,348.1 471.7,347.9 472.1,348 472.5,347.8 472.9,347.9 473.2,348.2 473.6,348.1 474,347.9 474.4,348 474.7,347.7 475.1,347.6 475.5,347.8 475.9,347.7 476.2,347.8 476.6,347.9 477,348 477.4,348.2 477.7,348.1 478.1,348.1 478.5,348.2 478.9,348.3 479.2,348.1 479.6,348.1 480,348.4 480.4,348 480.8,348.2 481.1,348.2 481.5,348.4 481.9,348.3 482.3,347.8 482.6,347.7 483,347.7 483.4,347.8 483.8,348.1 484.1,348.3 484.5,348.4 484.9,348.1 485.3,348.2 485.6,348 486,348 486.4,348 486.8,348 487.2,348.1 487.5,348.2 487.9,348.5 488.3,348.3 488.7,348.2 489,348.1 489.4,348.6 489.8,348.2 490.2,348 490.5,348 490.9,347.8 491.3,347.8 491.7,348 492,348 492.4,348.3 492.8,348.1 493.2,348 493.5,347.8 493.9,348.1 494.3,347.9" fill="none" stroke="#108c20" stroke-width="0.6400000000000001" stroke-linejoin="round" stroke-opacity="0.5"/>
<polyline points="343.8,247.5 344,252.2 344.2,256.9 344.4,261.6 344.6,266.3 344.7,271 344.9,274.2 345.1,276.5 345.3,278.9 345.5,281.2 345.7,283.5 345.9,285.8 346.1,285.8 346.2,280.9 346.4,280.9 346.6,287.1 346.8,288.3 347.2,289.1 347.6,291.1 347.9,291.3 348.3,293.8 348.7,293.8 349.1,292.8 349.4,292.8 349.8,296.3 350.2,297.1 350.6,297.1 350.9,299.8 351.3,300.3 351.7,300.3 352.1,299.6 352.5,299.6 352.8,299.3 353.2,302.1 353.6,302.1 354,302.1 354.3,300.2 354.7,300.2 355.1,300.4 355.5,302.9 355.8,304 356.2,305.7 356.6,304 357,305.9 357.3,305.9 357.7,305.9 358.1,305.4 358.5,305.4 358.9,307 359.2,309.2 359.6,311.9 360,311.9 360.4,309.9 360.7,309.9 361.1,311.7 361.5,311.8 361.9,313.5 362.2,313.5 362.6,313.5 363,312.6 363.4,316.7 363.7,316.7 364.1,316.7 364.5,314.9 364.9,314.9 365.2,317.9 365.6,317.9 366,318.3 366.4,318 366.8,318 367.1,318 367.5,319 367.9,319.6 368.3,319 368.6,319.2 369,319.2 369.4,321.1 369.8,321.1 370.1,321.1 370.5,317.7 370.9,325.5 371.3,325.4 371.6,325.4 372,325.4 372.4,326.9 372.8,326.9 373.1,326.2 373.5,326.2 373.9,325.2 374.3,325.6 374.7,325.6 375,325.7 375.4,327.6 375.8,325.7 376.2,327.6 376.5,327.7 376.9,327.7 377.3,329.7 377.7,329.7 378,331.1 378.4,331.1 378.8,331.1 379.2,330.6 379.5,330.9 379.9,330.8 380.3,330.9 380.7,332.6 381,332.6 381.4,332.3 381.8,332.3 382.2,333.8 382.6,333.8 382.9,333.8 383.3,334.4 383.7,334.4 384.1,331.1 384.4,331.1 384.8,335.9 385.2,337.2 385.6,337.2 385.9,334 386.3,334 386.7,334 387.1,337.3 387.4,336.3 387.8,337.3 388.2,336.9 388.6,339 388.9,337.9 389.3,337.9 389.7,337.9 390.1,335.2 390.5,334.2 390.8,330.2 391.2,334.2 391.6,334 392,334 392.3,334 392.7,335.1 393.1,340.9 393.5,341 393.8,341.3 394.2,341.9 394.6,341.9 395,341.4 395.3,341.4 395.7,342.7 396.1,343.7 396.5,342.7 396.9,343.5 397.2,342.4 397.6,343.5 398,343.3 398.4,343.3 398.7,342.6 399.1,342.6 399.5,341.1 399.9,344.2 400.2,339.7 400.6,343.5 401,342.7 401.4,342.9 401.7,342.9 402.1,342.9 402.5,341.1 402.9,341.1 403.2,342.8 403.6,345.5 404,345 404.4,345 404.8,345 405.1,343.9 405.5,346 405.9,346.2 406.3,346.2 406.6,348 407,345.9 407.4,345.9 407.8,339.7 408.1,339.7 408.5,339.7 408.9,346.5 409.3,346.5 409.6,346.5 410,346.5 410.4,347.2 410.8,347.2 411.1,345 411.5,345 411.9,345.1 412.3,349.2 412.7,349.2 413,346.7 413.4,346.7 413.8,347.4 414.2,349.7 414.5,347.4 414.9,349.7 415.3,349.4 415.7,349.4 416,347.4 416.4,339.3 416.8,339.3 417.2,346.6 417.5,348.1 417.9,348.1 418.3,348.1 418.7,348 419.1,348 419.4,348 419.8,348.1 420.2,348.1 420.6,348.1 420.9,348.3 421.3,348.5 421.7,348.5 422.1,348.5 422.4,348.1 422.8,348 423.2,348 423.6,348.2 423.9,348.3 424.3,348.3 424.7,348.3 425.1,348.3 425.4,348.2 425.8,348.1 426.2,348.2 426.6,348.2 427,348.2 427.3,348.2 427.7,348 428.1,348.1 428.5,348.1 428.8,348.2 429.2,348.2 429.6,348.2 430,348.2 430.3,348.2 430.7,348.2 431.1,348.2 431.5,348.2 431.8,348.2 432.2,348.2 432.6,348.2 433,348.2 433.3,348.1 433.7,347.9 434.1,347.9 434.5,348.4 434.9,348.4 435.2,348.3 435.6,348.2 436,348.2 436.4,348.4 436.7,348.6 437.1,348.6 437.5,348.3 437.9,347.9 438.2,347.9 438.6,347.9 439,348.1 439.4,348.2 439.7,348.3 440.1,348.3 440.5,348.3 440.9,348.1 441.2,348 441.6,348 442,348 442.4,348.2 442.8,348.2 443.1,348.2 443.5,348.5 443.9,348.5 444.3,348.4 444.6,348.3 445,348.3 445.4,348.3 445.8,348.2 446.1,348.2 446.5,348.1 446.9,348 447.3,348.1 447.6,348.3 448,348.3 448.4,348.3 448.8,348.2 449.1,348.2 449.5,348.2 449.9,348.2 450.3,348.4 450.7,348.4 451,348.1 451.4,348 451.8,348 452.2,347.7 452.5,347.7 452.9,347.9 453.3,347.9 453.7,347.9 454,347.9 454.4,347.9 454.8,348.1 455.2,348 455.5,348 455.9,348 456.3,348 456.7,348 457.1,348.1 457.4,348.1 457.8,348.3 458.2,348.2 458.6,348.2 458.9,348.2 459.3,348.1 459.7,348.2 460.1,348.1 460.4,348.1 460.8,347.9 461.2,347.9 461.6,347.9 461.9,347.9 462.3,347.9 462.7,347.8 463.1,347.8 463.4,348 463.8,348.2 464.2,348.5 464.6,348.5 465,347.9 465.3,347.7 465.7,347.6 466.1,347.6 466.5,347.8 466.8,347.9 467.2,348 467.6,347.9 468,348 468.3,348.1 468.7,348.1 469.1,348.1 469.5,348.1 469.8,348 470.2,348.1 470.6,348.2 471,348.2 471.3,348.1 471.7,348 472.1,347.9 472.5,347.9 472.9,347.9 473.2,348.1 473.6,348.1 474,348 474.4,347.9 474.7,347.7 475.1,347.7 475.5,347.7 475.9,347.8 476.2,347.8 476.6,347.9 477,348 477.4,348.1 477.7,348.1 478.1,348.1 478.5,348.2 478.9,348.2 479.2,348.1 479.6,348.1 480,348.1 480.4,348.2 480.8,348.2 481.1,348.2 481.5,348.3 481.9,348.3 482.3,347.8 482.6,347.7 483,347.7 483.4,347.8 483.8,348.1 484.1,348.3 484.5,348.3 484.9,348.2 485.3,348.1 485.6,348 486,348 486.4,348 486.8,348 487.2,348.1 487.5,348.2 487.9,348.3 488.3,348.3 488.7,348.2 489,348.2 489.4,348.2 489.8,348.2 490.2,348 490.5,348 490.9,347.8 491.3,347.8 491.7,348 492,348 492.4,348.1 492.8,348.1 493.2,348 493.5,348 493.9,347.9 494.3,347.9" fill="none" stroke="#108c20" stroke-width="0.8" stroke-linejoin="round" stroke-opacity="0.85"/>
</g>
<rect x="343.8" y="238.3" width="150.5" height="115.2" fill="none" stroke="#858585" stroke-width="0.9"/>
<path d="M343.8 353.5h1.8M494.3 353.5h-1.8M343.8 330.5h1.8M494.3 330.5h-1.8M343.8 307.4h1.8M494.3 307.4h-1.8M343.8 284.4h1.8M494.3 284.4h-1.8M343.8 261.3h1.8M494.3 261.3h-1.8M343.8 238.3h1.8M494.3 238.3h-1.8M343.8 353.5v-1.8M343.8 238.3v1.8M362.6 353.5v-1.8M362.6 238.3v1.8M381.4 353.5v-1.8M381.4 238.3v1.8M400.2 353.5v-1.8M400.2 238.3v1.8M419.1 353.5v-1.8M419.1 238.3v1.8M437.9 353.5v-1.8M437.9 238.3v1.8M456.7 353.5v-1.8M456.7 238.3v1.8M475.5 353.5v-1.8M475.5 238.3v1.8M494.3 353.5v-1.8M494.3 238.3v1.8" stroke="#858585" stroke-width="0.6" fill="none"/>
<g font-family="DejaVu Sans, sans-serif" font-size="4.6" fill="#333">
<text x="342.3" y="355.2" text-anchor="end">0.0</text>
<text x="342.3" y="332.2" text-anchor="end">0.5</text>
<text x="342.3" y="309.1" text-anchor="end">1.0</text>
<text x="342.3" y="286.1" text-anchor="end">1.5</text>
<text x="342.3" y="263" text-anchor="end">2.0</text>
<text x="342.3" y="240" text-anchor="end">2.5</text>
<text x="343.8" y="359.1" text-anchor="middle">0</text>
<text x="362.6" y="359.1" text-anchor="middle">50</text>
<text x="381.4" y="359.1" text-anchor="middle">100</text>
<text x="400.2" y="359.1" text-anchor="middle">150</text>
<text x="419.1" y="359.1" text-anchor="middle">200</text>
<text x="437.9" y="359.1" text-anchor="middle">250</text>
<text x="456.7" y="359.1" text-anchor="middle">300</text>
<text x="475.5" y="359.1" text-anchor="middle">350</text>
<text x="494.3" y="359.1" text-anchor="middle">400</text>
</g>
<ellipse cx="22.1" cy="52.8" rx="17.6" ry="14.7" fill="none" stroke="#111" stroke-width="1.7"/>
<ellipse cx="341.7" cy="62.0" rx="17.7" ry="14.4" fill="none" stroke="#111" stroke-width="1.4"/>
<ellipse cx="32.0" cy="246.0" rx="17.6" ry="14.5" fill="none" stroke="#111" stroke-width="1.7"/>
<ellipse cx="146.4" cy="348.0" rx="35.3" ry="16.4" fill="none" stroke="#111" stroke-width="1.7"/>
<ellipse cx="343.3" cy="251.8" rx="17.7" ry="14.6" fill="none" stroke="#111" stroke-width="1.5"/>
<ellipse cx="450.4" cy="347.0" rx="35.1" ry="16.0" fill="none" stroke="#111" stroke-width="1.7"/>
<rect x="68" y="7.3" width="64.3" height="57" rx="9" fill="#fff" filter="url(#sh)"/>
<g clip-path="url(#ica)">
<path d="M95.6 70V17.3H140" fill="none" stroke="#333" stroke-width="0.9"/>
<polyline points="103.6,66.5 103.8,81.3 104,96.1 104.2,119.1 104.4,116.7 104.6,119.4 104.8,126.7 105,116.3 105.2,115.3 105.4,125 105.6,113 105.8,118.1 106,120.9 106.2,123.9 106.4,122 106.6,138.2 106.8,127.3 107,128.9 107.2,145.7 107.4,133.7 107.6,139.1 107.8,133.2 108,141.8 108.2,139.8 108.4,138.3 108.6,146.8 108.8,138.1 109,143.4 109.2,140.3 109.4,147.5 109.6,138 109.8,141.8 110,143.1 110.2,143.1 110.4,139.9 110.6,137.2 110.8,159.5 111,144.5 111.2,146.7 111.4,145.9 111.6,158.9 111.8,145.1 112,162 112.2,151 112.4,147.1 112.6,166.4 112.8,158.8 113,166 113.2,156.8 113.4,149.4 113.6,146.6 113.8,171.3 114,164 114.2,156.2 114.4,151 114.6,158.8 114.8,166.7 115,160.4 115.2,162.8 115.4,164.4 115.6,168.2 115.8,161.4 116,162.3 116.2,165.3 116.4,166.5 116.6,145 116.8,169 117,158.5 117.2,167.8 117.4,176.2 117.6,159.7 117.8,166.1 118,157.3 118.2,171.7 118.4,176.3 118.6,183.8 118.8,167.4 119,160.6 119.2,183.6 119.4,183.7 119.6,177 119.8,187.4 120,185.1 120.2,186.9 120.4,184.7 120.6,180.1 120.8,188.3 121,183.8 121.2,193.5 121.4,189.9 121.6,206.9 121.8,203.7 122,190.5 122.2,200.5 122.4,194.2 122.6,195.7 122.8,191.8 123,196.3 123.2,196.2 123.4,204.6 123.6,209.5 123.8,210.9 124,210.5 124.2,205.4 124.4,213.3 124.6,211.5 124.8,191.6 125,215.5 125.2,226.2 125.4,199 125.6,213.5 125.8,185.7 126,212.3 126.2,220.6 126.4,221.6 126.6,178.5 126.8,213.2 127,206.9 127.2,187.9 127.4,224.9 127.6,217.7 127.8,189.2 128,217.6 128.2,218.3 128.4,221 128.6,221.7 128.8,233 129,224.9 129.2,202.1 129.4,224.1 129.6,228.4 129.8,222 130,221.3 130.2,225.1 130.4,225.5 130.6,227.5 130.8,231.4 131,230 131.2,232.5 131.4,227.2 131.6,230 131.8,226.8 132,239.4 132.2,225.6 132.4,236.6 132.6,236.8 132.8,233.8 133,236.5 133.2,213.7 133.4,237.4 133.6,241 133.8,240 134,226.6 134.2,235.1 134.4,243.2 134.6,236.1 134.8,246.5 135,225.5 135.2,247.1 135.4,234.7 135.6,235.8 135.8,245 136,237.7 136.2,235 136.4,237.7 136.6,239.1 136.8,226.8 137,240.3 137.2,239.9 137.4,242.4 137.6,239.4 137.8,246.8 138,239.5 138.2,245.7 138.4,248.7 138.6,242.4 138.8,236.7 139,240.1 139.2,246.9 139.4,241.7 139.6,247 139.8,245.7 140,244.9 140.2,255.8 140.4,244.9 140.6,250.5 140.8,249.2 141,252.8 141.2,230.5 141.4,250.8 141.6,243.2 141.8,239.6 142,247.3 142.2,229.1 142.4,248.8 142.6,256.2 142.8,247.3 143,246.2 143.2,250.2 143.4,247.2 143.6,246.2 143.8,243.9 144,229.5 144.2,250.2 144.4,250.4 144.6,251.2 144.8,245.5 145,242.4 145.2,240.4 145.4,247.3" fill="none" stroke="#0000ff" stroke-width="1.1" stroke-linejoin="round" />
<polyline points="103.6,66.5 103.8,92.8 104,119.1 104.2,145.1 104.4,149.2 104.6,144.8 104.8,149.3 105,152.6 105.2,151.2 105.4,155 105.6,152.9 105.8,155.3 106,157.4 106.2,156.1 106.4,162.2 106.6,157.8 106.8,166.5 107,158.8 107.2,163.6 107.4,166 107.6,168.5 107.8,166.4 108,169.3 108.2,170.5 108.4,168.6 108.6,173.4 108.8,174 109,173.5 109.2,173 109.4,177.2 109.6,177.6 109.8,179 110,178.4 110.2,177.7 110.4,184.8 110.6,184 110.8,184.9 111,184.4 111.2,183.3 111.4,188.2 111.6,188.8 111.8,187.3 112,194 112.2,193.7 112.4,193.7 112.6,193.4 112.8,193.6 113,196.3 113.2,191.4 113.4,198.4 113.6,198 113.8,195.6 114,197.2 114.2,199.9 114.4,199.8 114.6,199.5 114.8,202.4 115,201.5 115.2,206.3 115.4,204.6 115.6,209.7 115.8,208.7 116,210.1 116.2,204.9 116.4,210 116.6,209 116.8,212.8 117,211.8 117.2,212.9 117.4,215.1 117.6,211.5 117.8,218.5 118,213.4 118.2,209 118.4,218.4 118.6,216.9 118.8,221.6 119,218.4 119.2,223.4 119.4,218.1 119.6,221.6 119.8,225.7 120,225 120.2,226.4 120.4,223.8 120.6,221.6 120.8,225.4 121,228.1 121.2,227.9 121.4,226.2 121.6,233.2 121.8,226.4 122,227.5 122.2,235.3 122.4,226.9 122.6,234.6 122.8,231.7 123,228.9 123.2,236.3 123.4,237.2 123.6,235.6 123.8,235.9 124,233.8 124.2,235.1 124.4,235.3 124.6,235.6 124.8,235.2 125,237.2 125.2,234.5 125.4,235.7 125.6,238.5 125.8,231.7 126,239.8 126.2,231.8 126.4,239.1 126.6,236.6 126.8,236.5 127,236 127.2,234.9 127.4,240.9 127.6,231.9 127.8,238.3 128,241.7 128.2,243.4 128.4,234.4 128.6,236.4 128.8,240.9 129,239.3 129.2,238.2 129.4,241.6 129.6,243.2 129.8,242.5 130,240.6 130.2,243 130.4,242.3 130.6,241.8 130.8,248.2 131,245.9 131.2,241.1 131.4,243.8 131.6,244 131.8,244.5 132,242.3 132.2,245.2 132.4,250.2 132.6,244.8 132.8,253.3 133,246.7 133.2,242 133.4,243.5 133.6,247.5 133.8,246.7 134,246.5 134.2,244.3 134.4,249 134.6,249.4 134.8,249 135,237.2 135.2,247.1 135.4,248.9 135.6,238.6 135.8,250.8 136,248.6 136.2,250.4 136.4,251.3 136.6,245.9 136.8,250 137,251.9 137.2,249.4 137.4,252.2 137.6,248.4 137.8,247.9 138,247.6 138.2,241.3 138.4,250.9 138.6,246 138.8,251.2 139,247.5 139.2,242.6 139.4,254.3 139.6,247.8 139.8,249 140,248.7 140.2,246.7 140.4,249.8 140.6,250.8 140.8,249.5 141,252 141.2,249.9 141.4,256.3 141.6,246.9 141.8,252.6 142,250 142.2,250.6 142.4,251.2 142.6,251.2 142.8,251.3 143,255.7 143.2,253 143.4,236.3 143.6,254.2 143.8,254.4 144,246.4 144.2,248.8 144.4,247.9 144.6,251.9 144.8,251.3 145,250.1 145.2,250.6 145.4,252.3" fill="none" stroke="#159a45" stroke-width="1.1" stroke-linejoin="round" stroke-opacity="0.8"/>
<polyline points="95.6,37 95.8,37 96,37 96.2,37 96.4,37 96.6,37 96.8,37 97,37 97.2,37 97.4,37 97.6,37 97.8,37 98,37 98.2,37 98.4,37 98.6,37 98.8,37 99,37 99.2,37 99.4,37 99.6,37 99.8,37 100,37 100.2,37 100.4,37 100.6,37 100.8,37 101,37 101.2,37 101.4,37 101.6,37 101.8,37 102,37 102.2,37 102.4,37 102.6,37 102.8,37 103,38 103.2,39 103.4,46.8 103.6,66.5" fill="none" stroke="#2f8f6a" stroke-width="1.1" stroke-linejoin="round" />
<text x="92" y="20.5" font-family="Liberation Sans, sans-serif" font-size="10" fill="#2a2a2a" stroke="#2a2a2a" stroke-width="0.3" text-anchor="end">2.5</text>
<text x="92" y="71.2" font-family="Liberation Sans, sans-serif" font-size="10" fill="#2a2a2a" stroke="#2a2a2a" stroke-width="0.3" text-anchor="end">2.0</text>
</g>
<rect x="68" y="7.3" width="64.3" height="57" rx="9" fill="none" stroke="#a88f87" stroke-width="1.6"/>
<rect x="398.8" y="7.7" width="60.6" height="82.7" rx="10" fill="#fff" filter="url(#sh)"/>
<g clip-path="url(#icb)">
<path d="M426.3 95V10.4H454M426.3 53h2" fill="none" stroke="#333" stroke-width="0.9"/>
<polyline points="426.3,24.9 426.8,26.6 427.3,29.1 427.8,30.8 428.3,32.6 428.7,53 429.3,53.9 429.8,85.4 430.3,55.6 430.8,85.4 431.3,63.2 431.8,95.6 432.3,99.9 433.3,99.9 434.3,76 434.8,102.4 435.3,104.1 436.3,99.9 437.3,95.6 438.3,76 439.3,99.9 440.3,104.1 441.3,69.2 442.3,104.1 443.3,95.6 444.3,99.9 445.3,108.4 446.3,94.9 447.3,93.9 448.3,93.9 449.3,93.9 450.3,93.9 451.3,93.9 452.3,93.9 453.3,93.9 454.3,93.9 455.3,94.4 456.3,102.9 457.3,93.9 458.3,94.5 459.3,96.9 460.3,102.1 461.3,98.3 462.3,101.3 463.3,93.9 464.3,94.9 465.3,105 466.3,88.8 467.3,92.6 468.3,86.2 469.3,75.1 470.3,107.2 471.3,99.4 472.3,99.8 473.3,115 474.3,102.8 475.3,82.1 476.3,95.1 477.3,111.1 478.3,92.8 479.3,111.4 480.3,106.3 481.3,110.5 482.3,80.4 483.3,94.6 484.3,86.4 485.3,101.6" fill="none" stroke="#0000ff" stroke-width="1.3" stroke-linejoin="round" />
<polyline points="426.3,24.9 426.8,39.4 427.3,53.9 427.8,68.5 428.3,83 428.7,89.5 429.3,88.6 429.8,100.8 430.3,92.1 430.8,99.1 431.3,102.5 431.8,98.5 432.3,105.4 433.3,104.1 434.3,113.6 434.8,108.1 435.3,109.1 436.3,114.8 437.3,116 438.3,106.8 439.3,106.3 440.3,111.9 441.3,108.4 442.3,110.3 443.3,118.4 444.3,119.1 445.3,121.7 446.3,118.4 447.3,117.4 448.3,123.6 449.3,124.4 450.3,124.1 451.3,127.4 452.3,123.6 453.3,128.4 454.3,123.6 455.3,127.7 456.3,125.1 457.3,130.2 458.3,135.9 459.3,131.9 460.3,131.4 461.3,129.5 462.3,130.2 463.3,130.5 464.3,130.7 465.3,132.6 466.3,128.7 467.3,136.4 468.3,124.4 469.3,137.5 470.3,138.2 471.3,137.9 472.3,127.2 473.3,145.8 474.3,142.8 475.3,142.7 476.3,140.9 477.3,143.2 478.3,137.5 479.3,150.2 480.3,137.8 481.3,150.1 482.3,148.5 483.3,144.1 484.3,146.4 485.3,147.3" fill="none" stroke="#159a45" stroke-width="1.3" stroke-linejoin="round" stroke-opacity="0.8"/>
<text x="423" y="12.2" font-family="Liberation Sans, sans-serif" font-size="9" fill="#2a2a2a" stroke="#2a2a2a" stroke-width="0.3" text-anchor="end">2.5</text>
<text x="423" y="56.3" font-family="Liberation Sans, sans-serif" font-size="9" fill="#2a2a2a" stroke="#2a2a2a" stroke-width="0.3" text-anchor="end">2.0</text>
</g>
<rect x="398.8" y="7.7" width="60.6" height="82.7" rx="10" fill="none" stroke="#a88f87" stroke-width="1.6"/>
<rect x="76.1" y="195.7" width="72.4" height="54" rx="10" fill="#fff" filter="url(#sh)"/>
<g clip-path="url(#icc)">
<path d="M94.5 255V207.2H146.8V255M94.5 243.2h2M120.6 207.2v2" fill="none" stroke="#333" stroke-width="0.8"/>
<polyline points="120.7,236 121.2,250.4 121.6,264.8 122.1,278.4 122.6,282.5 123,280.8 123.5,288.2 123.9,287.3 124.4,287.2 124.9,283.4 125.3,283.1 125.8,293.5 126.2,292 126.7,286.9 127.2,287.6 127.6,292.5 128.1,291.6 128.5,286.9 129,289.7 129.5,294.3 129.9,295.1 130.4,295.3 130.8,288.8 131.3,297.2 131.8,297.3 132.2,295.3 132.7,297.8 133.1,298.7 133.6,302.9 134.1,299.1 134.5,293.7 135,295.7 135.4,298.3 135.9,301.6 136.4,296.4 136.8,303.8 137.3,298.8 137.7,303.5 138.2,301.6 138.7,309.5 139.1,303.5 139.6,312 140,313.9 140.5,306 141,310.4 141.4,306.6 141.9,298.9 142.3,306.3 142.8,311.2 143.3,308.4 143.7,307.7 144.2,299.6 144.6,311.5 145.1,298.4 145.6,309.5 146,316.2 146.5,312.9 146.9,312.9 147.4,317.7 147.9,313 148.3,317.9 148.8,305.3 149.2,314.7" fill="none" stroke="#0000ff" stroke-width="1.0" stroke-linejoin="round" />
<polyline points="120.7,236 121.2,253.3 121.6,273.4 122.1,290.9 122.6,295.8 123,303.2 123.5,316 123.9,312 124.4,312 124.9,314.2 125.3,311.4 125.8,309.2 126.2,314.7 126.7,313.4 127.2,308.7 127.6,316.5 128.1,319.4 128.5,315.8 129,315.6 129.5,319.8 129.9,316.1 130.4,319.8 130.8,322.3 131.3,319.8 131.8,318.7 132.2,316.6 132.7,321.3 133.1,323.1 133.6,315.4 134.1,326.2 134.5,320.8 135,319.1 135.4,326.4 135.9,324.6 136.4,324.6 136.8,324 137.3,327.2 137.7,330.3 138.2,330.6 138.7,328 139.1,328.3 139.6,322.1 140,329.7 140.5,328.3 141,327.4 141.4,331.8 141.9,336.7 142.3,336.6 142.8,337.8 143.3,329.5 143.7,337 144.2,331.5 144.6,333.8 145.1,331 145.6,333.6 146,337.2 146.5,337.9 146.9,337.6 147.4,337.8 147.9,340.3 148.3,339.3 148.8,328.8 149.2,345" fill="none" stroke="#159a45" stroke-width="1.0" stroke-linejoin="round" stroke-opacity="0.8"/>
<polyline points="94.5,221.6 95,221.6 95.4,221.6 95.9,221.6 96.3,221.6 96.8,221.6 97.3,221.6 97.7,221.6 98.2,221.6 98.6,221.6 99.1,221.6 99.6,221.6 100,221.6 100.5,221.6 100.9,221.6 101.4,221.6 101.9,221.6 102.3,221.6 102.8,221.6 103.2,221.6 103.7,221.6 104.2,221.6 104.6,221.6 105.1,221.6 105.5,221.6 106,221.6 106.5,221.6 106.9,221.6 107.4,221.6 107.8,221.6 108.3,221.6 108.8,221.6 109.2,221.6 109.7,221.6 110.1,221.6 110.6,221.6 111.1,221.6 111.5,221.6 112,221.6 112.4,221.6 112.9,221.6 113.4,221.6 113.8,221.6 114.3,221.6 114.7,221.6 115.2,221.6 115.7,221.6 116.1,221.6 116.6,221.6 117,221.6 117.5,221.6 118,221.6 118.4,221.6 118.9,222 119.3,222.3 119.8,223.8 120.3,226.6 120.7,236" fill="none" stroke="#2f8f6a" stroke-width="1.0" stroke-linejoin="round" />
<text x="92.3" y="210" font-family="Liberation Sans, sans-serif" font-size="7.8" fill="#3a3a3a" stroke="#3a3a3a" stroke-width="0.1" text-anchor="end">2.5</text>
<text x="92.3" y="246" font-family="Liberation Sans, sans-serif" font-size="7.8" fill="#3a3a3a" stroke="#3a3a3a" stroke-width="0.1" text-anchor="end">2.0</text>
</g>
<rect x="76.1" y="195.7" width="72.4" height="54" rx="10" fill="none" stroke="#a88f87" stroke-width="1.6"/>
<rect x="147.6" y="263.7" width="114.2" height="56.9" rx="10" fill="#fff" filter="url(#sh)"/>
<g clip-path="url(#icc2)">
<path d="M140 305H249.5V262M159.5 305v-2M189.5 305v-2M219.5 305v-2M249.5 267h-2" fill="none" stroke="#333" stroke-width="0.8"/>
<polyline points="142.1,289.9 142.7,286.4 143.3,290.4 143.9,291.6 144.5,291.1 145.1,289.4 145.7,290.8 146.3,289.9 146.9,290.4 147.5,293 148.1,291.2 148.7,292.9 149.3,293.2 149.9,287.8 150.5,290.1 151.1,292 151.7,294.7 152.3,295.1 152.9,290.4 153.5,291.4 154.1,292.9 154.7,295.1 155.3,289.1 155.9,294.6 156.5,291.8 157.1,295.6 157.7,288.5 158.3,293.6 158.9,289.4 159.5,285.2 160.1,290.8 160.7,289.3 161.3,296.1 161.9,293.3 162.5,295.4 163.1,292.7 163.7,288.5 164.3,296.5 164.9,296.5 165.5,296.7 166.1,294.2 166.7,295.1 167.3,291.8 167.9,296.1 168.5,295.5 169.1,295 169.7,293.7 170.3,294.9 170.9,297 171.5,297.5 172.1,293.2 172.7,291.7 173.3,293 173.9,296.3 174.5,295.4 175.1,292 175.7,289.5 176.3,297.4 176.9,298.1 177.5,298.1 178.1,294.9 178.7,297.7 179.3,291.3 179.9,294.8 180.5,294.5 181.1,293.4 181.7,293.9 182.3,297.2 182.9,297.8 183.5,293.2 184.1,294.1 184.7,296.2 185.3,296.4 185.9,297.3 186.5,299.3 187.1,299.3 187.7,300.3 188.3,300 188.9,300.8 189.5,300.4 190.1,301 190.7,301.5 191.3,301.9 191.9,301.7 192.5,300.5 193.1,301.2 193.7,302.1 194.3,303 194.9,303.8 195.5,302.9 196.1,301.6 196.7,302.1 197.3,302.3 197.9,302.1 198.5,302 199.1,303.2 199.7,303.2 200.3,303.1 200.9,302 201.5,302.5 202.1,302.2 202.7,302 203.3,302.3 203.9,302.2 204.5,301.8 205.1,301.8 205.7,302.3 206.3,302.3 206.9,302.3 207.5,303 208.1,302.2 208.7,302.4 209.3,302.2 209.9,303 210.5,302.9 211.1,302 211.7,303 212.3,301.9 212.9,301.2 213.5,302 214.1,302.6 214.7,302.3 215.3,302.9 215.9,302.5 216.5,302.7 217.1,302.4 217.7,301.9 218.3,302.4 218.9,303.1 219.5,302.5 220.1,301.9 220.7,301.6 221.3,302.4 221.9,302.4 222.5,302.2 223.1,302.8 223.7,303.2 224.3,303 224.9,302.6 225.5,302.2 226.1,301.6 226.7,301.8 227.3,302 227.9,302.9 228.5,302.4 229.1,303.3 229.7,302.8 230.3,301.8 230.9,302 231.5,302.5 232.1,303.5 232.7,303.4 233.3,303.3 233.9,302.1 234.5,301.1 235.1,301.9 235.7,302.5 236.3,302.5 236.9,301.9 237.5,302.2 238.1,303.1 238.7,302.7 239.3,303.2 239.9,302.4 240.5,302 241.1,301.8 241.7,302.5 242.3,301.9 242.9,302.5 243.5,302.9 244.1,303 244.7,303.4 245.3,303.2 245.9,302 246.5,302.1 247.1,302 247.7,302 248.3,303.6 248.9,303.5 249.5,303" fill="none" stroke="#0000ff" stroke-width="1.0" stroke-linejoin="round" />
<polyline points="142.1,288.2 142.7,282.6 143.3,284.3 143.9,287.8 144.5,284.4 145.1,289.7 145.7,288.4 146.3,285 146.9,290.7 147.5,288.1 148.1,290.8 148.7,286.9 149.3,282.8 149.9,289.1 150.5,286.4 151.1,289.4 151.7,288.7 152.3,290.2 152.9,282.9 153.5,279.6 154.1,285.4 154.7,288.5 155.3,274.4 155.9,287.4 156.5,284.3 157.1,285.6 157.7,285.6 158.3,284.6 158.9,275.9 159.5,287.4 160.1,290.9 160.7,287.5 161.3,290.1 161.9,286.7 162.5,288.9 163.1,286.1 163.7,285.2 164.3,290.2 164.9,285.4 165.5,288.9 166.1,284.4 166.7,280.8 167.3,284.2 167.9,287.4 168.5,282.6 169.1,290.6 169.7,282.5 170.3,288.3 170.9,294 171.5,279.4 172.1,282.3 172.7,289.3 173.3,286.1 173.9,287.2 174.5,286.4 175.1,290.6 175.7,277.1 176.3,285.4 176.9,286.1 177.5,283.5 178.1,286.5 178.7,280.4 179.3,288.7 179.9,286.1 180.5,291.4 181.1,290.1 181.7,283.2 182.3,289.3 182.9,285.4 183.5,287 184.1,289.7 184.7,287.8 185.3,288.3 185.9,288.2 186.5,284.9 187.1,271.5 187.7,286.2 188.3,286.6 188.9,286.7 189.5,285.7 190.1,285.7 190.7,286.3 191.3,287.7 191.9,288.4 192.5,288.6 193.1,288.8 193.7,288.7 194.3,288.6 194.9,288.4 195.5,288.7 196.1,288.5 196.7,288.5 197.3,287.6 197.9,287.1 198.5,286 199.1,286.4 199.7,286.4 200.3,286.9 200.9,286.4 201.5,286.3 202.1,286.1 202.7,286.2 203.3,288 203.9,287.7 204.5,287.6 205.1,287.6 205.7,287 206.3,286.5 206.9,287.1 207.5,286.9 208.1,287.4 208.7,287.5 209.3,287.6 209.9,287.4 210.5,287.1 211.1,286.5 211.7,286.6 212.3,285.5 212.9,285.9 213.5,286.4 214.1,287.3 214.7,287.6 215.3,287.4 215.9,287 216.5,287.2 217.1,286.5 217.7,285.9 218.3,287.1 218.9,286.2 219.5,286.4 220.1,286.6 220.7,286.1 221.3,286.5 221.9,286.1 222.5,286.4 223.1,287.7 223.7,288.1 224.3,287.5 224.9,287.1 225.5,286.5 226.1,287.2 226.7,286.3 227.3,286.4 227.9,285.8 228.5,286 229.1,286.4 229.7,285.7 230.3,286.6 230.9,287.2 231.5,287.1 232.1,287.7 232.7,287.2 233.3,285.9 233.9,285.8 234.5,285.2 235.1,285.7 235.7,286.6 236.3,287.1 236.9,287.2 237.5,287.1 238.1,287 238.7,286.8 239.3,286.9 239.9,287.1 240.5,286.3 241.1,286.4 241.7,286.4 242.3,286.1 242.9,285.8 243.5,285.9 244.1,286 244.7,285.7 245.3,285.1 245.9,285.3 246.5,284.9 247.1,284.1 247.7,284.6 248.3,284.6 248.9,284.5 249.5,284.9" fill="none" stroke="#159a45" stroke-width="1.0" stroke-linejoin="round" stroke-opacity="0.8"/>
<text x="159.1" y="313.3" font-family="Liberation Sans, sans-serif" font-size="7.6" fill="#2a2a2a" stroke="#2a2a2a" stroke-width="0.2" text-anchor="middle">250</text>
<text x="189.1" y="313.3" font-family="Liberation Sans, sans-serif" font-size="7.6" fill="#2a2a2a" stroke="#2a2a2a" stroke-width="0.2" text-anchor="middle">300</text>
<text x="219.1" y="313.3" font-family="Liberation Sans, sans-serif" font-size="7.6" fill="#2a2a2a" stroke="#2a2a2a" stroke-width="0.2" text-anchor="middle">350</text>
<text x="249.1" y="313.3" font-family="Liberation Sans, sans-serif" font-size="7.6" fill="#2a2a2a" stroke="#2a2a2a" stroke-width="0.2" text-anchor="middle">400</text>
</g>
<rect x="147.6" y="263.7" width="114.2" height="56.9" rx="10" fill="none" stroke="#a88f87" stroke-width="1.6"/>
<rect x="379.1" y="193.3" width="57.1" height="59.9" rx="10" fill="#fff" filter="url(#sh)"/>
<g clip-path="url(#icd)">
<path d="M397.3 260V180M397.3 230.5h2" fill="none" stroke="#333" stroke-width="0.9"/>
<polyline points="397.3,204 398.3,205.5 399.3,207 400.3,208.4 401.3,217.3 402.3,226.1 403.3,234.9 404.3,243.7 405.3,252.6 406.3,253.4 407.3,254.2 408.3,255.1 409.3,257.4 410.3,260.4 411.3,263.4 412.3,260.3 413.3,256.1 415.3,261.7 417.3,256.3 419.3,264.5 421.3,264.7 423.3,257.5 425.3,264.7 427.3,272.3 429.3,271.5 431.3,268.4 433.3,261.5 435.3,275.2 437.3,246.2 439.3,270.1 441.3,279.1 443.3,279.7 445.3,274.1" fill="none" stroke="#0000ff" stroke-width="1.4" stroke-linejoin="round" />
<polyline points="397.3,204 398.3,213 399.3,222 400.3,231 401.3,240 402.3,249 403.3,255.2 404.3,259.6 405.3,264.1 406.3,268.5 407.3,272.9 408.3,277.3 409.3,281.4 410.3,266 411.3,268 412.3,282.2 413.3,279.8 415.3,287.5 417.3,283.6 419.3,287.9 421.3,293.1 423.3,292.7 425.3,274.6 427.3,290.7 429.3,299.3 431.3,297.5 433.3,299.1 435.3,304.3 437.3,305.2 439.3,305.3 441.3,303.9 443.3,303.2 445.3,310.9" fill="none" stroke="#159a45" stroke-width="1.4" stroke-linejoin="round" stroke-opacity="0.8"/>
<text x="394.5" y="233.8" font-family="Liberation Sans, sans-serif" font-size="9" fill="#2a2a2a" stroke="#2a2a2a" stroke-width="0.3" text-anchor="end">2.0</text>
</g>
<rect x="379.1" y="193.3" width="57.1" height="59.9" rx="10" fill="none" stroke="#a88f87" stroke-width="1.6"/>
<rect x="449.6" y="270" width="96.4" height="41.6" rx="8" fill="#fff" filter="url(#sh)"/>
<g clip-path="url(#icd2)">
<path d="M440 298.6H560M446 298.6v-2M481 298.6v-2M516 298.6v-2" fill="none" stroke="#333" stroke-width="0.8"/>
<polyline points="443.2,297.4 443.9,295.7 444.6,297 445.3,295.8 446,296.1 446.7,295.5 447.4,292.3 448.1,296.5 448.8,295.9 449.5,296.4 450.2,296.2 450.9,296.1 451.6,296.2 452.3,296.2 453,296.5 453.7,296.2 454.4,297.2 455.1,296.2 455.8,296.7 456.5,295.6 457.2,293.2 457.9,297.1 458.6,296.1 459.3,296.2 460,296.7 460.7,295.9 461.4,296.4 462.1,296.3 462.8,296.3 463.5,296.2 464.2,296.1 464.9,296.8 465.6,295.8 466.3,295.8 467,296.7 467.7,296.5 468.4,296.2 469.1,296.5 469.8,295.3 470.5,296.1 471.2,296.7 471.9,296.6 472.6,296.2 473.3,295 474,292 474.7,296.1 475.4,295.9 476.1,296.2 476.8,295 477.5,296.5 478.2,295.8 478.9,296.1 479.6,295.9 480.3,296.8 481,295.3 481.7,296.3 482.4,296.2 483.1,296.7 483.8,296.6 484.5,295.9 485.2,295.7 485.9,295.8 486.6,295.6 487.3,295.9 488,296.2 488.7,295.8 489.4,295.9 490.1,296.3 490.8,295.9 491.5,295.6 492.2,296.1 492.9,296.4 493.6,295.9 494.3,295.3 495,296.4 495.7,296.3 496.4,296.3 497.1,295.6 497.8,297.2 498.5,296.1 499.2,295.7 499.9,296.7 500.6,295.5 501.3,296 502,296.6 502.7,296.2 503.4,297.1 504.1,296.6 504.8,295.4 505.5,296.7 506.2,295.4 506.9,296.3 507.6,295.8 508.3,296.3 509,293 509.7,296.6 510.4,296.2 511.1,296.9 511.8,297 512.5,296.1 513.2,296.6 513.9,297.2 514.6,296.7 515.3,295.9 516,296.6 516.7,295.9 517.4,295.6 518.1,296.3 518.8,296.9 519.5,297 520.2,296.4 520.9,292.9 521.6,296.2 522.3,296.1 523,296.6 523.7,296.2 524.4,296.6 525.1,296.5 525.8,297 526.5,297.2 527.2,296.6 527.9,296.9 528.6,296.9 529.3,296 530,296.4 530.7,294.9 531.4,295.9 532.1,296.7 532.8,296 533.5,296.2 534.2,296.7 534.9,295.8 535.6,296.8 536.3,297.9 537,296 537.7,296.7 538.4,295.7 539.1,296.7 539.8,297 540.5,295.6 541.2,297 541.9,296.3 542.6,295.7 543.3,296.4 544,296.5 544.7,296.4 545.4,295.9 546.1,296.8 546.8,296.1 547.5,296.2 548.2,295.3 548.9,294.3 549.6,296.9 550.3,296.1 551,296.7 551.7,296.3 552.4,296.4 553.1,295.9 553.8,296.8 554.5,296.5 555.2,297.8 555.9,296.9 556.6,295.7 557.3,296.8 558,296.8 558.7,297.1 559.4,296.2 560.1,296.4 560.8,297.1 561.5,296.2 562.2,296.4 562.9,296.1 563.6,296.8 564.3,295.6 565,296.3 565.7,296.6 566.4,296.8 567.1,296.6 567.8,296.1 568.5,296.7 569.2,296 569.9,296.2 570.6,295.8 571.3,296.1 572,296.6 572.7,297.5 573.4,296.4 574.1,296.1 574.8,296.5 575.5,296.3 576.2,296.8 576.9,296.7 577.6,297 578.3,295.9 579,296.5 579.7,296.8 580.4,297.2 581.1,296.6 581.8,295.8 582.5,296.3 583.2,296.9 583.9,295.9 584.6,295.9 585.3,296.1 586,296.2" fill="none" stroke="#0000ff" stroke-width="1.0" stroke-linejoin="round" />
<polyline points="443.2,287 443.9,286.8 444.6,286.7 445.3,286 446,286.5 446.7,286.6 447.4,286.8 448.1,286.7 448.8,286.7 449.5,287.1 450.2,287.6 450.9,287.9 451.6,287.5 452.3,286.7 453,286.4 453.7,286.4 454.4,286.9 455.1,287.4 455.8,287.2 456.5,287.2 457.2,287.7 457.9,286.8 458.6,286.9 459.3,286.6 460,287.3 460.7,286.9 461.4,286.3 462.1,287.1 462.8,286.6 463.5,286.7 464.2,286.9 464.9,287.5 465.6,287.1 466.3,286.7 467,287 467.7,287.1 468.4,287.2 469.1,286.6 469.8,287 470.5,287 471.2,287.7 471.9,286.9 472.6,286.9 473.3,286.2 474,286.4 474.7,287.3 475.4,287.4 476.1,287.1 476.8,287 477.5,286.9 478.2,287.5 478.9,287.8 479.6,288 480.3,287.3 481,286.4 481.7,286.3 482.4,286.4 483.1,287 483.8,286.8 484.5,287.1 485.2,287.4 485.9,287.1 486.6,286.6 487.3,286.8 488,286 488.7,286.4 489.4,286.9 490.1,287.1 490.8,287 491.5,288.2 492.2,287.7 492.9,287.4 493.6,287 494.3,287.2 495,287.4 495.7,286.9 496.4,287 497.1,286.6 497.8,286.8 498.5,286.2 499.2,287.2 499.9,287.1 500.6,287.3 501.3,286.9 502,286.9 502.7,286.9 503.4,286.9 504.1,287.4 504.8,287.5 505.5,286.6 506.2,286.7 506.9,286.5 507.6,285.9 508.3,286 509,287 509.7,286.3 510.4,286.1 511.1,286.4 511.8,287.1 512.5,286.4 513.2,286.8 513.9,286.5 514.6,286.4 515.3,286.6 516,286.6 516.7,286.7 517.4,287.1 518.1,286.7 518.8,287.2 519.5,286.9 520.2,286.3 520.9,286.9 521.6,286.8 522.3,287.3 523,286.9 523.7,286.2 524.4,285.9 525.1,286.3 525.8,286.5 526.5,286.3 527.2,285.8 527.9,286.1 528.6,286.5 529.3,286.9 530,287.6 530.7,287.6 531.4,286.3 532.1,286 532.8,285.7 533.5,285.4 534.2,286.1 534.9,286.7 535.6,286.2 536.3,286.5 537,285.8 537.7,286.7 538.4,287 539.1,286.8 539.8,286.5 540.5,286.8 541.2,286.3 541.9,287.1 542.6,287.2 543.3,286.8 544,286.2 544.7,286.5 545.4,286.1 546.1,286.4 546.8,287 547.5,286.9 548.2,286.4 548.9,286.5 549.6,285.9 550.3,285.7 551,286.2 551.7,285.8 552.4,286.1 553.1,286.4 553.8,286.6 554.5,286.9 555.2,286.7 555.9,286.7 556.6,286.9 557.3,287.1 558,286.8 558.7,286.8 559.4,287.3 560.1,286.5 560.8,287 561.5,287 562.2,287.4 562.9,287.2 563.6,286.2 564.3,285.8 565,285.8 565.7,286.1 566.4,286.8 567.1,287.2 567.8,287.4 568.5,286.7 569.2,286.9 569.9,286.5 570.6,286.6 571.3,286.4 572,286.4 572.7,286.7 573.4,287 574.1,287.6 574.8,287.3 575.5,286.9 576.2,286.7 576.9,287.8 577.6,287 578.3,286.6 579,286.6 579.7,286.1 580.4,286.2 581.1,286.6 581.8,286.7 582.5,287.1 583.2,286.7 583.9,286.6 584.6,286 585.3,286.8 586,286.4" fill="none" stroke="#159a45" stroke-width="1.0" stroke-linejoin="round" stroke-opacity="0.8"/>
<text x="446" y="307.5" font-family="Liberation Sans, sans-serif" font-size="8.5" fill="#2a2a2a" stroke="#2a2a2a" stroke-width="0.2" text-anchor="middle">200</text>
<text x="481" y="307.5" font-family="Liberation Sans, sans-serif" font-size="8.5" fill="#2a2a2a" stroke="#2a2a2a" stroke-width="0.2" text-anchor="middle">250</text>
<text x="516" y="307.5" font-family="Liberation Sans, sans-serif" font-size="8.5" fill="#2a2a2a" stroke="#2a2a2a" stroke-width="0.2" text-anchor="middle">300</text>
</g>
<rect x="449.6" y="270" width="96.4" height="41.6" rx="8" fill="none" stroke="#a88f87" stroke-width="1.6"/>
<polygon points="40.3,41.6 50.2,39.9 49.6,35.3 58.5,41.9 52.6,51.2 52.2,47.2 41.3,48.9" fill="#fff" stroke="#000" stroke-width="1.5" stroke-linejoin="miter"/>
<polygon points="368.2,53.7 378.4,51.9 378.1,47.9 387.2,54.6 380.8,63.7 380.6,59.4 369.6,61.2" fill="#fff" stroke="#000" stroke-width="1.5" stroke-linejoin="miter"/>
<polygon points="48.5,230.4 58.5,228.9 58.1,224.3 67.2,230.8 60.8,239.7 60.7,235.8 49.7,237.5" fill="#fff" stroke="#000" stroke-width="1.5" stroke-linejoin="miter"/>
<polygon points="357.3,244.2 366.9,242.9 366.2,238.3 375.5,244.7 369.2,253.9 368.9,249.9 358.3,251.5" fill="#fff" stroke="#000" stroke-width="1.5" stroke-linejoin="miter"/>
<polygon points="167.7,317.2 157.3,320.9 160.9,322.3 157.3,331.9 163.6,334.8 167.9,325.9 171.5,327.5" fill="#fff" stroke="#000" stroke-width="1.5" stroke-linejoin="miter"/>
<polygon points="472.4,316.3 461.6,319.9 465.3,321.6 461.3,330.9 467.6,333.8 472.5,325.1 476.1,327.4" fill="#fff" stroke="#000" stroke-width="1.5" stroke-linejoin="miter"/>
<text x="85.6" y="175.0" font-family="Liberation Serif, serif" font-size="12" fill="#333">(a)</text>
<text x="405.6" y="176.2" font-family="Liberation Serif, serif" font-size="12" fill="#333">(b)</text>
<text x="90.6" y="378.9" font-family="Liberation Serif, serif" font-size="12" fill="#333">(c)</text>
<text x="410.6" y="380.2" font-family="Liberation Serif, serif" font-size="12" fill="#333">(d)</text>
<path d="M156.4 400.6H177" stroke="#1fae45" stroke-width="2"/>
<path d="M289.6 401.6H310" stroke="#3b3bf2" stroke-width="2"/>
<g font-family="Liberation Sans, sans-serif" font-size="13.2" fill="#000" stroke="#000" stroke-width="0.32">
<text x="193.3" y="403.8" letter-spacing="-0.2">test loss</text>
<text x="326.2" y="403.8" letter-spacing="-0.15">train loss</text>
<text x="269" y="430.2" text-anchor="middle">x axis: iteration*0.1</text>
<text x="269.8" y="445.3" text-anchor="middle" letter-spacing="-0.3">y axis: loss</text>
</g></svg></body></html>
